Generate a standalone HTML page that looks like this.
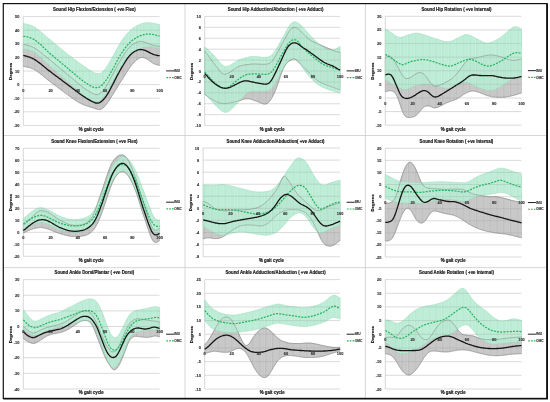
<!DOCTYPE html>
<html><head><meta charset="utf-8"><title>Sound limb kinematics: IMU vs OMC</title>
<style>
html,body{margin:0;padding:0;background:#fff;}
svg{display:block}
text{font-family:"Liberation Sans", sans-serif;font-weight:bold;fill:#222;stroke:#222;stroke-width:.12px;paint-order:stroke}
.tk{font-size:3.9px;fill:#333;stroke:#333;stroke-width:.12px}
.tt{font-size:4.36px;fill:#151515;stroke:#151515;stroke-width:.17px}
.ax{font-size:4.36px;fill:#151515;stroke:#151515;stroke-width:.17px}
.lg{font-size:3.3px;fill:#333;stroke:#333;stroke-width:.1px}
.gl{stroke:#d2d2d2;stroke-width:.8}
.go{stroke:#777;stroke-width:.8;stroke-opacity:.2}
.bi{fill:url(#hg);stroke:#a2a2a2;stroke-width:.45}
.bo{fill:url(#ho);fill-opacity:.9;stroke:#93d9b5;stroke-width:.5}
.si{fill:none;stroke:#808080;stroke-width:.6}
.mo{fill:none;stroke:#25b45e;stroke-width:1.25;stroke-dasharray:2.0 1.2}
.mi{fill:none;stroke:#151515;stroke-width:1.3;stroke-linejoin:round}
</style></head><body>
<svg width="550" height="402" viewBox="0 0 550 402">
<defs>
<pattern id="hg" width="6.8" height="8" patternUnits="userSpaceOnUse"><rect width="6.8" height="8" fill="#cdcdcd"/><path d="M1.36 0V8M2.72 0V8M4.08 0V8M5.44 0V8" stroke="#bdbdbd" stroke-width=".5"/><path d="M0.3 0V8" stroke="#b0b0b0" stroke-width=".6"/></pattern>
<pattern id="ho" width="6.8" height="8" patternUnits="userSpaceOnUse"><rect width="6.8" height="8" fill="#bff0da"/><path d="M1.36 0V8M2.72 0V8M4.08 0V8M5.44 0V8" stroke="#a9e0c6" stroke-width=".5"/><path d="M0.3 0V8" stroke="#9fdabd" stroke-width=".6"/></pattern>
</defs>
<rect width="550" height="402" fill="#fff"/>

<line x1="185.0" y1="4" x2="185.0" y2="398" stroke="#c6c6c6" stroke-width=".7"/>
<line x1="365.4" y1="4" x2="365.4" y2="398" stroke="#c6c6c6" stroke-width=".7"/>
<line x1="3.5" y1="135.5" x2="546.5" y2="135.5" stroke="#c6c6c6" stroke-width=".7"/>
<line x1="3.5" y1="267.6" x2="546.5" y2="267.6" stroke="#c6c6c6" stroke-width=".7"/>
<g id="panel1">
<line class="gl" x1="23.3" y1="16.60" x2="159.6" y2="16.60"/>
<line class="gl" x1="23.3" y1="30.20" x2="159.6" y2="30.20"/>
<line class="gl" x1="23.3" y1="43.80" x2="159.6" y2="43.80"/>
<line class="gl" x1="23.3" y1="57.40" x2="159.6" y2="57.40"/>
<line class="gl" x1="23.3" y1="71.00" x2="159.6" y2="71.00"/>
<line class="gl" x1="23.3" y1="84.60" x2="159.6" y2="84.60"/>
<line class="gl" x1="23.3" y1="98.20" x2="159.6" y2="98.20"/>
<line class="gl" x1="23.3" y1="111.80" x2="159.6" y2="111.80"/>
<line class="gl" x1="23.3" y1="125.40" x2="159.6" y2="125.40"/>
<line x1="23.3" y1="16.60" x2="23.3" y2="125.40" stroke="#bcbcbc" stroke-width=".6"/>
<clipPath id="cp1"><path d="M23.3 44.4L24.2 44.6L25.1 44.7L26 44.9L26.9 45.2L27.8 45.4L28.8 45.7L29.7 46L30.6 46.3L31.5 46.6L32.4 47L33.3 47.4L34.2 47.9L35.1 48.4L36 49L36.9 49.6L37.8 50.2L38.7 50.9L39.7 51.6L40.6 52.3L41.5 53L42.4 53.7L43.3 54.5L44.2 55.2L45.1 55.9L46 56.7L46.9 57.4L47.8 58.1L48.7 58.9L49.7 59.6L50.6 60.4L51.5 61.1L52.4 61.9L53.3 62.6L54.2 63.4L55.1 64.2L56 64.9L56.9 65.7L57.8 66.4L58.7 67.2L59.6 67.9L60.6 68.7L61.5 69.5L62.4 70.2L63.3 71L64.2 71.7L65.1 72.5L66 73.2L66.9 74L67.8 74.8L68.7 75.5L69.6 76.3L70.6 77L71.5 77.8L72.4 78.5L73.3 79.3L74.2 80.1L75.1 80.8L76 81.6L76.9 82.3L77.8 83.1L78.7 83.8L79.6 84.6L80.5 85.4L81.5 86.1L82.4 86.8L83.3 87.5L84.2 88.2L85.1 88.8L86 89.4L86.9 90L87.8 90.6L88.7 91.1L89.6 91.7L90.5 92.2L91.4 92.8L92.4 93.3L93.3 93.7L94.2 94.1L95.1 94.4L96 94.5L96.9 94.6L97.8 94.4L98.7 94.2L99.6 93.7L100.5 93.1L101.4 92.3L102.4 91.4L103.3 90.4L104.2 89.3L105.1 88L106 86.6L106.9 85.1L107.8 83.5L108.7 81.8L109.6 80.1L110.5 78.4L111.4 76.7L112.3 74.9L113.3 73.2L114.2 71.5L115.1 69.8L116 68.1L116.9 66.5L117.8 64.9L118.7 63.3L119.6 61.7L120.5 60.2L121.4 58.6L122.3 57.1L123.3 55.7L124.2 54.3L125.1 52.9L126 51.6L126.9 50.3L127.8 49.1L128.7 48.1L129.6 47.1L130.5 46.2L131.4 45.4L132.3 44.7L133.2 44.1L134.2 43.5L135.1 43L136 42.6L136.9 42.2L137.8 41.9L138.7 41.6L139.6 41.4L140.5 41.4L141.4 41.4L142.3 41.6L143.2 41.8L144.2 42L145.1 42.3L146 42.6L146.9 42.9L147.8 43.3L148.7 43.6L149.6 44L150.5 44.4L151.4 44.7L152.3 45L153.2 45.3L154.1 45.5L155.1 45.7L156 45.9L156.9 46.1L157.8 46.2L158.7 46.3L159.6 46.3L159.6 65.4L158.7 65.2L157.8 65.1L156.9 64.8L156 64.5L155.1 64.2L154.1 63.8L153.2 63.3L152.3 62.8L151.4 62.2L150.5 61.5L149.6 60.9L148.7 60.2L147.8 59.5L146.9 59L146 58.5L145.1 58.1L144.2 57.8L143.2 57.6L142.3 57.5L141.4 57.5L140.5 57.7L139.6 58L138.7 58.5L137.8 59.1L136.9 59.8L136 60.5L135.1 61.4L134.2 62.2L133.2 63.2L132.3 64.2L131.4 65.3L130.5 66.6L129.6 67.8L128.7 69.2L127.8 70.6L126.9 72L126 73.4L125.1 74.9L124.2 76.3L123.3 77.7L122.3 79.2L121.4 80.6L120.5 82.1L119.6 83.5L118.7 85L117.8 86.5L116.9 88L116 89.4L115.1 90.9L114.2 92.4L113.3 93.9L112.3 95.4L111.4 96.8L110.5 98.3L109.6 99.7L108.7 101.1L107.8 102.4L106.9 103.6L106 104.8L105.1 105.9L104.2 106.9L103.3 107.8L102.4 108.5L101.4 109.1L100.5 109.4L99.6 109.6L98.7 109.5L97.8 109.4L96.9 109.2L96 108.9L95.1 108.6L94.2 108.3L93.3 108L92.4 107.7L91.4 107.4L90.5 107.2L89.6 106.9L88.7 106.6L87.8 106.3L86.9 106L86 105.6L85.1 105.3L84.2 105L83.3 104.6L82.4 104.2L81.5 103.8L80.5 103.3L79.6 102.9L78.7 102.4L77.8 101.8L76.9 101.3L76 100.7L75.1 100.1L74.2 99.5L73.3 98.9L72.4 98.2L71.5 97.6L70.6 96.9L69.6 96.3L68.7 95.6L67.8 94.9L66.9 94.3L66 93.6L65.1 92.9L64.2 92.2L63.3 91.6L62.4 90.9L61.5 90.2L60.6 89.5L59.6 88.9L58.7 88.2L57.8 87.5L56.9 86.8L56 86.1L55.1 85.4L54.2 84.8L53.3 84.1L52.4 83.4L51.5 82.7L50.6 82L49.7 81.3L48.7 80.6L47.8 79.9L46.9 79.1L46 78.4L45.1 77.7L44.2 76.9L43.3 76.2L42.4 75.4L41.5 74.7L40.6 74L39.7 73.3L38.7 72.6L37.8 71.9L36.9 71.2L36 70.6L35.1 70.1L34.2 69.6L33.3 69.1L32.4 68.7L31.5 68.4L30.6 68L29.7 67.7L28.8 67.4L27.8 67.2L26.9 67L26 66.8L25.1 66.6L24.2 66.4L23.3 66.3Z"/><path d="M23.3 23.6L24.2 23.7L25.1 23.8L26 24L26.9 24.2L27.8 24.4L28.8 24.7L29.7 24.9L30.6 25.3L31.5 25.6L32.4 26L33.3 26.4L34.2 26.9L35.1 27.4L36 28L36.9 28.7L37.8 29.4L38.7 30.1L39.7 30.9L40.6 31.6L41.5 32.4L42.4 33.1L43.3 33.9L44.2 34.7L45.1 35.4L46 36.2L46.9 37L47.8 37.7L48.7 38.5L49.7 39.3L50.6 40L51.5 40.8L52.4 41.5L53.3 42.3L54.2 43L55.1 43.8L56 44.6L56.9 45.3L57.8 46.1L58.7 46.8L59.6 47.6L60.6 48.4L61.5 49.1L62.4 49.9L63.3 50.6L64.2 51.4L65.1 52.1L66 52.9L66.9 53.6L67.8 54.3L68.7 55.1L69.6 55.8L70.6 56.5L71.5 57.1L72.4 57.8L73.3 58.5L74.2 59.2L75.1 59.8L76 60.5L76.9 61.1L77.8 61.8L78.7 62.5L79.6 63.1L80.5 63.8L81.5 64.4L82.4 65.1L83.3 65.7L84.2 66.4L85.1 67L86 67.6L86.9 68.2L87.8 68.8L88.7 69.4L89.6 70L90.5 70.5L91.4 71.1L92.4 71.7L93.3 72.2L94.2 72.7L95.1 73.1L96 73.4L96.9 73.6L97.8 73.7L98.7 73.7L99.6 73.5L100.5 73.2L101.4 72.7L102.4 72L103.3 71L104.2 70L105.1 68.8L106 67.5L106.9 66.2L107.8 64.9L108.7 63.4L109.6 62L110.5 60.5L111.4 58.9L112.3 57.3L113.3 55.6L114.2 54L115.1 52.3L116 50.6L116.9 48.9L117.8 47.3L118.7 45.7L119.6 44.1L120.5 42.6L121.4 41.2L122.3 39.8L123.3 38.5L124.2 37.2L125.1 36L126 34.9L126.9 33.8L127.8 32.8L128.7 31.9L129.6 31L130.5 30.1L131.4 29.3L132.3 28.6L133.2 27.9L134.2 27.3L135.1 26.7L136 26.2L136.9 25.7L137.8 25.3L138.7 24.8L139.6 24.4L140.5 24.1L141.4 23.8L142.3 23.5L143.2 23.3L144.2 23.1L145.1 22.9L146 22.8L146.9 22.7L147.8 22.7L148.7 22.7L149.6 22.7L150.5 22.8L151.4 22.9L152.3 23L153.2 23.2L154.1 23.4L155.1 23.6L156 23.8L156.9 24L157.8 24.2L158.7 24.4L159.6 24.6L159.6 48.7L158.7 48.6L157.8 48.3L156.9 48.1L156 47.8L155.1 47.5L154.1 47.3L153.2 47.1L152.3 46.9L151.4 46.8L150.5 46.7L149.6 46.7L148.7 46.7L147.8 46.7L146.9 46.8L146 46.9L145.1 47.1L144.2 47.3L143.2 47.5L142.3 47.8L141.4 48.1L140.5 48.4L139.6 48.8L138.7 49.2L137.8 49.6L136.9 50.1L136 50.6L135.1 51.2L134.2 51.8L133.2 52.4L132.3 53.1L131.4 53.9L130.5 54.7L129.6 55.5L128.7 56.5L127.8 57.5L126.9 58.5L126 59.6L125.1 60.8L124.2 62L123.3 63.3L122.3 64.7L121.4 66.1L120.5 67.6L119.6 69.2L118.7 70.8L117.8 72.4L116.9 74.1L116 75.8L115.1 77.5L114.2 79.2L113.3 80.9L112.3 82.5L111.4 84.2L110.5 85.8L109.6 87.4L108.7 89L107.8 90.5L106.9 92L106 93.4L105.1 94.8L104.2 96.2L103.3 97.4L102.4 98.6L101.4 99.6L100.5 100.4L99.6 101L98.7 101.4L97.8 101.7L96.9 101.8L96 101.8L95.1 101.7L94.2 101.5L93.3 101.3L92.4 101L91.4 100.6L90.5 100.1L89.6 99.6L88.7 99L87.8 98.4L86.9 97.8L86 97.2L85.1 96.5L84.2 95.9L83.3 95.2L82.4 94.5L81.5 93.7L80.5 93L79.6 92.2L78.7 91.4L77.8 90.6L76.9 89.9L76 89.1L75.1 88.3L74.2 87.5L73.3 86.7L72.4 85.9L71.5 85.1L70.6 84.4L69.6 83.6L68.7 82.8L67.8 82L66.9 81.2L66 80.4L65.1 79.6L64.2 78.8L63.3 78L62.4 77.2L61.5 76.4L60.6 75.6L59.6 74.8L58.7 74L57.8 73.2L56.9 72.4L56 71.6L55.1 70.8L54.2 70L53.3 69.2L52.4 68.3L51.5 67.5L50.6 66.7L49.7 65.9L48.7 65.1L47.8 64.2L46.9 63.4L46 62.5L45.1 61.6L44.2 60.8L43.3 59.9L42.4 59L41.5 58.2L40.6 57.3L39.7 56.5L38.7 55.6L37.8 54.8L36.9 54.1L36 53.4L35.1 52.8L34.2 52.2L33.3 51.7L32.4 51.3L31.5 50.9L30.6 50.5L29.7 50.2L28.8 50L27.8 49.7L26.9 49.5L26 49.4L25.1 49.2L24.2 49.1L23.3 49Z"/></clipPath>
<path class="bi" d="M23.3 44.4L24.2 44.6L25.1 44.7L26 44.9L26.9 45.2L27.8 45.4L28.8 45.7L29.7 46L30.6 46.3L31.5 46.6L32.4 47L33.3 47.4L34.2 47.9L35.1 48.4L36 49L36.9 49.6L37.8 50.2L38.7 50.9L39.7 51.6L40.6 52.3L41.5 53L42.4 53.7L43.3 54.5L44.2 55.2L45.1 55.9L46 56.7L46.9 57.4L47.8 58.1L48.7 58.9L49.7 59.6L50.6 60.4L51.5 61.1L52.4 61.9L53.3 62.6L54.2 63.4L55.1 64.2L56 64.9L56.9 65.7L57.8 66.4L58.7 67.2L59.6 67.9L60.6 68.7L61.5 69.5L62.4 70.2L63.3 71L64.2 71.7L65.1 72.5L66 73.2L66.9 74L67.8 74.8L68.7 75.5L69.6 76.3L70.6 77L71.5 77.8L72.4 78.5L73.3 79.3L74.2 80.1L75.1 80.8L76 81.6L76.9 82.3L77.8 83.1L78.7 83.8L79.6 84.6L80.5 85.4L81.5 86.1L82.4 86.8L83.3 87.5L84.2 88.2L85.1 88.8L86 89.4L86.9 90L87.8 90.6L88.7 91.1L89.6 91.7L90.5 92.2L91.4 92.8L92.4 93.3L93.3 93.7L94.2 94.1L95.1 94.4L96 94.5L96.9 94.6L97.8 94.4L98.7 94.2L99.6 93.7L100.5 93.1L101.4 92.3L102.4 91.4L103.3 90.4L104.2 89.3L105.1 88L106 86.6L106.9 85.1L107.8 83.5L108.7 81.8L109.6 80.1L110.5 78.4L111.4 76.7L112.3 74.9L113.3 73.2L114.2 71.5L115.1 69.8L116 68.1L116.9 66.5L117.8 64.9L118.7 63.3L119.6 61.7L120.5 60.2L121.4 58.6L122.3 57.1L123.3 55.7L124.2 54.3L125.1 52.9L126 51.6L126.9 50.3L127.8 49.1L128.7 48.1L129.6 47.1L130.5 46.2L131.4 45.4L132.3 44.7L133.2 44.1L134.2 43.5L135.1 43L136 42.6L136.9 42.2L137.8 41.9L138.7 41.6L139.6 41.4L140.5 41.4L141.4 41.4L142.3 41.6L143.2 41.8L144.2 42L145.1 42.3L146 42.6L146.9 42.9L147.8 43.3L148.7 43.6L149.6 44L150.5 44.4L151.4 44.7L152.3 45L153.2 45.3L154.1 45.5L155.1 45.7L156 45.9L156.9 46.1L157.8 46.2L158.7 46.3L159.6 46.3L159.6 65.4L158.7 65.2L157.8 65.1L156.9 64.8L156 64.5L155.1 64.2L154.1 63.8L153.2 63.3L152.3 62.8L151.4 62.2L150.5 61.5L149.6 60.9L148.7 60.2L147.8 59.5L146.9 59L146 58.5L145.1 58.1L144.2 57.8L143.2 57.6L142.3 57.5L141.4 57.5L140.5 57.7L139.6 58L138.7 58.5L137.8 59.1L136.9 59.8L136 60.5L135.1 61.4L134.2 62.2L133.2 63.2L132.3 64.2L131.4 65.3L130.5 66.6L129.6 67.8L128.7 69.2L127.8 70.6L126.9 72L126 73.4L125.1 74.9L124.2 76.3L123.3 77.7L122.3 79.2L121.4 80.6L120.5 82.1L119.6 83.5L118.7 85L117.8 86.5L116.9 88L116 89.4L115.1 90.9L114.2 92.4L113.3 93.9L112.3 95.4L111.4 96.8L110.5 98.3L109.6 99.7L108.7 101.1L107.8 102.4L106.9 103.6L106 104.8L105.1 105.9L104.2 106.9L103.3 107.8L102.4 108.5L101.4 109.1L100.5 109.4L99.6 109.6L98.7 109.5L97.8 109.4L96.9 109.2L96 108.9L95.1 108.6L94.2 108.3L93.3 108L92.4 107.7L91.4 107.4L90.5 107.2L89.6 106.9L88.7 106.6L87.8 106.3L86.9 106L86 105.6L85.1 105.3L84.2 105L83.3 104.6L82.4 104.2L81.5 103.8L80.5 103.3L79.6 102.9L78.7 102.4L77.8 101.8L76.9 101.3L76 100.7L75.1 100.1L74.2 99.5L73.3 98.9L72.4 98.2L71.5 97.6L70.6 96.9L69.6 96.3L68.7 95.6L67.8 94.9L66.9 94.3L66 93.6L65.1 92.9L64.2 92.2L63.3 91.6L62.4 90.9L61.5 90.2L60.6 89.5L59.6 88.9L58.7 88.2L57.8 87.5L56.9 86.8L56 86.1L55.1 85.4L54.2 84.8L53.3 84.1L52.4 83.4L51.5 82.7L50.6 82L49.7 81.3L48.7 80.6L47.8 79.9L46.9 79.1L46 78.4L45.1 77.7L44.2 76.9L43.3 76.2L42.4 75.4L41.5 74.7L40.6 74L39.7 73.3L38.7 72.6L37.8 71.9L36.9 71.2L36 70.6L35.1 70.1L34.2 69.6L33.3 69.1L32.4 68.7L31.5 68.4L30.6 68L29.7 67.7L28.8 67.4L27.8 67.2L26.9 67L26 66.8L25.1 66.6L24.2 66.4L23.3 66.3Z"/>
<path class="bo" d="M23.3 23.6L24.2 23.7L25.1 23.8L26 24L26.9 24.2L27.8 24.4L28.8 24.7L29.7 24.9L30.6 25.3L31.5 25.6L32.4 26L33.3 26.4L34.2 26.9L35.1 27.4L36 28L36.9 28.7L37.8 29.4L38.7 30.1L39.7 30.9L40.6 31.6L41.5 32.4L42.4 33.1L43.3 33.9L44.2 34.7L45.1 35.4L46 36.2L46.9 37L47.8 37.7L48.7 38.5L49.7 39.3L50.6 40L51.5 40.8L52.4 41.5L53.3 42.3L54.2 43L55.1 43.8L56 44.6L56.9 45.3L57.8 46.1L58.7 46.8L59.6 47.6L60.6 48.4L61.5 49.1L62.4 49.9L63.3 50.6L64.2 51.4L65.1 52.1L66 52.9L66.9 53.6L67.8 54.3L68.7 55.1L69.6 55.8L70.6 56.5L71.5 57.1L72.4 57.8L73.3 58.5L74.2 59.2L75.1 59.8L76 60.5L76.9 61.1L77.8 61.8L78.7 62.5L79.6 63.1L80.5 63.8L81.5 64.4L82.4 65.1L83.3 65.7L84.2 66.4L85.1 67L86 67.6L86.9 68.2L87.8 68.8L88.7 69.4L89.6 70L90.5 70.5L91.4 71.1L92.4 71.7L93.3 72.2L94.2 72.7L95.1 73.1L96 73.4L96.9 73.6L97.8 73.7L98.7 73.7L99.6 73.5L100.5 73.2L101.4 72.7L102.4 72L103.3 71L104.2 70L105.1 68.8L106 67.5L106.9 66.2L107.8 64.9L108.7 63.4L109.6 62L110.5 60.5L111.4 58.9L112.3 57.3L113.3 55.6L114.2 54L115.1 52.3L116 50.6L116.9 48.9L117.8 47.3L118.7 45.7L119.6 44.1L120.5 42.6L121.4 41.2L122.3 39.8L123.3 38.5L124.2 37.2L125.1 36L126 34.9L126.9 33.8L127.8 32.8L128.7 31.9L129.6 31L130.5 30.1L131.4 29.3L132.3 28.6L133.2 27.9L134.2 27.3L135.1 26.7L136 26.2L136.9 25.7L137.8 25.3L138.7 24.8L139.6 24.4L140.5 24.1L141.4 23.8L142.3 23.5L143.2 23.3L144.2 23.1L145.1 22.9L146 22.8L146.9 22.7L147.8 22.7L148.7 22.7L149.6 22.7L150.5 22.8L151.4 22.9L152.3 23L153.2 23.2L154.1 23.4L155.1 23.6L156 23.8L156.9 24L157.8 24.2L158.7 24.4L159.6 24.6L159.6 48.7L158.7 48.6L157.8 48.3L156.9 48.1L156 47.8L155.1 47.5L154.1 47.3L153.2 47.1L152.3 46.9L151.4 46.8L150.5 46.7L149.6 46.7L148.7 46.7L147.8 46.7L146.9 46.8L146 46.9L145.1 47.1L144.2 47.3L143.2 47.5L142.3 47.8L141.4 48.1L140.5 48.4L139.6 48.8L138.7 49.2L137.8 49.6L136.9 50.1L136 50.6L135.1 51.2L134.2 51.8L133.2 52.4L132.3 53.1L131.4 53.9L130.5 54.7L129.6 55.5L128.7 56.5L127.8 57.5L126.9 58.5L126 59.6L125.1 60.8L124.2 62L123.3 63.3L122.3 64.7L121.4 66.1L120.5 67.6L119.6 69.2L118.7 70.8L117.8 72.4L116.9 74.1L116 75.8L115.1 77.5L114.2 79.2L113.3 80.9L112.3 82.5L111.4 84.2L110.5 85.8L109.6 87.4L108.7 89L107.8 90.5L106.9 92L106 93.4L105.1 94.8L104.2 96.2L103.3 97.4L102.4 98.6L101.4 99.6L100.5 100.4L99.6 101L98.7 101.4L97.8 101.7L96.9 101.8L96 101.8L95.1 101.7L94.2 101.5L93.3 101.3L92.4 101L91.4 100.6L90.5 100.1L89.6 99.6L88.7 99L87.8 98.4L86.9 97.8L86 97.2L85.1 96.5L84.2 95.9L83.3 95.2L82.4 94.5L81.5 93.7L80.5 93L79.6 92.2L78.7 91.4L77.8 90.6L76.9 89.9L76 89.1L75.1 88.3L74.2 87.5L73.3 86.7L72.4 85.9L71.5 85.1L70.6 84.4L69.6 83.6L68.7 82.8L67.8 82L66.9 81.2L66 80.4L65.1 79.6L64.2 78.8L63.3 78L62.4 77.2L61.5 76.4L60.6 75.6L59.6 74.8L58.7 74L57.8 73.2L56.9 72.4L56 71.6L55.1 70.8L54.2 70L53.3 69.2L52.4 68.3L51.5 67.5L50.6 66.7L49.7 65.9L48.7 65.1L47.8 64.2L46.9 63.4L46 62.5L45.1 61.6L44.2 60.8L43.3 59.9L42.4 59L41.5 58.2L40.6 57.3L39.7 56.5L38.7 55.6L37.8 54.8L36.9 54.1L36 53.4L35.1 52.8L34.2 52.2L33.3 51.7L32.4 51.3L31.5 50.9L30.6 50.5L29.7 50.2L28.8 50L27.8 49.7L26.9 49.5L26 49.4L25.1 49.2L24.2 49.1L23.3 49Z"/>
<path class="go" clip-path="url(#cp1)" d="M23.3 16.60H159.6M23.3 30.20H159.6M23.3 43.80H159.6M23.3 57.40H159.6M23.3 71.00H159.6M23.3 84.60H159.6M23.3 98.20H159.6M23.3 111.80H159.6M23.3 125.40H159.6"/>
<path class="si" d="M23.3 44.4L24.2 44.6L25.1 44.7L26 44.9L26.9 45.2L27.8 45.4L28.8 45.7L29.7 46L30.6 46.3L31.5 46.6L32.4 47L33.3 47.4L34.2 47.9L35.1 48.4L36 49L36.9 49.6L37.8 50.2L38.7 50.9L39.7 51.6L40.6 52.3L41.5 53L42.4 53.7L43.3 54.5L44.2 55.2L45.1 55.9L46 56.7L46.9 57.4L47.8 58.1L48.7 58.9L49.7 59.6L50.6 60.4L51.5 61.1L52.4 61.9L53.3 62.6L54.2 63.4L55.1 64.2L56 64.9L56.9 65.7L57.8 66.4L58.7 67.2L59.6 67.9L60.6 68.7L61.5 69.5L62.4 70.2L63.3 71L64.2 71.7L65.1 72.5L66 73.2L66.9 74L67.8 74.8L68.7 75.5L69.6 76.3L70.6 77L71.5 77.8L72.4 78.5L73.3 79.3L74.2 80.1L75.1 80.8L76 81.6L76.9 82.3L77.8 83.1L78.7 83.8L79.6 84.6L80.5 85.4L81.5 86.1L82.4 86.8L83.3 87.5L84.2 88.2L85.1 88.8L86 89.4L86.9 90L87.8 90.6L88.7 91.1L89.6 91.7L90.5 92.2L91.4 92.8L92.4 93.3L93.3 93.7L94.2 94.1L95.1 94.4L96 94.5L96.9 94.6L97.8 94.4L98.7 94.2L99.6 93.7L100.5 93.1L101.4 92.3L102.4 91.4L103.3 90.4L104.2 89.3L105.1 88L106 86.6L106.9 85.1L107.8 83.5L108.7 81.8L109.6 80.1L110.5 78.4L111.4 76.7L112.3 74.9L113.3 73.2L114.2 71.5L115.1 69.8L116 68.1L116.9 66.5L117.8 64.9L118.7 63.3L119.6 61.7L120.5 60.2L121.4 58.6L122.3 57.1L123.3 55.7L124.2 54.3L125.1 52.9L126 51.6L126.9 50.3L127.8 49.1L128.7 48.1L129.6 47.1L130.5 46.2L131.4 45.4L132.3 44.7L133.2 44.1L134.2 43.5L135.1 43L136 42.6L136.9 42.2L137.8 41.9L138.7 41.6L139.6 41.4L140.5 41.4L141.4 41.4L142.3 41.6L143.2 41.8L144.2 42L145.1 42.3L146 42.6L146.9 42.9L147.8 43.3L148.7 43.6L149.6 44L150.5 44.4L151.4 44.7L152.3 45L153.2 45.3L154.1 45.5L155.1 45.7L156 45.9L156.9 46.1L157.8 46.2L158.7 46.3L159.6 46.3" stroke-opacity=".85"/>
<path class="si" d="M23.3 66.3L24.2 66.4L25.1 66.6L26 66.8L26.9 67L27.8 67.2L28.8 67.4L29.7 67.7L30.6 68L31.5 68.4L32.4 68.7L33.3 69.1L34.2 69.6L35.1 70.1L36 70.6L36.9 71.2L37.8 71.9L38.7 72.6L39.7 73.3L40.6 74L41.5 74.7L42.4 75.4L43.3 76.2L44.2 76.9L45.1 77.7L46 78.4L46.9 79.1L47.8 79.9L48.7 80.6L49.7 81.3L50.6 82L51.5 82.7L52.4 83.4L53.3 84.1L54.2 84.8L55.1 85.4L56 86.1L56.9 86.8L57.8 87.5L58.7 88.2L59.6 88.9L60.6 89.5L61.5 90.2L62.4 90.9L63.3 91.6L64.2 92.2L65.1 92.9L66 93.6L66.9 94.3L67.8 94.9L68.7 95.6L69.6 96.3L70.6 96.9L71.5 97.6L72.4 98.2L73.3 98.9L74.2 99.5L75.1 100.1L76 100.7L76.9 101.3L77.8 101.8L78.7 102.4L79.6 102.9L80.5 103.3L81.5 103.8L82.4 104.2L83.3 104.6L84.2 105L85.1 105.3L86 105.6L86.9 106L87.8 106.3L88.7 106.6L89.6 106.9L90.5 107.2L91.4 107.4L92.4 107.7L93.3 108L94.2 108.3L95.1 108.6L96 108.9L96.9 109.2L97.8 109.4L98.7 109.5L99.6 109.6L100.5 109.4L101.4 109.1L102.4 108.5L103.3 107.8L104.2 106.9L105.1 105.9L106 104.8L106.9 103.6L107.8 102.4L108.7 101.1L109.6 99.7L110.5 98.3L111.4 96.8L112.3 95.4L113.3 93.9L114.2 92.4L115.1 90.9L116 89.4L116.9 88L117.8 86.5L118.7 85L119.6 83.5L120.5 82.1L121.4 80.6L122.3 79.2L123.3 77.7L124.2 76.3L125.1 74.9L126 73.4L126.9 72L127.8 70.6L128.7 69.2L129.6 67.8L130.5 66.6L131.4 65.3L132.3 64.2L133.2 63.2L134.2 62.2L135.1 61.4L136 60.5L136.9 59.8L137.8 59.1L138.7 58.5L139.6 58L140.5 57.7L141.4 57.5L142.3 57.5L143.2 57.6L144.2 57.8L145.1 58.1L146 58.5L146.9 59L147.8 59.5L148.7 60.2L149.6 60.9L150.5 61.5L151.4 62.2L152.3 62.8L153.2 63.3L154.1 63.8L155.1 64.2L156 64.5L156.9 64.8L157.8 65.1L158.7 65.2L159.6 65.4" stroke-opacity=".7"/>
<path class="mo" d="M23.3 36.3L24.2 36.4L25.1 36.5L26 36.6L26.9 36.8L27.8 37L28.8 37.3L29.7 37.6L30.6 37.9L31.5 38.2L32.4 38.6L33.3 39.1L34.2 39.6L35.1 40.1L36 40.7L36.9 41.4L37.8 42.1L38.7 42.9L39.7 43.7L40.6 44.5L41.5 45.4L42.4 46.3L43.3 47.2L44.2 48.1L45.1 49L46 49.8L46.9 50.7L47.8 51.6L48.7 52.4L49.7 53.2L50.6 54L51.5 54.8L52.4 55.5L53.3 56.3L54.2 57L55.1 57.8L56 58.6L56.9 59.3L57.8 60.1L58.7 60.8L59.6 61.6L60.6 62.3L61.5 63.1L62.4 63.9L63.3 64.6L64.2 65.4L65.1 66.1L66 66.9L66.9 67.6L67.8 68.4L68.7 69.2L69.6 69.9L70.6 70.7L71.5 71.4L72.4 72.2L73.3 72.9L74.2 73.7L75.1 74.5L76 75.2L76.9 76L77.8 76.7L78.7 77.5L79.6 78.2L80.5 79L81.5 79.7L82.4 80.4L83.3 81.1L84.2 81.8L85.1 82.4L86 83L86.9 83.6L87.8 84.2L88.7 84.8L89.6 85.3L90.5 85.9L91.4 86.3L92.4 86.8L93.3 87.1L94.2 87.4L95.1 87.6L96 87.7L96.9 87.7L97.8 87.6L98.7 87.4L99.6 87L100.5 86.4L101.4 85.6L102.4 84.8L103.3 83.8L104.2 82.7L105.1 81.5L106 80.3L106.9 79L107.8 77.6L108.7 76.2L109.6 74.7L110.5 73.1L111.4 71.6L112.3 69.9L113.3 68.2L114.2 66.5L115.1 64.8L116 63L116.9 61.3L117.8 59.6L118.7 58L119.6 56.4L120.5 54.9L121.4 53.4L122.3 52L123.3 50.7L124.2 49.4L125.1 48.2L126 47L126.9 45.9L127.8 44.8L128.7 43.8L129.6 42.9L130.5 42L131.4 41.2L132.3 40.4L133.2 39.7L134.2 39.1L135.1 38.5L136 37.9L136.9 37.4L137.8 36.9L138.7 36.5L139.6 36.1L140.5 35.7L141.4 35.4L142.3 35.1L143.2 34.8L144.2 34.6L145.1 34.4L146 34.2L146.9 34L147.8 34L148.7 33.9L149.6 34L150.5 34L151.4 34.2L152.3 34.3L153.2 34.5L154.1 34.7L155.1 35L156 35.2L156.9 35.5L157.8 35.7L158.7 35.9L159.6 36"/>
<path class="mi" d="M23.3 55.4L24.2 55.6L25.1 55.8L26 56L26.9 56.3L27.8 56.6L28.8 56.9L29.7 57.2L30.6 57.6L31.5 58L32.4 58.4L33.3 58.8L34.2 59.3L35.1 59.9L36 60.4L36.9 61L37.8 61.7L38.7 62.4L39.7 63.1L40.6 63.8L41.5 64.5L42.4 65.3L43.3 66L44.2 66.8L45.1 67.5L46 68.2L46.9 69L47.8 69.7L48.7 70.4L49.7 71.1L50.6 71.8L51.5 72.5L52.4 73.2L53.3 73.9L54.2 74.6L55.1 75.2L56 75.9L56.9 76.6L57.8 77.3L58.7 78L59.6 78.6L60.6 79.3L61.5 80L62.4 80.7L63.3 81.4L64.2 82.1L65.1 82.7L66 83.4L66.9 84.1L67.8 84.8L68.7 85.5L69.6 86.1L70.6 86.8L71.5 87.5L72.4 88.2L73.3 88.9L74.2 89.5L75.1 90.2L76 90.9L76.9 91.6L77.8 92.3L78.7 93L79.6 93.6L80.5 94.3L81.5 95L82.4 95.6L83.3 96.2L84.2 96.8L85.1 97.4L86 98L86.9 98.5L87.8 99.1L88.7 99.6L89.6 100.1L90.5 100.6L91.4 101.1L92.4 101.6L93.3 102L94.2 102.4L95.1 102.8L96 103L96.9 103.2L97.8 103.1L98.7 103L99.6 102.6L100.5 102.1L101.4 101.4L102.4 100.6L103.3 99.7L104.2 98.8L105.1 97.7L106 96.5L106.9 95.2L107.8 93.7L108.7 92.2L109.6 90.5L110.5 88.8L111.4 87L112.3 85.2L113.3 83.4L114.2 81.6L115.1 79.8L116 78.1L116.9 76.3L117.8 74.6L118.7 73L119.6 71.3L120.5 69.7L121.4 68.1L122.3 66.5L123.3 65L124.2 63.5L125.1 62L126 60.6L126.9 59.2L127.8 58L128.7 56.8L129.6 55.7L130.5 54.8L131.4 53.9L132.3 53.1L133.2 52.4L134.2 51.8L135.1 51.3L136 50.8L136.9 50.4L137.8 50L138.7 49.7L139.6 49.6L140.5 49.5L141.4 49.6L142.3 49.7L143.2 49.9L144.2 50.1L145.1 50.4L146 50.8L146.9 51.2L147.8 51.6L148.7 52.1L149.6 52.6L150.5 53.1L151.4 53.5L152.3 53.9L153.2 54.3L154.1 54.6L155.1 54.9L156 55.1L156.9 55.3L157.8 55.5L158.7 55.6L159.6 55.7"/>
<text class="tk" transform="translate(19.40,18.10) scale(1,1.1)" text-anchor="end">50</text>
<text class="tk" transform="translate(19.40,31.70) scale(1,1.1)" text-anchor="end">40</text>
<text class="tk" transform="translate(19.40,45.30) scale(1,1.1)" text-anchor="end">30</text>
<text class="tk" transform="translate(19.40,58.90) scale(1,1.1)" text-anchor="end">20</text>
<text class="tk" transform="translate(19.40,72.50) scale(1,1.1)" text-anchor="end">10</text>
<text class="tk" transform="translate(19.40,86.10) scale(1,1.1)" text-anchor="end">0</text>
<text class="tk" transform="translate(19.40,99.70) scale(1,1.1)" text-anchor="end">-10</text>
<text class="tk" transform="translate(19.40,113.30) scale(1,1.1)" text-anchor="end">-20</text>
<text class="tk" transform="translate(19.40,126.90) scale(1,1.1)" text-anchor="end">-30</text>
<text class="tk" transform="translate(23.30,91.60) scale(1,1.1)" text-anchor="middle">0</text>
<text class="tk" transform="translate(50.56,91.60) scale(1,1.1)" text-anchor="middle">20</text>
<text class="tk" transform="translate(77.82,91.60) scale(1,1.1)" text-anchor="middle">40</text>
<text class="tk" transform="translate(105.08,91.60) scale(1,1.1)" text-anchor="middle">60</text>
<text class="tk" transform="translate(132.34,91.60) scale(1,1.1)" text-anchor="middle">80</text>
<text class="tk" transform="translate(159.60,91.60) scale(1,1.1)" text-anchor="middle">100</text>
<text class="tt" transform="translate(94.40,11.20) scale(1,1.18)" text-anchor="middle">Sound Hip Flexion/Extension ( +ve Flex)</text>
<text class="ax" transform="translate(91.25,130.80) scale(1,1.12)" text-anchor="middle">% gait cycle</text>
<text class="ax" transform="translate(11.90,71.30) rotate(-90)" text-anchor="middle">Degrees</text>
<line x1="166.10" y1="70.90" x2="174.10" y2="70.90" stroke="#222" stroke-width="1"/>
<text class="lg" x="174.20" y="72.10">IMU</text>
<line x1="166.40" y1="77.60" x2="174.10" y2="77.60" stroke="#25b45e" stroke-width="1.1" stroke-dasharray="1.7 1.1"/>
<text class="lg" x="174.20" y="78.80">OMC</text>
</g>
<g id="panel2">
<line class="gl" x1="204.7" y1="16.40" x2="340.1" y2="16.40"/>
<line class="gl" x1="204.7" y1="27.32" x2="340.1" y2="27.32"/>
<line class="gl" x1="204.7" y1="38.24" x2="340.1" y2="38.24"/>
<line class="gl" x1="204.7" y1="49.16" x2="340.1" y2="49.16"/>
<line class="gl" x1="204.7" y1="60.08" x2="340.1" y2="60.08"/>
<line class="gl" x1="204.7" y1="71.00" x2="340.1" y2="71.00"/>
<line class="gl" x1="204.7" y1="81.92" x2="340.1" y2="81.92"/>
<line class="gl" x1="204.7" y1="92.84" x2="340.1" y2="92.84"/>
<line class="gl" x1="204.7" y1="103.76" x2="340.1" y2="103.76"/>
<line class="gl" x1="204.7" y1="114.68" x2="340.1" y2="114.68"/>
<line class="gl" x1="204.7" y1="125.60" x2="340.1" y2="125.60"/>
<line x1="204.7" y1="16.40" x2="204.7" y2="125.60" stroke="#bcbcbc" stroke-width=".6"/>
<clipPath id="cp2"><path d="M204.7 51.5L205.6 52.2L206.5 53.3L207.4 54.4L208.3 55.6L209.2 56.9L210.1 58.1L211 59.3L211.9 60.5L212.8 61.8L213.7 63L214.6 64.2L215.5 65.4L216.4 66.6L217.3 67.8L218.2 69L219.1 70.2L220 71.3L220.9 72.3L221.9 73.1L222.8 73.7L223.7 74.1L224.6 74.2L225.5 74.1L226.4 73.9L227.3 73.6L228.2 73.1L229.1 72.6L230 72.1L230.9 71.6L231.8 71L232.7 70.3L233.6 69.7L234.5 69.1L235.4 68.4L236.3 67.9L237.2 67.3L238.1 66.9L239 66.4L239.9 66.1L240.8 65.8L241.7 65.5L242.6 65.3L243.5 65.1L244.4 65L245.3 64.8L246.2 64.7L247.1 64.6L248 64.5L248.9 64.4L249.8 64.3L250.7 64.2L251.6 64.1L252.5 64.1L253.4 64L254.3 64L255.2 64L256.2 64L257.1 64.1L258 64.1L258.9 64.2L259.8 64.2L260.7 64.2L261.6 64.3L262.5 64.3L263.4 64.3L264.3 64.3L265.2 64.2L266.1 64.2L267 64L267.9 63.9L268.8 63.6L269.7 63.2L270.6 62.7L271.5 61.9L272.4 60.9L273.3 59.7L274.2 58.2L275.1 56.7L276 55.1L276.9 53.4L277.8 51.8L278.7 50.1L279.6 48.5L280.5 46.8L281.4 45.1L282.3 43.5L283.2 41.8L284.1 40.2L285 38.5L285.9 36.9L286.8 35.2L287.7 33.6L288.6 32.1L289.6 30.7L290.5 29.5L291.4 28.6L292.3 28L293.2 27.6L294.1 27.5L295 27.5L295.9 27.6L296.8 28L297.7 28.5L298.6 29.2L299.5 30.1L300.4 30.9L301.3 31.8L302.2 32.7L303.1 33.6L304 34.5L304.9 35.4L305.8 36.3L306.7 37.2L307.6 38L308.5 38.8L309.4 39.5L310.3 40.2L311.2 40.8L312.1 41.3L313 41.7L313.9 42.1L314.8 42.5L315.7 42.9L316.6 43.3L317.5 43.7L318.4 44.1L319.3 44.5L320.2 44.8L321.1 45.2L322 45.6L322.9 46L323.9 46.4L324.8 46.8L325.7 47.2L326.6 47.6L327.5 48L328.4 48.4L329.3 48.8L330.2 49.2L331.1 49.6L332 50L332.9 50.4L333.8 50.7L334.7 51L335.6 51.3L336.5 51.5L337.4 51.8L338.3 51.9L339.2 52.1L340.1 52.2L340.1 89.6L339.2 89.4L338.3 89.2L337.4 88.9L336.5 88.6L335.6 88.3L334.7 88L333.8 87.6L332.9 87.3L332 86.9L331.1 86.6L330.2 86.3L329.3 85.9L328.4 85.6L327.5 85.3L326.6 84.9L325.7 84.6L324.8 84.2L323.9 83.9L322.9 83.5L322 83.2L321.1 82.7L320.2 82.3L319.3 81.7L318.4 81.2L317.5 80.5L316.6 79.8L315.7 79.1L314.8 78.3L313.9 77.5L313 76.6L312.1 75.7L311.2 74.8L310.3 73.9L309.4 73L308.5 72.1L307.6 71.2L306.7 70.3L305.8 69.4L304.9 68.5L304 67.6L303.1 66.7L302.2 65.8L301.3 64.9L300.4 64L299.5 63.1L298.6 62.2L297.7 61.3L296.8 60.5L295.9 59.8L295 59.3L294.1 59.1L293.2 59.2L292.3 59.6L291.4 60L290.5 60.5L289.6 61L288.6 61.6L287.7 62.3L286.8 63.1L285.9 64.1L285 65.4L284.1 66.9L283.2 68.8L282.3 70.9L281.4 73.4L280.5 76L279.6 78.8L278.7 81.5L277.8 84.2L276.9 86.7L276 89L275.1 91.2L274.2 93.2L273.3 95.2L272.4 97L271.5 98.6L270.6 100L269.7 101.2L268.8 102.2L267.9 103L267 103.5L266.1 103.9L265.2 104.1L264.3 104.1L263.4 103.9L262.5 103.7L261.6 103.3L260.7 103L259.8 102.6L258.9 102.2L258 101.8L257.1 101.5L256.2 101.2L255.2 100.8L254.3 100.5L253.4 100.1L252.5 99.8L251.6 99.5L250.7 99.2L249.8 99L248.9 98.8L248 98.7L247.1 98.7L246.2 98.7L245.3 98.9L244.4 99.1L243.5 99.3L242.6 99.6L241.7 99.9L240.8 100.2L239.9 100.5L239 100.8L238.1 101.1L237.2 101.3L236.3 101.5L235.4 101.8L234.5 102L233.6 102.2L232.7 102.4L231.8 102.6L230.9 102.7L230 102.9L229.1 103.1L228.2 103.2L227.3 103.4L226.4 103.5L225.5 103.6L224.6 103.6L223.7 103.6L222.8 103.6L221.9 103.4L220.9 103.3L220 103L219.1 102.7L218.2 102.4L217.3 102.1L216.4 101.7L215.5 101.2L214.6 100.8L213.7 100.3L212.8 99.8L211.9 99.3L211 98.8L210.1 98.2L209.2 97.6L208.3 96.9L207.4 96.2L206.5 95.5L205.6 94.8L204.7 94.3Z"/><path d="M204.7 47.1L205.6 47.6L206.5 48.2L207.4 49L208.3 49.8L209.2 50.6L210.1 51.5L211 52.3L211.9 53.2L212.8 54.2L213.7 55.1L214.6 56.1L215.5 57.2L216.4 58.3L217.3 59.3L218.2 60.4L219.1 61.5L220 62.5L220.9 63.5L221.9 64.4L222.8 65.1L223.7 65.8L224.6 66.2L225.5 66.4L226.4 66.5L227.3 66.3L228.2 66L229.1 65.7L230 65.2L230.9 64.7L231.8 64.2L232.7 63.6L233.6 63.1L234.5 62.5L235.4 62L236.3 61.4L237.2 60.9L238.1 60.5L239 60L239.9 59.6L240.8 59.3L241.7 58.9L242.6 58.6L243.5 58.3L244.4 58.1L245.3 57.8L246.2 57.6L247.1 57.4L248 57.1L248.9 57L249.8 56.8L250.7 56.6L251.6 56.5L252.5 56.4L253.4 56.4L254.3 56.4L255.2 56.4L256.2 56.5L257.1 56.6L258 56.7L258.9 56.8L259.8 57L260.7 57.1L261.6 57.2L262.5 57.3L263.4 57.3L264.3 57.3L265.2 57.3L266.1 57.3L267 57.1L267.9 56.9L268.8 56.7L269.7 56.3L270.6 55.8L271.5 55.1L272.4 54.2L273.3 53.2L274.2 52L275.1 50.7L276 49.3L276.9 47.8L277.8 46.3L278.7 44.8L279.6 43.2L280.5 41.6L281.4 40L282.3 38.4L283.2 36.8L284.1 35.1L285 33.4L285.9 31.7L286.8 30.1L287.7 28.5L288.6 26.9L289.6 25.5L290.5 24.3L291.4 23.3L292.3 22.6L293.2 22.1L294.1 21.8L295 21.8L295.9 22L296.8 22.3L297.7 22.8L298.6 23.3L299.5 24L300.4 24.7L301.3 25.6L302.2 26.5L303.1 27.4L304 28.4L304.9 29.5L305.8 30.5L306.7 31.5L307.6 32.6L308.5 33.6L309.4 34.6L310.3 35.6L311.2 36.6L312.1 37.5L313 38.4L313.9 39.3L314.8 40.2L315.7 41L316.6 41.8L317.5 42.6L318.4 43.4L319.3 44.1L320.2 44.8L321.1 45.5L322 46.2L322.9 46.8L323.9 47.4L324.8 48L325.7 48.4L326.6 48.8L327.5 49.2L328.4 49.5L329.3 49.7L330.2 49.9L331.1 50L332 50.1L332.9 50L333.8 49.8L334.7 49.5L335.6 49.1L336.5 48.6L337.4 48L338.3 47.4L339.2 46.9L340.1 46.6L340.1 92.9L339.2 92.8L338.3 92.6L337.4 92.4L336.5 92.2L335.6 91.9L334.7 91.6L333.8 91.3L332.9 91.1L332 90.8L331.1 90.5L330.2 90.2L329.3 89.9L328.4 89.5L327.5 89.2L326.6 88.9L325.7 88.5L324.8 88.2L323.9 87.8L322.9 87.4L322 87L321.1 86.5L320.2 86L319.3 85.5L318.4 84.9L317.5 84.3L316.6 83.6L315.7 82.8L314.8 82.1L313.9 81.2L313 80.4L312.1 79.5L311.2 78.6L310.3 77.6L309.4 76.6L308.5 75.5L307.6 74.4L306.7 73.3L305.8 72.1L304.9 70.9L304 69.7L303.1 68.4L302.2 67.1L301.3 65.7L300.4 64.3L299.5 62.9L298.6 61.5L297.7 60.4L296.8 59.6L295.9 59.1L295 58.8L294.1 58.7L293.2 58.7L292.3 58.8L291.4 59L290.5 59.5L289.6 60.2L288.6 61.1L287.7 62.2L286.8 63.4L285.9 64.7L285 66L284.1 67.5L283.2 68.9L282.3 70.4L281.4 71.9L280.5 73.5L279.6 75.2L278.7 76.9L277.8 78.6L276.9 80.3L276 82L275.1 83.6L274.2 85L273.3 86.3L272.4 87.5L271.5 88.5L270.6 89.3L269.7 90L268.8 90.5L267.9 90.9L267 91.2L266.1 91.3L265.2 91.4L264.3 91.5L263.4 91.5L262.5 91.5L261.6 91.5L260.7 91.4L259.8 91.4L258.9 91.4L258 91.4L257.1 91.4L256.2 91.4L255.2 91.4L254.3 91.4L253.4 91.4L252.5 91.4L251.6 91.4L250.7 91.5L249.8 91.7L248.9 92L248 92.5L247.1 93.1L246.2 93.8L245.3 94.7L244.4 95.6L243.5 96.5L242.6 97.5L241.7 98.5L240.8 99.5L239.9 100.5L239 101.5L238.1 102.4L237.2 103.4L236.3 104.3L235.4 105.2L234.5 106.1L233.6 107L232.7 107.9L231.8 108.8L230.9 109.6L230 110.4L229.1 111.1L228.2 111.6L227.3 112L226.4 112.3L225.5 112.3L224.6 112.3L223.7 112L222.8 111.6L221.9 111.1L220.9 110.4L220 109.6L219.1 108.8L218.2 107.9L217.3 107L216.4 106.1L215.5 105.2L214.6 104.3L213.7 103.4L212.8 102.5L211.9 101.5L211 100.6L210.1 99.6L209.2 98.7L208.3 97.7L207.4 96.8L206.5 95.9L205.6 95.1L204.7 94.5Z"/></clipPath>
<path class="bi" d="M204.7 51.5L205.6 52.2L206.5 53.3L207.4 54.4L208.3 55.6L209.2 56.9L210.1 58.1L211 59.3L211.9 60.5L212.8 61.8L213.7 63L214.6 64.2L215.5 65.4L216.4 66.6L217.3 67.8L218.2 69L219.1 70.2L220 71.3L220.9 72.3L221.9 73.1L222.8 73.7L223.7 74.1L224.6 74.2L225.5 74.1L226.4 73.9L227.3 73.6L228.2 73.1L229.1 72.6L230 72.1L230.9 71.6L231.8 71L232.7 70.3L233.6 69.7L234.5 69.1L235.4 68.4L236.3 67.9L237.2 67.3L238.1 66.9L239 66.4L239.9 66.1L240.8 65.8L241.7 65.5L242.6 65.3L243.5 65.1L244.4 65L245.3 64.8L246.2 64.7L247.1 64.6L248 64.5L248.9 64.4L249.8 64.3L250.7 64.2L251.6 64.1L252.5 64.1L253.4 64L254.3 64L255.2 64L256.2 64L257.1 64.1L258 64.1L258.9 64.2L259.8 64.2L260.7 64.2L261.6 64.3L262.5 64.3L263.4 64.3L264.3 64.3L265.2 64.2L266.1 64.2L267 64L267.9 63.9L268.8 63.6L269.7 63.2L270.6 62.7L271.5 61.9L272.4 60.9L273.3 59.7L274.2 58.2L275.1 56.7L276 55.1L276.9 53.4L277.8 51.8L278.7 50.1L279.6 48.5L280.5 46.8L281.4 45.1L282.3 43.5L283.2 41.8L284.1 40.2L285 38.5L285.9 36.9L286.8 35.2L287.7 33.6L288.6 32.1L289.6 30.7L290.5 29.5L291.4 28.6L292.3 28L293.2 27.6L294.1 27.5L295 27.5L295.9 27.6L296.8 28L297.7 28.5L298.6 29.2L299.5 30.1L300.4 30.9L301.3 31.8L302.2 32.7L303.1 33.6L304 34.5L304.9 35.4L305.8 36.3L306.7 37.2L307.6 38L308.5 38.8L309.4 39.5L310.3 40.2L311.2 40.8L312.1 41.3L313 41.7L313.9 42.1L314.8 42.5L315.7 42.9L316.6 43.3L317.5 43.7L318.4 44.1L319.3 44.5L320.2 44.8L321.1 45.2L322 45.6L322.9 46L323.9 46.4L324.8 46.8L325.7 47.2L326.6 47.6L327.5 48L328.4 48.4L329.3 48.8L330.2 49.2L331.1 49.6L332 50L332.9 50.4L333.8 50.7L334.7 51L335.6 51.3L336.5 51.5L337.4 51.8L338.3 51.9L339.2 52.1L340.1 52.2L340.1 89.6L339.2 89.4L338.3 89.2L337.4 88.9L336.5 88.6L335.6 88.3L334.7 88L333.8 87.6L332.9 87.3L332 86.9L331.1 86.6L330.2 86.3L329.3 85.9L328.4 85.6L327.5 85.3L326.6 84.9L325.7 84.6L324.8 84.2L323.9 83.9L322.9 83.5L322 83.2L321.1 82.7L320.2 82.3L319.3 81.7L318.4 81.2L317.5 80.5L316.6 79.8L315.7 79.1L314.8 78.3L313.9 77.5L313 76.6L312.1 75.7L311.2 74.8L310.3 73.9L309.4 73L308.5 72.1L307.6 71.2L306.7 70.3L305.8 69.4L304.9 68.5L304 67.6L303.1 66.7L302.2 65.8L301.3 64.9L300.4 64L299.5 63.1L298.6 62.2L297.7 61.3L296.8 60.5L295.9 59.8L295 59.3L294.1 59.1L293.2 59.2L292.3 59.6L291.4 60L290.5 60.5L289.6 61L288.6 61.6L287.7 62.3L286.8 63.1L285.9 64.1L285 65.4L284.1 66.9L283.2 68.8L282.3 70.9L281.4 73.4L280.5 76L279.6 78.8L278.7 81.5L277.8 84.2L276.9 86.7L276 89L275.1 91.2L274.2 93.2L273.3 95.2L272.4 97L271.5 98.6L270.6 100L269.7 101.2L268.8 102.2L267.9 103L267 103.5L266.1 103.9L265.2 104.1L264.3 104.1L263.4 103.9L262.5 103.7L261.6 103.3L260.7 103L259.8 102.6L258.9 102.2L258 101.8L257.1 101.5L256.2 101.2L255.2 100.8L254.3 100.5L253.4 100.1L252.5 99.8L251.6 99.5L250.7 99.2L249.8 99L248.9 98.8L248 98.7L247.1 98.7L246.2 98.7L245.3 98.9L244.4 99.1L243.5 99.3L242.6 99.6L241.7 99.9L240.8 100.2L239.9 100.5L239 100.8L238.1 101.1L237.2 101.3L236.3 101.5L235.4 101.8L234.5 102L233.6 102.2L232.7 102.4L231.8 102.6L230.9 102.7L230 102.9L229.1 103.1L228.2 103.2L227.3 103.4L226.4 103.5L225.5 103.6L224.6 103.6L223.7 103.6L222.8 103.6L221.9 103.4L220.9 103.3L220 103L219.1 102.7L218.2 102.4L217.3 102.1L216.4 101.7L215.5 101.2L214.6 100.8L213.7 100.3L212.8 99.8L211.9 99.3L211 98.8L210.1 98.2L209.2 97.6L208.3 96.9L207.4 96.2L206.5 95.5L205.6 94.8L204.7 94.3Z"/>
<path class="bo" d="M204.7 47.1L205.6 47.6L206.5 48.2L207.4 49L208.3 49.8L209.2 50.6L210.1 51.5L211 52.3L211.9 53.2L212.8 54.2L213.7 55.1L214.6 56.1L215.5 57.2L216.4 58.3L217.3 59.3L218.2 60.4L219.1 61.5L220 62.5L220.9 63.5L221.9 64.4L222.8 65.1L223.7 65.8L224.6 66.2L225.5 66.4L226.4 66.5L227.3 66.3L228.2 66L229.1 65.7L230 65.2L230.9 64.7L231.8 64.2L232.7 63.6L233.6 63.1L234.5 62.5L235.4 62L236.3 61.4L237.2 60.9L238.1 60.5L239 60L239.9 59.6L240.8 59.3L241.7 58.9L242.6 58.6L243.5 58.3L244.4 58.1L245.3 57.8L246.2 57.6L247.1 57.4L248 57.1L248.9 57L249.8 56.8L250.7 56.6L251.6 56.5L252.5 56.4L253.4 56.4L254.3 56.4L255.2 56.4L256.2 56.5L257.1 56.6L258 56.7L258.9 56.8L259.8 57L260.7 57.1L261.6 57.2L262.5 57.3L263.4 57.3L264.3 57.3L265.2 57.3L266.1 57.3L267 57.1L267.9 56.9L268.8 56.7L269.7 56.3L270.6 55.8L271.5 55.1L272.4 54.2L273.3 53.2L274.2 52L275.1 50.7L276 49.3L276.9 47.8L277.8 46.3L278.7 44.8L279.6 43.2L280.5 41.6L281.4 40L282.3 38.4L283.2 36.8L284.1 35.1L285 33.4L285.9 31.7L286.8 30.1L287.7 28.5L288.6 26.9L289.6 25.5L290.5 24.3L291.4 23.3L292.3 22.6L293.2 22.1L294.1 21.8L295 21.8L295.9 22L296.8 22.3L297.7 22.8L298.6 23.3L299.5 24L300.4 24.7L301.3 25.6L302.2 26.5L303.1 27.4L304 28.4L304.9 29.5L305.8 30.5L306.7 31.5L307.6 32.6L308.5 33.6L309.4 34.6L310.3 35.6L311.2 36.6L312.1 37.5L313 38.4L313.9 39.3L314.8 40.2L315.7 41L316.6 41.8L317.5 42.6L318.4 43.4L319.3 44.1L320.2 44.8L321.1 45.5L322 46.2L322.9 46.8L323.9 47.4L324.8 48L325.7 48.4L326.6 48.8L327.5 49.2L328.4 49.5L329.3 49.7L330.2 49.9L331.1 50L332 50.1L332.9 50L333.8 49.8L334.7 49.5L335.6 49.1L336.5 48.6L337.4 48L338.3 47.4L339.2 46.9L340.1 46.6L340.1 92.9L339.2 92.8L338.3 92.6L337.4 92.4L336.5 92.2L335.6 91.9L334.7 91.6L333.8 91.3L332.9 91.1L332 90.8L331.1 90.5L330.2 90.2L329.3 89.9L328.4 89.5L327.5 89.2L326.6 88.9L325.7 88.5L324.8 88.2L323.9 87.8L322.9 87.4L322 87L321.1 86.5L320.2 86L319.3 85.5L318.4 84.9L317.5 84.3L316.6 83.6L315.7 82.8L314.8 82.1L313.9 81.2L313 80.4L312.1 79.5L311.2 78.6L310.3 77.6L309.4 76.6L308.5 75.5L307.6 74.4L306.7 73.3L305.8 72.1L304.9 70.9L304 69.7L303.1 68.4L302.2 67.1L301.3 65.7L300.4 64.3L299.5 62.9L298.6 61.5L297.7 60.4L296.8 59.6L295.9 59.1L295 58.8L294.1 58.7L293.2 58.7L292.3 58.8L291.4 59L290.5 59.5L289.6 60.2L288.6 61.1L287.7 62.2L286.8 63.4L285.9 64.7L285 66L284.1 67.5L283.2 68.9L282.3 70.4L281.4 71.9L280.5 73.5L279.6 75.2L278.7 76.9L277.8 78.6L276.9 80.3L276 82L275.1 83.6L274.2 85L273.3 86.3L272.4 87.5L271.5 88.5L270.6 89.3L269.7 90L268.8 90.5L267.9 90.9L267 91.2L266.1 91.3L265.2 91.4L264.3 91.5L263.4 91.5L262.5 91.5L261.6 91.5L260.7 91.4L259.8 91.4L258.9 91.4L258 91.4L257.1 91.4L256.2 91.4L255.2 91.4L254.3 91.4L253.4 91.4L252.5 91.4L251.6 91.4L250.7 91.5L249.8 91.7L248.9 92L248 92.5L247.1 93.1L246.2 93.8L245.3 94.7L244.4 95.6L243.5 96.5L242.6 97.5L241.7 98.5L240.8 99.5L239.9 100.5L239 101.5L238.1 102.4L237.2 103.4L236.3 104.3L235.4 105.2L234.5 106.1L233.6 107L232.7 107.9L231.8 108.8L230.9 109.6L230 110.4L229.1 111.1L228.2 111.6L227.3 112L226.4 112.3L225.5 112.3L224.6 112.3L223.7 112L222.8 111.6L221.9 111.1L220.9 110.4L220 109.6L219.1 108.8L218.2 107.9L217.3 107L216.4 106.1L215.5 105.2L214.6 104.3L213.7 103.4L212.8 102.5L211.9 101.5L211 100.6L210.1 99.6L209.2 98.7L208.3 97.7L207.4 96.8L206.5 95.9L205.6 95.1L204.7 94.5Z"/>
<path class="go" clip-path="url(#cp2)" d="M204.7 16.40H340.1M204.7 27.32H340.1M204.7 38.24H340.1M204.7 49.16H340.1M204.7 60.08H340.1M204.7 71.00H340.1M204.7 81.92H340.1M204.7 92.84H340.1M204.7 103.76H340.1M204.7 114.68H340.1M204.7 125.60H340.1"/>
<path class="si" d="M204.7 51.5L205.6 52.2L206.5 53.3L207.4 54.4L208.3 55.6L209.2 56.9L210.1 58.1L211 59.3L211.9 60.5L212.8 61.8L213.7 63L214.6 64.2L215.5 65.4L216.4 66.6L217.3 67.8L218.2 69L219.1 70.2L220 71.3L220.9 72.3L221.9 73.1L222.8 73.7L223.7 74.1L224.6 74.2L225.5 74.1L226.4 73.9L227.3 73.6L228.2 73.1L229.1 72.6L230 72.1L230.9 71.6L231.8 71L232.7 70.3L233.6 69.7L234.5 69.1L235.4 68.4L236.3 67.9L237.2 67.3L238.1 66.9L239 66.4L239.9 66.1L240.8 65.8L241.7 65.5L242.6 65.3L243.5 65.1L244.4 65L245.3 64.8L246.2 64.7L247.1 64.6L248 64.5L248.9 64.4L249.8 64.3L250.7 64.2L251.6 64.1L252.5 64.1L253.4 64L254.3 64L255.2 64L256.2 64L257.1 64.1L258 64.1L258.9 64.2L259.8 64.2L260.7 64.2L261.6 64.3L262.5 64.3L263.4 64.3L264.3 64.3L265.2 64.2L266.1 64.2L267 64L267.9 63.9L268.8 63.6L269.7 63.2L270.6 62.7L271.5 61.9L272.4 60.9L273.3 59.7L274.2 58.2L275.1 56.7L276 55.1L276.9 53.4L277.8 51.8L278.7 50.1L279.6 48.5L280.5 46.8L281.4 45.1L282.3 43.5L283.2 41.8L284.1 40.2L285 38.5L285.9 36.9L286.8 35.2L287.7 33.6L288.6 32.1L289.6 30.7L290.5 29.5L291.4 28.6L292.3 28L293.2 27.6L294.1 27.5L295 27.5L295.9 27.6L296.8 28L297.7 28.5L298.6 29.2L299.5 30.1L300.4 30.9L301.3 31.8L302.2 32.7L303.1 33.6L304 34.5L304.9 35.4L305.8 36.3L306.7 37.2L307.6 38L308.5 38.8L309.4 39.5L310.3 40.2L311.2 40.8L312.1 41.3L313 41.7L313.9 42.1L314.8 42.5L315.7 42.9L316.6 43.3L317.5 43.7L318.4 44.1L319.3 44.5L320.2 44.8L321.1 45.2L322 45.6L322.9 46L323.9 46.4L324.8 46.8L325.7 47.2L326.6 47.6L327.5 48L328.4 48.4L329.3 48.8L330.2 49.2L331.1 49.6L332 50L332.9 50.4L333.8 50.7L334.7 51L335.6 51.3L336.5 51.5L337.4 51.8L338.3 51.9L339.2 52.1L340.1 52.2" stroke-opacity=".85"/>
<path class="si" d="M204.7 94.3L205.6 94.8L206.5 95.5L207.4 96.2L208.3 96.9L209.2 97.6L210.1 98.2L211 98.8L211.9 99.3L212.8 99.8L213.7 100.3L214.6 100.8L215.5 101.2L216.4 101.7L217.3 102.1L218.2 102.4L219.1 102.7L220 103L220.9 103.3L221.9 103.4L222.8 103.6L223.7 103.6L224.6 103.6L225.5 103.6L226.4 103.5L227.3 103.4L228.2 103.2L229.1 103.1L230 102.9L230.9 102.7L231.8 102.6L232.7 102.4L233.6 102.2L234.5 102L235.4 101.8L236.3 101.5L237.2 101.3L238.1 101.1L239 100.8L239.9 100.5L240.8 100.2L241.7 99.9L242.6 99.6L243.5 99.3L244.4 99.1L245.3 98.9L246.2 98.7L247.1 98.7L248 98.7L248.9 98.8L249.8 99L250.7 99.2L251.6 99.5L252.5 99.8L253.4 100.1L254.3 100.5L255.2 100.8L256.2 101.2L257.1 101.5L258 101.8L258.9 102.2L259.8 102.6L260.7 103L261.6 103.3L262.5 103.7L263.4 103.9L264.3 104.1L265.2 104.1L266.1 103.9L267 103.5L267.9 103L268.8 102.2L269.7 101.2L270.6 100L271.5 98.6L272.4 97L273.3 95.2L274.2 93.2L275.1 91.2L276 89L276.9 86.7L277.8 84.2L278.7 81.5L279.6 78.8L280.5 76L281.4 73.4L282.3 70.9L283.2 68.8L284.1 66.9L285 65.4L285.9 64.1L286.8 63.1L287.7 62.3L288.6 61.6L289.6 61L290.5 60.5L291.4 60L292.3 59.6L293.2 59.2L294.1 59.1L295 59.3L295.9 59.8L296.8 60.5L297.7 61.3L298.6 62.2L299.5 63.1L300.4 64L301.3 64.9L302.2 65.8L303.1 66.7L304 67.6L304.9 68.5L305.8 69.4L306.7 70.3L307.6 71.2L308.5 72.1L309.4 73L310.3 73.9L311.2 74.8L312.1 75.7L313 76.6L313.9 77.5L314.8 78.3L315.7 79.1L316.6 79.8L317.5 80.5L318.4 81.2L319.3 81.7L320.2 82.3L321.1 82.7L322 83.2L322.9 83.5L323.9 83.9L324.8 84.2L325.7 84.6L326.6 84.9L327.5 85.3L328.4 85.6L329.3 85.9L330.2 86.3L331.1 86.6L332 86.9L332.9 87.3L333.8 87.6L334.7 88L335.6 88.3L336.5 88.6L337.4 88.9L338.3 89.2L339.2 89.4L340.1 89.6" stroke-opacity=".7"/>
<path class="mo" d="M204.7 72.2L205.6 72.9L206.5 73.8L207.4 74.9L208.3 75.9L209.2 76.9L210.1 77.9L211 78.9L211.9 79.9L212.8 80.8L213.7 81.7L214.6 82.5L215.5 83.4L216.4 84.1L217.3 84.9L218.2 85.6L219.1 86.2L220 86.8L220.9 87.3L221.9 87.8L222.8 88.1L223.7 88.3L224.6 88.3L225.5 88.2L226.4 88L227.3 87.7L228.2 87.2L229.1 86.7L230 86.1L230.9 85.5L231.8 84.8L232.7 84.1L233.6 83.3L234.5 82.5L235.4 81.7L236.3 81L237.2 80.3L238.1 79.6L239 78.9L239.9 78.2L240.8 77.6L241.7 77L242.6 76.4L243.5 75.9L244.4 75.4L245.3 75L246.2 74.7L247.1 74.4L248 74.3L248.9 74.1L249.8 74L250.7 74L251.6 73.9L252.5 73.9L253.4 73.9L254.3 73.9L255.2 73.9L256.2 73.9L257.1 73.9L258 73.9L258.9 74L259.8 74L260.7 74.1L261.6 74.1L262.5 74.2L263.4 74.3L264.3 74.3L265.2 74.3L266.1 74.3L267 74.2L267.9 74L268.8 73.7L269.7 73.3L270.6 72.7L271.5 71.9L272.4 71L273.3 69.8L274.2 68.5L275.1 67L276 65.4L276.9 63.7L277.8 62L278.7 60.3L279.6 58.7L280.5 57L281.4 55.4L282.3 53.8L283.2 52.2L284.1 50.7L285 49.1L285.9 47.6L286.8 46.1L287.7 44.7L288.6 43.4L289.6 42.2L290.5 41.3L291.4 40.5L292.3 40.1L293.2 39.8L294.1 39.7L295 39.8L295.9 40L296.8 40.5L297.7 41.3L298.6 42.3L299.5 43.4L300.4 44.6L301.3 45.8L302.2 46.9L303.1 47.9L304 48.8L304.9 49.7L305.8 50.6L306.7 51.4L307.6 52.2L308.5 53L309.4 53.7L310.3 54.5L311.2 55.2L312.1 55.9L313 56.7L313.9 57.4L314.8 58.1L315.7 58.8L316.6 59.6L317.5 60.3L318.4 61L319.3 61.8L320.2 62.4L321.1 63.1L322 63.7L322.9 64.2L323.9 64.7L324.8 65.1L325.7 65.5L326.6 65.8L327.5 66.2L328.4 66.5L329.3 66.7L330.2 67L331.1 67.3L332 67.6L332.9 67.8L333.8 68.1L334.7 68.4L335.6 68.7L336.5 68.9L337.4 69.2L338.3 69.4L339.2 69.6L340.1 69.7"/>
<path class="mi" d="M204.7 73.8L205.6 74.5L206.5 75.4L207.4 76.4L208.3 77.5L209.2 78.5L210.1 79.4L211 80.3L211.9 81.2L212.8 82L213.7 82.8L214.6 83.5L215.5 84.2L216.4 84.8L217.3 85.4L218.2 85.9L219.1 86.4L220 86.9L220.9 87.3L221.9 87.6L222.8 87.9L223.7 88.1L224.6 88.2L225.5 88.3L226.4 88.2L227.3 88.1L228.2 87.9L229.1 87.6L230 87.3L230.9 86.9L231.8 86.5L232.7 86L233.6 85.6L234.5 85.1L235.4 84.7L236.3 84.2L237.2 83.8L238.1 83.3L239 82.8L239.9 82.4L240.8 82L241.7 81.6L242.6 81.3L243.5 81L244.4 80.9L245.3 80.8L246.2 80.8L247.1 80.9L248 81L248.9 81.2L249.8 81.4L250.7 81.6L251.6 81.8L252.5 82L253.4 82.2L254.3 82.4L255.2 82.6L256.2 82.8L257.1 82.9L258 83.1L258.9 83.3L259.8 83.4L260.7 83.6L261.6 83.7L262.5 83.8L263.4 84L264.3 84.1L265.2 84.2L266.1 84.1L267 84L267.9 83.7L268.8 83.2L269.7 82.4L270.6 81.4L271.5 80.1L272.4 78.6L273.3 77L274.2 75.2L275.1 73.4L276 71.6L276.9 69.7L277.8 67.8L278.7 65.8L279.6 63.9L280.5 61.9L281.4 60L282.3 58L283.2 56L284.1 54L285 52.1L285.9 50.3L286.8 48.7L287.7 47.2L288.6 46L289.6 45L290.5 44.3L291.4 43.6L292.3 43.2L293.2 42.9L294.1 42.8L295 42.8L295.9 43L296.8 43.3L297.7 43.8L298.6 44.4L299.5 45L300.4 45.7L301.3 46.4L302.2 47.1L303.1 47.7L304 48.2L304.9 48.8L305.8 49.4L306.7 50L307.6 50.6L308.5 51.2L309.4 51.8L310.3 52.5L311.2 53.2L312.1 53.8L313 54.5L313.9 55.1L314.8 55.8L315.7 56.5L316.6 57.1L317.5 57.8L318.4 58.4L319.3 59.1L320.2 59.7L321.1 60.4L322 61L322.9 61.6L323.9 62.2L324.8 62.7L325.7 63.2L326.6 63.6L327.5 64L328.4 64.3L329.3 64.7L330.2 65L331.1 65.3L332 65.7L332.9 66.1L333.8 66.6L334.7 67L335.6 67.5L336.5 68.1L337.4 68.7L338.3 69.3L339.2 69.7L340.1 70.1"/>
<text class="tk" transform="translate(200.80,17.90) scale(1,1.1)" text-anchor="end">10</text>
<text class="tk" transform="translate(200.80,28.82) scale(1,1.1)" text-anchor="end">8</text>
<text class="tk" transform="translate(200.80,39.74) scale(1,1.1)" text-anchor="end">6</text>
<text class="tk" transform="translate(200.80,50.66) scale(1,1.1)" text-anchor="end">4</text>
<text class="tk" transform="translate(200.80,61.58) scale(1,1.1)" text-anchor="end">2</text>
<text class="tk" transform="translate(200.80,72.50) scale(1,1.1)" text-anchor="end">0</text>
<text class="tk" transform="translate(200.80,83.42) scale(1,1.1)" text-anchor="end">-2</text>
<text class="tk" transform="translate(200.80,94.34) scale(1,1.1)" text-anchor="end">-4</text>
<text class="tk" transform="translate(200.80,105.26) scale(1,1.1)" text-anchor="end">-6</text>
<text class="tk" transform="translate(200.80,116.18) scale(1,1.1)" text-anchor="end">-8</text>
<text class="tk" transform="translate(200.80,127.10) scale(1,1.1)" text-anchor="end">-10</text>
<text class="tk" transform="translate(204.70,78.00) scale(1,1.1)" text-anchor="middle">0</text>
<text class="tk" transform="translate(231.78,78.00) scale(1,1.1)" text-anchor="middle">20</text>
<text class="tk" transform="translate(258.86,78.00) scale(1,1.1)" text-anchor="middle">40</text>
<text class="tk" transform="translate(285.94,78.00) scale(1,1.1)" text-anchor="middle">60</text>
<text class="tk" transform="translate(313.02,78.00) scale(1,1.1)" text-anchor="middle">80</text>
<text class="tk" transform="translate(340.10,78.00) scale(1,1.1)" text-anchor="middle">100</text>
<text class="tt" transform="translate(275.55,11.00) scale(1,1.18)" text-anchor="middle">Sound Hip Adduction/Abduction ( +ve Adduct)</text>
<text class="ax" transform="translate(272.20,131.00) scale(1,1.12)" text-anchor="middle">% gait cycle</text>
<text class="ax" transform="translate(193.30,71.30) rotate(-90)" text-anchor="middle">Degrees</text>
<line x1="346.60" y1="70.90" x2="354.60" y2="70.90" stroke="#222" stroke-width="1"/>
<text class="lg" x="354.70" y="72.10">IMU</text>
<line x1="346.90" y1="77.60" x2="354.60" y2="77.60" stroke="#25b45e" stroke-width="1.1" stroke-dasharray="1.7 1.1"/>
<text class="lg" x="354.70" y="78.80">OMC</text>
</g>
<g id="panel3">
<line class="gl" x1="385.3" y1="16.30" x2="521.5" y2="16.30"/>
<line class="gl" x1="385.3" y1="29.91" x2="521.5" y2="29.91"/>
<line class="gl" x1="385.3" y1="43.53" x2="521.5" y2="43.53"/>
<line class="gl" x1="385.3" y1="57.14" x2="521.5" y2="57.14"/>
<line class="gl" x1="385.3" y1="70.75" x2="521.5" y2="70.75"/>
<line class="gl" x1="385.3" y1="84.36" x2="521.5" y2="84.36"/>
<line class="gl" x1="385.3" y1="97.98" x2="521.5" y2="97.98"/>
<line class="gl" x1="385.3" y1="111.59" x2="521.5" y2="111.59"/>
<line class="gl" x1="385.3" y1="125.20" x2="521.5" y2="125.20"/>
<line x1="385.3" y1="16.30" x2="385.3" y2="125.20" stroke="#bcbcbc" stroke-width=".6"/>
<clipPath id="cp3"><path d="M385.3 58L386.2 57.4L387.1 56.7L388 56.1L388.9 55.9L389.8 56.1L390.7 56.6L391.7 57.5L392.6 58.5L393.5 59.7L394.4 61.1L395.3 62.5L396.2 64L397.1 65.6L398 67.2L398.9 69L399.8 70.7L400.7 72.5L401.6 74.1L402.6 75.6L403.5 76.8L404.4 77.6L405.3 78.2L406.2 78.6L407.1 78.6L408 78.5L408.9 78.3L409.8 77.9L410.7 77.4L411.6 76.9L412.5 76.2L413.4 75.5L414.4 74.8L415.3 74.2L416.2 73.6L417.1 73.2L418 72.9L418.9 72.7L419.8 72.7L420.7 72.7L421.6 72.9L422.5 73.2L423.4 73.8L424.3 74.5L425.3 75.5L426.2 76.7L427.1 78.1L428 79.4L428.9 80.8L429.8 82L430.7 83.1L431.6 84.1L432.5 85L433.4 85.6L434.3 85.9L435.2 86.1L436.1 86.1L437.1 85.9L438 85.7L438.9 85.4L439.8 85.1L440.7 84.7L441.6 84.3L442.5 83.9L443.4 83.5L444.3 83L445.2 82.6L446.1 82.1L447 81.7L448 81.1L448.9 80.6L449.8 80L450.7 79.4L451.6 78.7L452.5 78L453.4 77.2L454.3 76.4L455.2 75.5L456.1 74.5L457 73.5L457.9 72.4L458.8 71.2L459.8 70L460.7 68.7L461.6 67.4L462.5 66.2L463.4 65L464.3 63.9L465.2 62.7L466.1 61.7L467 60.8L467.9 60L468.8 59.5L469.7 59L470.7 58.8L471.6 58.6L472.5 58.4L473.4 58.3L474.3 58.2L475.2 58.1L476.1 57.9L477 57.7L477.9 57.5L478.8 57.3L479.7 57.1L480.6 56.8L481.5 56.6L482.5 56.3L483.4 56.1L484.3 55.9L485.2 55.7L486.1 55.5L487 55.3L487.9 55.2L488.8 55.1L489.7 55L490.6 55L491.5 55L492.4 55L493.4 55.1L494.3 55.3L495.2 55.4L496.1 55.6L497 55.8L497.9 56.1L498.8 56.3L499.7 56.6L500.6 56.8L501.5 57.1L502.4 57.4L503.3 57.7L504.2 58L505.2 58.4L506.1 58.7L507 59L507.9 59.3L508.8 59.6L509.7 59.9L510.6 60L511.5 60.2L512.4 60.3L513.3 60.3L514.2 60.3L515.1 60.3L516.1 60.2L517 60L517.9 59.9L518.8 59.6L519.7 59.4L520.6 59.2L521.5 59L521.5 93.1L520.6 93.3L519.7 93.6L518.8 93.8L517.9 94.1L517 94.4L516.1 94.6L515.1 94.9L514.2 95.2L513.3 95.4L512.4 95.6L511.5 95.9L510.6 96.1L509.7 96.3L508.8 96.5L507.9 96.6L507 96.8L506.1 96.9L505.2 97.1L504.2 97.2L503.3 97.2L502.4 97.3L501.5 97.3L500.6 97.3L499.7 97.3L498.8 97.3L497.9 97.3L497 97.2L496.1 97.2L495.2 97.1L494.3 97L493.4 96.9L492.4 96.8L491.5 96.6L490.6 96.4L489.7 96.2L488.8 96L487.9 95.8L487 95.5L486.1 95.2L485.2 94.8L484.3 94.5L483.4 94.1L482.5 93.7L481.5 93.3L480.6 93L479.7 92.6L478.8 92.3L477.9 92L477 91.8L476.1 91.5L475.2 91.3L474.3 91.2L473.4 91L472.5 91L471.6 91.1L470.7 91.3L469.7 91.5L468.8 91.8L467.9 92.2L467 92.6L466.1 93.1L465.2 93.6L464.3 94.1L463.4 94.6L462.5 95.2L461.6 95.9L460.7 96.5L459.8 97.1L458.8 97.7L457.9 98.3L457 98.9L456.1 99.3L455.2 99.7L454.3 100.1L453.4 100.4L452.5 100.6L451.6 100.9L450.7 101.2L449.8 101.5L448.9 101.9L448 102.3L447 102.7L446.1 103.1L445.2 103.6L444.3 104L443.4 104.5L442.5 105L441.6 105.4L440.7 105.9L439.8 106.3L438.9 106.7L438 107.1L437.1 107.5L436.1 107.7L435.2 107.9L434.3 107.9L433.4 107.7L432.5 107.3L431.6 106.9L430.7 106.5L429.8 106.2L428.9 106L428 105.9L427.1 105.9L426.2 106L425.3 106.3L424.3 106.7L423.4 107.4L422.5 108.2L421.6 109.2L420.7 110.4L419.8 111.6L418.9 112.7L418 113.7L417.1 114.6L416.2 115.3L415.3 115.9L414.4 116.4L413.4 116.8L412.5 117L411.6 117.3L410.7 117.5L409.8 117.6L408.9 117.6L408 117.5L407.1 117.3L406.2 116.9L405.3 116.3L404.4 115.3L403.5 113.7L402.6 111.7L401.6 109.3L400.7 106.5L399.8 103.7L398.9 101L398 98.5L397.1 96.4L396.2 94.7L395.3 93.4L394.4 92.4L393.5 91.7L392.6 91.2L391.7 90.9L390.7 90.7L389.8 90.7L388.9 90.8L388 91L387.1 91.2L386.2 91.5L385.3 91.8Z"/><path d="M385.3 29.1L386.2 29.5L387.1 30L388 30.5L388.9 31.1L389.8 31.7L390.7 32.3L391.7 32.9L392.6 33.6L393.5 34.2L394.4 34.8L395.3 35.5L396.2 36.1L397.1 36.6L398 37L398.9 37.2L399.8 37.3L400.7 37.3L401.6 37.1L402.6 36.9L403.5 36.6L404.4 36.2L405.3 35.9L406.2 35.5L407.1 35.2L408 34.9L408.9 34.7L409.8 34.4L410.7 34.2L411.6 33.9L412.5 33.7L413.4 33.5L414.4 33.3L415.3 33.2L416.2 33.2L417.1 33.2L418 33.3L418.9 33.4L419.8 33.6L420.7 33.8L421.6 34.1L422.5 34.4L423.4 34.6L424.3 34.9L425.3 35.2L426.2 35.5L427.1 35.8L428 36.1L428.9 36.4L429.8 36.7L430.7 37L431.6 37.3L432.5 37.6L433.4 37.9L434.3 38.2L435.2 38.5L436.1 38.8L437.1 39.1L438 39.4L438.9 39.7L439.8 40L440.7 40.3L441.6 40.6L442.5 40.9L443.4 41.2L444.3 41.4L445.2 41.6L446.1 41.7L447 41.7L448 41.7L448.9 41.7L449.8 41.5L450.7 41.3L451.6 41L452.5 40.6L453.4 40.2L454.3 39.7L455.2 39.2L456.1 38.8L457 38.3L457.9 37.9L458.8 37.5L459.8 37L460.7 36.6L461.6 36.1L462.5 35.6L463.4 35.2L464.3 34.8L465.2 34.5L466.1 34.4L467 34.4L467.9 34.6L468.8 34.9L469.7 35.2L470.7 35.6L471.6 36.1L472.5 36.5L473.4 37L474.3 37.5L475.2 37.9L476.1 38.4L477 38.9L477.9 39.3L478.8 39.8L479.7 40.2L480.6 40.7L481.5 41.1L482.5 41.6L483.4 42L484.3 42.4L485.2 42.7L486.1 42.9L487 43L487.9 43L488.8 42.9L489.7 42.7L490.6 42.5L491.5 42.2L492.4 41.8L493.4 41.4L494.3 41L495.2 40.6L496.1 40.1L497 39.6L497.9 39.1L498.8 38.5L499.7 37.9L500.6 37.3L501.5 36.6L502.4 35.9L503.3 35.2L504.2 34.4L505.2 33.6L506.1 32.7L507 31.9L507.9 31L508.8 30.2L509.7 29.5L510.6 28.8L511.5 28.1L512.4 27.6L513.3 27.1L514.2 26.8L515.1 26.7L516.1 26.7L517 26.9L517.9 27.2L518.8 27.6L519.7 28.1L520.6 28.5L521.5 28.9L521.5 77.7L520.6 77.7L519.7 77.7L518.8 77.7L517.9 77.8L517 77.9L516.1 78.1L515.1 78.2L514.2 78.5L513.3 78.8L512.4 79.1L511.5 79.5L510.6 79.9L509.7 80.4L508.8 80.9L507.9 81.6L507 82.2L506.1 82.9L505.2 83.6L504.2 84.3L503.3 85L502.4 85.6L501.5 86.2L500.6 86.7L499.7 87.2L498.8 87.7L497.9 88.2L497 88.7L496.1 89.1L495.2 89.4L494.3 89.8L493.4 90L492.4 90.2L491.5 90.4L490.6 90.5L489.7 90.5L488.8 90.5L487.9 90.4L487 90.3L486.1 90.1L485.2 89.8L484.3 89.6L483.4 89.3L482.5 89L481.5 88.7L480.6 88.3L479.7 88L478.8 87.7L477.9 87.3L477 86.9L476.1 86.6L475.2 86.2L474.3 85.8L473.4 85.4L472.5 84.9L471.6 84.3L470.7 83.8L469.7 83.3L468.8 82.8L467.9 82.5L467 82.3L466.1 82.2L465.2 82.2L464.3 82.4L463.4 82.7L462.5 83L461.6 83.4L460.7 83.9L459.8 84.3L458.8 84.8L457.9 85.2L457 85.5L456.1 85.9L455.2 86.2L454.3 86.5L453.4 86.8L452.5 87.1L451.6 87.4L450.7 87.7L449.8 87.9L448.9 88.1L448 88.2L447 88.3L446.1 88.3L445.2 88.2L444.3 88.1L443.4 87.9L442.5 87.7L441.6 87.4L440.7 87.1L439.8 86.9L438.9 86.6L438 86.3L437.1 86.1L436.1 85.9L435.2 85.7L434.3 85.5L433.4 85.3L432.5 85.1L431.6 84.9L430.7 84.7L429.8 84.6L428.9 84.4L428 84.3L427.1 84.2L426.2 84.1L425.3 84.1L424.3 84.1L423.4 84.1L422.5 84.2L421.6 84.4L420.7 84.5L419.8 84.8L418.9 85L418 85.2L417.1 85.4L416.2 85.7L415.3 86L414.4 86.3L413.4 86.6L412.5 87L411.6 87.4L410.7 87.8L409.8 88.2L408.9 88.6L408 88.9L407.1 89.2L406.2 89.4L405.3 89.5L404.4 89.5L403.5 89.3L402.6 89.1L401.6 88.8L400.7 88.5L399.8 88.1L398.9 87.7L398 87.3L397.1 86.9L396.2 86.4L395.3 86L394.4 85.5L393.5 85L392.6 84.4L391.7 83.8L390.7 83.2L389.8 82.5L388.9 81.9L388 81.2L387.1 80.5L386.2 79.8L385.3 79.4Z"/></clipPath>
<path class="bi" d="M385.3 58L386.2 57.4L387.1 56.7L388 56.1L388.9 55.9L389.8 56.1L390.7 56.6L391.7 57.5L392.6 58.5L393.5 59.7L394.4 61.1L395.3 62.5L396.2 64L397.1 65.6L398 67.2L398.9 69L399.8 70.7L400.7 72.5L401.6 74.1L402.6 75.6L403.5 76.8L404.4 77.6L405.3 78.2L406.2 78.6L407.1 78.6L408 78.5L408.9 78.3L409.8 77.9L410.7 77.4L411.6 76.9L412.5 76.2L413.4 75.5L414.4 74.8L415.3 74.2L416.2 73.6L417.1 73.2L418 72.9L418.9 72.7L419.8 72.7L420.7 72.7L421.6 72.9L422.5 73.2L423.4 73.8L424.3 74.5L425.3 75.5L426.2 76.7L427.1 78.1L428 79.4L428.9 80.8L429.8 82L430.7 83.1L431.6 84.1L432.5 85L433.4 85.6L434.3 85.9L435.2 86.1L436.1 86.1L437.1 85.9L438 85.7L438.9 85.4L439.8 85.1L440.7 84.7L441.6 84.3L442.5 83.9L443.4 83.5L444.3 83L445.2 82.6L446.1 82.1L447 81.7L448 81.1L448.9 80.6L449.8 80L450.7 79.4L451.6 78.7L452.5 78L453.4 77.2L454.3 76.4L455.2 75.5L456.1 74.5L457 73.5L457.9 72.4L458.8 71.2L459.8 70L460.7 68.7L461.6 67.4L462.5 66.2L463.4 65L464.3 63.9L465.2 62.7L466.1 61.7L467 60.8L467.9 60L468.8 59.5L469.7 59L470.7 58.8L471.6 58.6L472.5 58.4L473.4 58.3L474.3 58.2L475.2 58.1L476.1 57.9L477 57.7L477.9 57.5L478.8 57.3L479.7 57.1L480.6 56.8L481.5 56.6L482.5 56.3L483.4 56.1L484.3 55.9L485.2 55.7L486.1 55.5L487 55.3L487.9 55.2L488.8 55.1L489.7 55L490.6 55L491.5 55L492.4 55L493.4 55.1L494.3 55.3L495.2 55.4L496.1 55.6L497 55.8L497.9 56.1L498.8 56.3L499.7 56.6L500.6 56.8L501.5 57.1L502.4 57.4L503.3 57.7L504.2 58L505.2 58.4L506.1 58.7L507 59L507.9 59.3L508.8 59.6L509.7 59.9L510.6 60L511.5 60.2L512.4 60.3L513.3 60.3L514.2 60.3L515.1 60.3L516.1 60.2L517 60L517.9 59.9L518.8 59.6L519.7 59.4L520.6 59.2L521.5 59L521.5 93.1L520.6 93.3L519.7 93.6L518.8 93.8L517.9 94.1L517 94.4L516.1 94.6L515.1 94.9L514.2 95.2L513.3 95.4L512.4 95.6L511.5 95.9L510.6 96.1L509.7 96.3L508.8 96.5L507.9 96.6L507 96.8L506.1 96.9L505.2 97.1L504.2 97.2L503.3 97.2L502.4 97.3L501.5 97.3L500.6 97.3L499.7 97.3L498.8 97.3L497.9 97.3L497 97.2L496.1 97.2L495.2 97.1L494.3 97L493.4 96.9L492.4 96.8L491.5 96.6L490.6 96.4L489.7 96.2L488.8 96L487.9 95.8L487 95.5L486.1 95.2L485.2 94.8L484.3 94.5L483.4 94.1L482.5 93.7L481.5 93.3L480.6 93L479.7 92.6L478.8 92.3L477.9 92L477 91.8L476.1 91.5L475.2 91.3L474.3 91.2L473.4 91L472.5 91L471.6 91.1L470.7 91.3L469.7 91.5L468.8 91.8L467.9 92.2L467 92.6L466.1 93.1L465.2 93.6L464.3 94.1L463.4 94.6L462.5 95.2L461.6 95.9L460.7 96.5L459.8 97.1L458.8 97.7L457.9 98.3L457 98.9L456.1 99.3L455.2 99.7L454.3 100.1L453.4 100.4L452.5 100.6L451.6 100.9L450.7 101.2L449.8 101.5L448.9 101.9L448 102.3L447 102.7L446.1 103.1L445.2 103.6L444.3 104L443.4 104.5L442.5 105L441.6 105.4L440.7 105.9L439.8 106.3L438.9 106.7L438 107.1L437.1 107.5L436.1 107.7L435.2 107.9L434.3 107.9L433.4 107.7L432.5 107.3L431.6 106.9L430.7 106.5L429.8 106.2L428.9 106L428 105.9L427.1 105.9L426.2 106L425.3 106.3L424.3 106.7L423.4 107.4L422.5 108.2L421.6 109.2L420.7 110.4L419.8 111.6L418.9 112.7L418 113.7L417.1 114.6L416.2 115.3L415.3 115.9L414.4 116.4L413.4 116.8L412.5 117L411.6 117.3L410.7 117.5L409.8 117.6L408.9 117.6L408 117.5L407.1 117.3L406.2 116.9L405.3 116.3L404.4 115.3L403.5 113.7L402.6 111.7L401.6 109.3L400.7 106.5L399.8 103.7L398.9 101L398 98.5L397.1 96.4L396.2 94.7L395.3 93.4L394.4 92.4L393.5 91.7L392.6 91.2L391.7 90.9L390.7 90.7L389.8 90.7L388.9 90.8L388 91L387.1 91.2L386.2 91.5L385.3 91.8Z"/>
<path class="bo" d="M385.3 29.1L386.2 29.5L387.1 30L388 30.5L388.9 31.1L389.8 31.7L390.7 32.3L391.7 32.9L392.6 33.6L393.5 34.2L394.4 34.8L395.3 35.5L396.2 36.1L397.1 36.6L398 37L398.9 37.2L399.8 37.3L400.7 37.3L401.6 37.1L402.6 36.9L403.5 36.6L404.4 36.2L405.3 35.9L406.2 35.5L407.1 35.2L408 34.9L408.9 34.7L409.8 34.4L410.7 34.2L411.6 33.9L412.5 33.7L413.4 33.5L414.4 33.3L415.3 33.2L416.2 33.2L417.1 33.2L418 33.3L418.9 33.4L419.8 33.6L420.7 33.8L421.6 34.1L422.5 34.4L423.4 34.6L424.3 34.9L425.3 35.2L426.2 35.5L427.1 35.8L428 36.1L428.9 36.4L429.8 36.7L430.7 37L431.6 37.3L432.5 37.6L433.4 37.9L434.3 38.2L435.2 38.5L436.1 38.8L437.1 39.1L438 39.4L438.9 39.7L439.8 40L440.7 40.3L441.6 40.6L442.5 40.9L443.4 41.2L444.3 41.4L445.2 41.6L446.1 41.7L447 41.7L448 41.7L448.9 41.7L449.8 41.5L450.7 41.3L451.6 41L452.5 40.6L453.4 40.2L454.3 39.7L455.2 39.2L456.1 38.8L457 38.3L457.9 37.9L458.8 37.5L459.8 37L460.7 36.6L461.6 36.1L462.5 35.6L463.4 35.2L464.3 34.8L465.2 34.5L466.1 34.4L467 34.4L467.9 34.6L468.8 34.9L469.7 35.2L470.7 35.6L471.6 36.1L472.5 36.5L473.4 37L474.3 37.5L475.2 37.9L476.1 38.4L477 38.9L477.9 39.3L478.8 39.8L479.7 40.2L480.6 40.7L481.5 41.1L482.5 41.6L483.4 42L484.3 42.4L485.2 42.7L486.1 42.9L487 43L487.9 43L488.8 42.9L489.7 42.7L490.6 42.5L491.5 42.2L492.4 41.8L493.4 41.4L494.3 41L495.2 40.6L496.1 40.1L497 39.6L497.9 39.1L498.8 38.5L499.7 37.9L500.6 37.3L501.5 36.6L502.4 35.9L503.3 35.2L504.2 34.4L505.2 33.6L506.1 32.7L507 31.9L507.9 31L508.8 30.2L509.7 29.5L510.6 28.8L511.5 28.1L512.4 27.6L513.3 27.1L514.2 26.8L515.1 26.7L516.1 26.7L517 26.9L517.9 27.2L518.8 27.6L519.7 28.1L520.6 28.5L521.5 28.9L521.5 77.7L520.6 77.7L519.7 77.7L518.8 77.7L517.9 77.8L517 77.9L516.1 78.1L515.1 78.2L514.2 78.5L513.3 78.8L512.4 79.1L511.5 79.5L510.6 79.9L509.7 80.4L508.8 80.9L507.9 81.6L507 82.2L506.1 82.9L505.2 83.6L504.2 84.3L503.3 85L502.4 85.6L501.5 86.2L500.6 86.7L499.7 87.2L498.8 87.7L497.9 88.2L497 88.7L496.1 89.1L495.2 89.4L494.3 89.8L493.4 90L492.4 90.2L491.5 90.4L490.6 90.5L489.7 90.5L488.8 90.5L487.9 90.4L487 90.3L486.1 90.1L485.2 89.8L484.3 89.6L483.4 89.3L482.5 89L481.5 88.7L480.6 88.3L479.7 88L478.8 87.7L477.9 87.3L477 86.9L476.1 86.6L475.2 86.2L474.3 85.8L473.4 85.4L472.5 84.9L471.6 84.3L470.7 83.8L469.7 83.3L468.8 82.8L467.9 82.5L467 82.3L466.1 82.2L465.2 82.2L464.3 82.4L463.4 82.7L462.5 83L461.6 83.4L460.7 83.9L459.8 84.3L458.8 84.8L457.9 85.2L457 85.5L456.1 85.9L455.2 86.2L454.3 86.5L453.4 86.8L452.5 87.1L451.6 87.4L450.7 87.7L449.8 87.9L448.9 88.1L448 88.2L447 88.3L446.1 88.3L445.2 88.2L444.3 88.1L443.4 87.9L442.5 87.7L441.6 87.4L440.7 87.1L439.8 86.9L438.9 86.6L438 86.3L437.1 86.1L436.1 85.9L435.2 85.7L434.3 85.5L433.4 85.3L432.5 85.1L431.6 84.9L430.7 84.7L429.8 84.6L428.9 84.4L428 84.3L427.1 84.2L426.2 84.1L425.3 84.1L424.3 84.1L423.4 84.1L422.5 84.2L421.6 84.4L420.7 84.5L419.8 84.8L418.9 85L418 85.2L417.1 85.4L416.2 85.7L415.3 86L414.4 86.3L413.4 86.6L412.5 87L411.6 87.4L410.7 87.8L409.8 88.2L408.9 88.6L408 88.9L407.1 89.2L406.2 89.4L405.3 89.5L404.4 89.5L403.5 89.3L402.6 89.1L401.6 88.8L400.7 88.5L399.8 88.1L398.9 87.7L398 87.3L397.1 86.9L396.2 86.4L395.3 86L394.4 85.5L393.5 85L392.6 84.4L391.7 83.8L390.7 83.2L389.8 82.5L388.9 81.9L388 81.2L387.1 80.5L386.2 79.8L385.3 79.4Z"/>
<path class="go" clip-path="url(#cp3)" d="M385.3 16.30H521.5M385.3 29.91H521.5M385.3 43.53H521.5M385.3 57.14H521.5M385.3 70.75H521.5M385.3 84.36H521.5M385.3 97.98H521.5M385.3 111.59H521.5M385.3 125.20H521.5"/>
<path class="si" d="M385.3 58L386.2 57.4L387.1 56.7L388 56.1L388.9 55.9L389.8 56.1L390.7 56.6L391.7 57.5L392.6 58.5L393.5 59.7L394.4 61.1L395.3 62.5L396.2 64L397.1 65.6L398 67.2L398.9 69L399.8 70.7L400.7 72.5L401.6 74.1L402.6 75.6L403.5 76.8L404.4 77.6L405.3 78.2L406.2 78.6L407.1 78.6L408 78.5L408.9 78.3L409.8 77.9L410.7 77.4L411.6 76.9L412.5 76.2L413.4 75.5L414.4 74.8L415.3 74.2L416.2 73.6L417.1 73.2L418 72.9L418.9 72.7L419.8 72.7L420.7 72.7L421.6 72.9L422.5 73.2L423.4 73.8L424.3 74.5L425.3 75.5L426.2 76.7L427.1 78.1L428 79.4L428.9 80.8L429.8 82L430.7 83.1L431.6 84.1L432.5 85L433.4 85.6L434.3 85.9L435.2 86.1L436.1 86.1L437.1 85.9L438 85.7L438.9 85.4L439.8 85.1L440.7 84.7L441.6 84.3L442.5 83.9L443.4 83.5L444.3 83L445.2 82.6L446.1 82.1L447 81.7L448 81.1L448.9 80.6L449.8 80L450.7 79.4L451.6 78.7L452.5 78L453.4 77.2L454.3 76.4L455.2 75.5L456.1 74.5L457 73.5L457.9 72.4L458.8 71.2L459.8 70L460.7 68.7L461.6 67.4L462.5 66.2L463.4 65L464.3 63.9L465.2 62.7L466.1 61.7L467 60.8L467.9 60L468.8 59.5L469.7 59L470.7 58.8L471.6 58.6L472.5 58.4L473.4 58.3L474.3 58.2L475.2 58.1L476.1 57.9L477 57.7L477.9 57.5L478.8 57.3L479.7 57.1L480.6 56.8L481.5 56.6L482.5 56.3L483.4 56.1L484.3 55.9L485.2 55.7L486.1 55.5L487 55.3L487.9 55.2L488.8 55.1L489.7 55L490.6 55L491.5 55L492.4 55L493.4 55.1L494.3 55.3L495.2 55.4L496.1 55.6L497 55.8L497.9 56.1L498.8 56.3L499.7 56.6L500.6 56.8L501.5 57.1L502.4 57.4L503.3 57.7L504.2 58L505.2 58.4L506.1 58.7L507 59L507.9 59.3L508.8 59.6L509.7 59.9L510.6 60L511.5 60.2L512.4 60.3L513.3 60.3L514.2 60.3L515.1 60.3L516.1 60.2L517 60L517.9 59.9L518.8 59.6L519.7 59.4L520.6 59.2L521.5 59" stroke-opacity=".85"/>
<path class="si" d="M385.3 91.8L386.2 91.5L387.1 91.2L388 91L388.9 90.8L389.8 90.7L390.7 90.7L391.7 90.9L392.6 91.2L393.5 91.7L394.4 92.4L395.3 93.4L396.2 94.7L397.1 96.4L398 98.5L398.9 101L399.8 103.7L400.7 106.5L401.6 109.3L402.6 111.7L403.5 113.7L404.4 115.3L405.3 116.3L406.2 116.9L407.1 117.3L408 117.5L408.9 117.6L409.8 117.6L410.7 117.5L411.6 117.3L412.5 117L413.4 116.8L414.4 116.4L415.3 115.9L416.2 115.3L417.1 114.6L418 113.7L418.9 112.7L419.8 111.6L420.7 110.4L421.6 109.2L422.5 108.2L423.4 107.4L424.3 106.7L425.3 106.3L426.2 106L427.1 105.9L428 105.9L428.9 106L429.8 106.2L430.7 106.5L431.6 106.9L432.5 107.3L433.4 107.7L434.3 107.9L435.2 107.9L436.1 107.7L437.1 107.5L438 107.1L438.9 106.7L439.8 106.3L440.7 105.9L441.6 105.4L442.5 105L443.4 104.5L444.3 104L445.2 103.6L446.1 103.1L447 102.7L448 102.3L448.9 101.9L449.8 101.5L450.7 101.2L451.6 100.9L452.5 100.6L453.4 100.4L454.3 100.1L455.2 99.7L456.1 99.3L457 98.9L457.9 98.3L458.8 97.7L459.8 97.1L460.7 96.5L461.6 95.9L462.5 95.2L463.4 94.6L464.3 94.1L465.2 93.6L466.1 93.1L467 92.6L467.9 92.2L468.8 91.8L469.7 91.5L470.7 91.3L471.6 91.1L472.5 91L473.4 91L474.3 91.2L475.2 91.3L476.1 91.5L477 91.8L477.9 92L478.8 92.3L479.7 92.6L480.6 93L481.5 93.3L482.5 93.7L483.4 94.1L484.3 94.5L485.2 94.8L486.1 95.2L487 95.5L487.9 95.8L488.8 96L489.7 96.2L490.6 96.4L491.5 96.6L492.4 96.8L493.4 96.9L494.3 97L495.2 97.1L496.1 97.2L497 97.2L497.9 97.3L498.8 97.3L499.7 97.3L500.6 97.3L501.5 97.3L502.4 97.3L503.3 97.2L504.2 97.2L505.2 97.1L506.1 96.9L507 96.8L507.9 96.6L508.8 96.5L509.7 96.3L510.6 96.1L511.5 95.9L512.4 95.6L513.3 95.4L514.2 95.2L515.1 94.9L516.1 94.6L517 94.4L517.9 94.1L518.8 93.8L519.7 93.6L520.6 93.3L521.5 93.1" stroke-opacity=".7"/>
<path class="mo" d="M385.3 54.5L386.2 54.9L387.1 55.4L388 56L388.9 56.6L389.8 57.2L390.7 57.8L391.7 58.4L392.6 59L393.5 59.6L394.4 60.2L395.3 60.8L396.2 61.4L397.1 62L398 62.6L398.9 63.2L399.8 63.7L400.7 64.2L401.6 64.5L402.6 64.6L403.5 64.6L404.4 64.3L405.3 64L406.2 63.6L407.1 63.2L408 62.7L408.9 62.3L409.8 62L410.7 61.7L411.6 61.4L412.5 61.2L413.4 61L414.4 60.8L415.3 60.6L416.2 60.4L417.1 60.2L418 60.1L418.9 59.9L419.8 59.8L420.7 59.6L421.6 59.6L422.5 59.5L423.4 59.5L424.3 59.6L425.3 59.7L426.2 59.8L427.1 60L428 60.2L428.9 60.4L429.8 60.6L430.7 60.8L431.6 61.1L432.5 61.4L433.4 61.6L434.3 61.9L435.2 62.2L436.1 62.5L437.1 62.9L438 63.2L438.9 63.5L439.8 63.8L440.7 64.1L441.6 64.3L442.5 64.6L443.4 64.9L444.3 65.2L445.2 65.4L446.1 65.6L447 65.8L448 65.9L448.9 66L449.8 66L450.7 66L451.6 65.8L452.5 65.6L453.4 65.3L454.3 64.9L455.2 64.5L456.1 64.1L457 63.7L457.9 63.3L458.8 62.8L459.8 62.4L460.7 62L461.6 61.6L462.5 61.2L463.4 60.9L464.3 60.5L465.2 60.2L466.1 59.8L467 59.6L467.9 59.4L468.8 59.3L469.7 59.2L470.7 59.3L471.6 59.5L472.5 59.8L473.4 60.1L474.3 60.5L475.2 60.9L476.1 61.3L477 61.8L477.9 62.2L478.8 62.7L479.7 63.2L480.6 63.6L481.5 64.1L482.5 64.6L483.4 65L484.3 65.3L485.2 65.6L486.1 65.9L487 66L487.9 66.1L488.8 66.1L489.7 66L490.6 65.8L491.5 65.5L492.4 65.2L493.4 64.9L494.3 64.5L495.2 64.1L496.1 63.7L497 63.2L497.9 62.7L498.8 62.3L499.7 61.8L500.6 61.3L501.5 60.7L502.4 60.2L503.3 59.6L504.2 59L505.2 58.4L506.1 57.8L507 57.2L507.9 56.6L508.8 56L509.7 55.4L510.6 54.8L511.5 54.3L512.4 53.8L513.3 53.4L514.2 53.1L515.1 52.8L516.1 52.7L517 52.6L517.9 52.6L518.8 52.8L519.7 53L520.6 53.2L521.5 53.5"/>
<path class="mi" d="M385.3 75L386.2 74.7L387.1 74.4L388 74.1L388.9 74.1L389.8 74.3L390.7 74.8L391.7 75.8L392.6 77.1L393.5 78.9L394.4 80.8L395.3 82.9L396.2 85L397.1 87.1L398 89.2L398.9 91.3L399.8 93.2L400.7 94.9L401.6 96.2L402.6 97.1L403.5 97.6L404.4 98L405.3 98.3L406.2 98.4L407.1 98.5L408 98.4L408.9 98.2L409.8 97.9L410.7 97.6L411.6 97.2L412.5 96.7L413.4 96.2L414.4 95.7L415.3 95.1L416.2 94.4L417.1 93.8L418 93.2L418.9 92.6L419.8 92.1L420.7 91.6L421.6 91.2L422.5 90.9L423.4 90.7L424.3 90.6L425.3 90.7L426.2 91L427.1 91.4L428 92.1L428.9 92.8L429.8 93.6L430.7 94.5L431.6 95.3L432.5 96L433.4 96.6L434.3 96.9L435.2 97L436.1 96.9L437.1 96.6L438 96.3L438.9 95.9L439.8 95.4L440.7 94.9L441.6 94.4L442.5 93.8L443.4 93.3L444.3 92.7L445.2 92.1L446.1 91.6L447 91L448 90.4L448.9 89.9L449.8 89.3L450.7 88.7L451.6 88.2L452.5 87.6L453.4 87L454.3 86.5L455.2 85.9L456.1 85.3L457 84.8L457.9 84.2L458.8 83.6L459.8 83.1L460.7 82.5L461.6 81.9L462.5 81.2L463.4 80.6L464.3 79.9L465.2 79.2L466.1 78.4L467 77.7L467.9 77L468.8 76.4L469.7 75.9L470.7 75.5L471.6 75.2L472.5 75L473.4 75L474.3 75L475.2 75L476.1 75.1L477 75.2L477.9 75.3L478.8 75.4L479.7 75.5L480.6 75.5L481.5 75.6L482.5 75.6L483.4 75.6L484.3 75.6L485.2 75.6L486.1 75.6L487 75.6L487.9 75.6L488.8 75.6L489.7 75.6L490.6 75.6L491.5 75.6L492.4 75.7L493.4 75.8L494.3 76L495.2 76.2L496.1 76.3L497 76.6L497.9 76.8L498.8 77L499.7 77.2L500.6 77.4L501.5 77.5L502.4 77.7L503.3 77.8L504.2 77.9L505.2 78L506.1 78.1L507 78.1L507.9 78.2L508.8 78.2L509.7 78.2L510.6 78.2L511.5 78.2L512.4 78.1L513.3 78.1L514.2 78L515.1 77.9L516.1 77.7L517 77.6L517.9 77.4L518.8 77.2L519.7 76.9L520.6 76.7L521.5 76.6"/>
<text class="tk" transform="translate(381.40,17.80) scale(1,1.1)" text-anchor="end">30</text>
<text class="tk" transform="translate(381.40,31.41) scale(1,1.1)" text-anchor="end">25</text>
<text class="tk" transform="translate(381.40,45.03) scale(1,1.1)" text-anchor="end">20</text>
<text class="tk" transform="translate(381.40,58.64) scale(1,1.1)" text-anchor="end">15</text>
<text class="tk" transform="translate(381.40,72.25) scale(1,1.1)" text-anchor="end">10</text>
<text class="tk" transform="translate(381.40,85.86) scale(1,1.1)" text-anchor="end">5</text>
<text class="tk" transform="translate(381.40,99.48) scale(1,1.1)" text-anchor="end">0</text>
<text class="tk" transform="translate(381.40,113.09) scale(1,1.1)" text-anchor="end">-5</text>
<text class="tk" transform="translate(381.40,126.70) scale(1,1.1)" text-anchor="end">-10</text>
<text class="tk" transform="translate(385.30,104.98) scale(1,1.1)" text-anchor="middle">0</text>
<text class="tk" transform="translate(412.54,104.98) scale(1,1.1)" text-anchor="middle">20</text>
<text class="tk" transform="translate(439.78,104.98) scale(1,1.1)" text-anchor="middle">40</text>
<text class="tk" transform="translate(467.02,104.98) scale(1,1.1)" text-anchor="middle">60</text>
<text class="tk" transform="translate(494.26,104.98) scale(1,1.1)" text-anchor="middle">80</text>
<text class="tk" transform="translate(521.50,104.98) scale(1,1.1)" text-anchor="middle">100</text>
<text class="tt" transform="translate(456.45,10.90) scale(1,1.18)" text-anchor="middle">Sound Hip Rotation ( +ve Internal)</text>
<text class="ax" transform="translate(453.20,130.60) scale(1,1.12)" text-anchor="middle">% gait cycle</text>
<text class="ax" transform="translate(373.90,71.05) rotate(-90)" text-anchor="middle">Degrees</text>
<line x1="527.90" y1="70.65" x2="535.90" y2="70.65" stroke="#222" stroke-width="1"/>
<text class="lg" x="536.00" y="71.85">IMU</text>
<line x1="528.20" y1="77.35" x2="535.90" y2="77.35" stroke="#25b45e" stroke-width="1.1" stroke-dasharray="1.7 1.1"/>
<text class="lg" x="536.00" y="78.55">OMC</text>
</g>
<g id="panel4">
<line class="gl" x1="23.3" y1="148.30" x2="159.6" y2="148.30"/>
<line class="gl" x1="23.3" y1="160.30" x2="159.6" y2="160.30"/>
<line class="gl" x1="23.3" y1="172.30" x2="159.6" y2="172.30"/>
<line class="gl" x1="23.3" y1="184.30" x2="159.6" y2="184.30"/>
<line class="gl" x1="23.3" y1="196.30" x2="159.6" y2="196.30"/>
<line class="gl" x1="23.3" y1="208.30" x2="159.6" y2="208.30"/>
<line class="gl" x1="23.3" y1="220.30" x2="159.6" y2="220.30"/>
<line class="gl" x1="23.3" y1="232.30" x2="159.6" y2="232.30"/>
<line class="gl" x1="23.3" y1="244.30" x2="159.6" y2="244.30"/>
<line class="gl" x1="23.3" y1="256.30" x2="159.6" y2="256.30"/>
<line x1="23.3" y1="148.30" x2="23.3" y2="256.30" stroke="#bcbcbc" stroke-width=".6"/>
<clipPath id="cp4"><path d="M23.3 225L24.2 224.5L25.1 223.9L26 223.1L26.9 222.2L27.8 221.3L28.8 220.5L29.7 219.6L30.6 218.7L31.5 217.8L32.4 216.9L33.3 216L34.2 215L35.1 214.1L36 213.2L36.9 212.4L37.8 211.7L38.7 211.2L39.7 210.9L40.6 210.7L41.5 210.7L42.4 210.8L43.3 210.9L44.2 211L45.1 211.2L46 211.5L46.9 211.8L47.8 212.2L48.7 212.7L49.7 213.3L50.6 213.9L51.5 214.5L52.4 215.1L53.3 215.8L54.2 216.4L55.1 217.1L56 217.7L56.9 218.3L57.8 218.8L58.7 219.4L59.6 219.9L60.6 220.4L61.5 220.9L62.4 221.4L63.3 221.9L64.2 222.3L65.1 222.8L66 223.2L66.9 223.6L67.8 223.9L68.7 224.3L69.6 224.5L70.6 224.8L71.5 225L72.4 225.1L73.3 225.3L74.2 225.3L75.1 225.4L76 225.4L76.9 225.4L77.8 225.3L78.7 225.2L79.6 225.1L80.5 224.9L81.5 224.7L82.4 224.5L83.3 224.2L84.2 223.9L85.1 223.5L86 223.1L86.9 222.5L87.8 221.9L88.7 221.2L89.6 220.3L90.5 219.3L91.4 218.1L92.4 216.6L93.3 214.9L94.2 212.8L95.1 210.5L96 208.1L96.9 205.5L97.8 202.9L98.7 200.2L99.6 197.6L100.5 194.9L101.4 192.1L102.4 189.4L103.3 186.7L104.2 184L105.1 181.3L106 178.6L106.9 175.9L107.8 173.3L108.7 170.7L109.6 168.3L110.5 166.1L111.4 164.1L112.3 162.4L113.3 160.9L114.2 159.7L115.1 158.6L116 157.6L116.9 156.8L117.8 156.1L118.7 155.6L119.6 155.2L120.5 155L121.4 154.9L122.3 154.9L123.3 155.2L124.2 155.6L125.1 156.3L126 157.1L126.9 158.3L127.8 159.6L128.7 161.2L129.6 162.9L130.5 164.9L131.4 166.9L132.3 169.1L133.2 171.4L134.2 173.8L135.1 176.3L136 178.9L136.9 181.7L137.8 184.5L138.7 187.4L139.6 190.4L140.5 193.3L141.4 196.3L142.3 199.2L143.2 202.2L144.2 205.1L145.1 208.1L146 211L146.9 213.9L147.8 216.6L148.7 219.2L149.6 221.6L150.5 223.8L151.4 225.8L152.3 227.4L153.2 228.7L154.1 229.6L155.1 230.1L156 230.3L156.9 230.1L157.8 229.6L158.7 229L159.6 228.5L159.6 240.7L158.7 241.2L157.8 241.8L156.9 242.3L156 242.5L155.1 242.4L154.1 241.9L153.2 241L152.3 239.7L151.4 237.9L150.5 235.8L149.6 233.4L148.7 230.8L147.8 228.2L146.9 225.5L146 222.8L145.1 220.1L144.2 217.4L143.2 214.6L142.3 211.8L141.4 209L140.5 206.1L139.6 203.1L138.7 200.2L137.8 197.3L136.9 194.5L136 191.9L135.1 189.5L134.2 187.2L133.2 185.1L132.3 183.1L131.4 181.2L130.5 179.5L129.6 177.9L128.7 176.5L127.8 175.3L126.9 174.2L126 173.4L125.1 172.7L124.2 172.1L123.3 171.8L122.3 171.7L121.4 171.8L120.5 172.1L119.6 172.5L118.7 173.2L117.8 174L116.9 175L116 176.2L115.1 177.6L114.2 179.2L113.3 181L112.3 183L111.4 185.2L110.5 187.6L109.6 190.1L108.7 192.7L107.8 195.3L106.9 198L106 200.7L105.1 203.4L104.2 206.1L103.3 208.8L102.4 211.5L101.4 214.1L100.5 216.5L99.6 218.7L98.7 220.7L97.8 222.6L96.9 224.4L96 226L95.1 227.5L94.2 228.9L93.3 230.1L92.4 231.1L91.4 232L90.5 232.7L89.6 233.4L88.7 233.9L87.8 234.4L86.9 234.8L86 235.2L85.1 235.5L84.2 235.7L83.3 235.9L82.4 236.1L81.5 236.2L80.5 236.4L79.6 236.5L78.7 236.5L77.8 236.6L76.9 236.6L76 236.6L75.1 236.6L74.2 236.6L73.3 236.5L72.4 236.4L71.5 236.3L70.6 236.2L69.6 236.1L68.7 235.9L67.8 235.8L66.9 235.6L66 235.3L65.1 235.1L64.2 234.9L63.3 234.6L62.4 234.4L61.5 234.1L60.6 233.8L59.6 233.6L58.7 233.3L57.8 232.9L56.9 232.6L56 232.3L55.1 231.9L54.2 231.5L53.3 231.2L52.4 230.8L51.5 230.4L50.6 230L49.7 229.7L48.7 229.3L47.8 229L46.9 228.7L46 228.4L45.1 228.2L44.2 228L43.3 227.8L42.4 227.6L41.5 227.6L40.6 227.5L39.7 227.6L38.7 227.6L37.8 227.8L36.9 227.9L36 228.1L35.1 228.3L34.2 228.5L33.3 228.8L32.4 229.1L31.5 229.4L30.6 229.7L29.7 230L28.8 230.4L27.8 230.9L26.9 231.3L26 231.8L25.1 232.3L24.2 232.7L23.3 233Z"/><path d="M23.3 218.6L24.2 218.1L25.1 217.3L26 216.5L26.9 215.6L27.8 214.8L28.8 214L29.7 213.2L30.6 212.5L31.5 211.8L32.4 211.1L33.3 210.5L34.2 210L35.1 209.5L36 209L36.9 208.6L37.8 208.2L38.7 208L39.7 207.8L40.6 207.7L41.5 207.7L42.4 207.8L43.3 208L44.2 208.3L45.1 208.6L46 208.9L46.9 209.2L47.8 209.6L48.7 210.1L49.7 210.6L50.6 211L51.5 211.6L52.4 212.1L53.3 212.6L54.2 213.1L55.1 213.6L56 214.1L56.9 214.6L57.8 215.1L58.7 215.5L59.6 215.9L60.6 216.3L61.5 216.7L62.4 217.1L63.3 217.5L64.2 217.8L65.1 218.1L66 218.4L66.9 218.7L67.8 218.9L68.7 219.1L69.6 219.3L70.6 219.4L71.5 219.5L72.4 219.6L73.3 219.6L74.2 219.6L75.1 219.6L76 219.6L76.9 219.5L77.8 219.4L78.7 219.3L79.6 219.2L80.5 219L81.5 218.8L82.4 218.6L83.3 218.4L84.2 218.1L85.1 217.8L86 217.4L86.9 217L87.8 216.5L88.7 215.9L89.6 215.2L90.5 214.5L91.4 213.6L92.4 212.6L93.3 211.5L94.2 210.1L95.1 208.6L96 206.9L96.9 205.2L97.8 203.3L98.7 201.3L99.6 199.3L100.5 197.1L101.4 194.8L102.4 192.4L103.3 189.9L104.2 187.5L105.1 185L106 182.5L106.9 180L107.8 177.6L108.7 175.3L109.6 173.1L110.5 170.9L111.4 168.9L112.3 167L113.3 165.3L114.2 163.9L115.1 162.6L116 161.5L116.9 160.5L117.8 159.6L118.7 158.7L119.6 158L120.5 157.5L121.4 157.1L122.3 156.8L123.3 156.7L124.2 156.8L125.1 157.1L126 157.6L126.9 158.2L127.8 158.9L128.7 159.8L129.6 160.8L130.5 161.9L131.4 163.2L132.3 164.6L133.2 166.2L134.2 167.9L135.1 169.7L136 171.6L136.9 173.7L137.8 175.8L138.7 178L139.6 180.3L140.5 182.7L141.4 185.1L142.3 187.5L143.2 189.9L144.2 192.3L145.1 194.8L146 197.3L146.9 199.8L147.8 202.3L148.7 204.7L149.6 207.1L150.5 209.4L151.4 211.5L152.3 213.6L153.2 215.4L154.1 217L155.1 218.3L156 219.2L156.9 219.8L157.8 220L158.7 220.1L159.6 220L159.6 232.2L158.7 232.4L157.8 232.6L156.9 232.6L156 232.3L155.1 231.8L154.1 231.1L153.2 230.2L152.3 229L151.4 227.8L150.5 226.4L149.6 224.8L148.7 223.2L147.8 221.3L146.9 219.3L146 217.2L145.1 215L144.2 212.7L143.2 210.3L142.3 208L141.4 205.5L140.5 203L139.6 200.5L138.7 198L137.8 195.6L136.9 193.3L136 191L135.1 188.9L134.2 186.8L133.2 184.9L132.3 183L131.4 181.1L130.5 179.3L129.6 177.7L128.7 176.1L127.8 174.7L126.9 173.6L126 172.6L125.1 171.9L124.2 171.5L123.3 171.3L122.3 171.3L121.4 171.5L120.5 171.8L119.6 172.3L118.7 172.9L117.8 173.7L116.9 174.5L116 175.5L115.1 176.6L114.2 177.9L113.3 179.3L112.3 181L111.4 182.9L110.5 184.9L109.6 187.1L108.7 189.3L107.8 191.7L106.9 194L106 196.5L105.1 198.9L104.2 201.4L103.3 203.9L102.4 206.4L101.4 208.8L100.5 211.1L99.6 213.3L98.7 215.4L97.8 217.4L96.9 219.2L96 220.8L95.1 222.3L94.2 223.5L93.3 224.7L92.4 225.6L91.4 226.5L90.5 227.2L89.6 227.9L88.7 228.5L87.8 229.1L86.9 229.6L86 230.1L85.1 230.5L84.2 230.8L83.3 231.1L82.4 231.4L81.5 231.6L80.5 231.8L79.6 231.9L78.7 232.1L77.8 232.2L76.9 232.3L76 232.3L75.1 232.3L74.2 232.3L73.3 232.3L72.4 232.2L71.5 232.2L70.6 232.1L69.6 232L68.7 231.8L67.8 231.7L66.9 231.6L66 231.4L65.1 231.2L64.2 231L63.3 230.8L62.4 230.6L61.5 230.3L60.6 230L59.6 229.7L58.7 229.4L57.8 229.1L56.9 228.7L56 228.3L55.1 227.9L54.2 227.4L53.3 226.9L52.4 226.4L51.5 225.9L50.6 225.4L49.7 225L48.7 224.6L47.8 224.2L46.9 223.8L46 223.5L45.1 223.2L44.2 222.9L43.3 222.7L42.4 222.6L41.5 222.5L40.6 222.5L39.7 222.6L38.7 222.7L37.8 222.9L36.9 223.2L36 223.4L35.1 223.7L34.2 224L33.3 224.3L32.4 224.6L31.5 224.9L30.6 225.3L29.7 225.7L28.8 226.2L27.8 226.6L26.9 227.2L26 227.7L25.1 228.2L24.2 228.6L23.3 229Z"/></clipPath>
<path class="bi" d="M23.3 225L24.2 224.5L25.1 223.9L26 223.1L26.9 222.2L27.8 221.3L28.8 220.5L29.7 219.6L30.6 218.7L31.5 217.8L32.4 216.9L33.3 216L34.2 215L35.1 214.1L36 213.2L36.9 212.4L37.8 211.7L38.7 211.2L39.7 210.9L40.6 210.7L41.5 210.7L42.4 210.8L43.3 210.9L44.2 211L45.1 211.2L46 211.5L46.9 211.8L47.8 212.2L48.7 212.7L49.7 213.3L50.6 213.9L51.5 214.5L52.4 215.1L53.3 215.8L54.2 216.4L55.1 217.1L56 217.7L56.9 218.3L57.8 218.8L58.7 219.4L59.6 219.9L60.6 220.4L61.5 220.9L62.4 221.4L63.3 221.9L64.2 222.3L65.1 222.8L66 223.2L66.9 223.6L67.8 223.9L68.7 224.3L69.6 224.5L70.6 224.8L71.5 225L72.4 225.1L73.3 225.3L74.2 225.3L75.1 225.4L76 225.4L76.9 225.4L77.8 225.3L78.7 225.2L79.6 225.1L80.5 224.9L81.5 224.7L82.4 224.5L83.3 224.2L84.2 223.9L85.1 223.5L86 223.1L86.9 222.5L87.8 221.9L88.7 221.2L89.6 220.3L90.5 219.3L91.4 218.1L92.4 216.6L93.3 214.9L94.2 212.8L95.1 210.5L96 208.1L96.9 205.5L97.8 202.9L98.7 200.2L99.6 197.6L100.5 194.9L101.4 192.1L102.4 189.4L103.3 186.7L104.2 184L105.1 181.3L106 178.6L106.9 175.9L107.8 173.3L108.7 170.7L109.6 168.3L110.5 166.1L111.4 164.1L112.3 162.4L113.3 160.9L114.2 159.7L115.1 158.6L116 157.6L116.9 156.8L117.8 156.1L118.7 155.6L119.6 155.2L120.5 155L121.4 154.9L122.3 154.9L123.3 155.2L124.2 155.6L125.1 156.3L126 157.1L126.9 158.3L127.8 159.6L128.7 161.2L129.6 162.9L130.5 164.9L131.4 166.9L132.3 169.1L133.2 171.4L134.2 173.8L135.1 176.3L136 178.9L136.9 181.7L137.8 184.5L138.7 187.4L139.6 190.4L140.5 193.3L141.4 196.3L142.3 199.2L143.2 202.2L144.2 205.1L145.1 208.1L146 211L146.9 213.9L147.8 216.6L148.7 219.2L149.6 221.6L150.5 223.8L151.4 225.8L152.3 227.4L153.2 228.7L154.1 229.6L155.1 230.1L156 230.3L156.9 230.1L157.8 229.6L158.7 229L159.6 228.5L159.6 240.7L158.7 241.2L157.8 241.8L156.9 242.3L156 242.5L155.1 242.4L154.1 241.9L153.2 241L152.3 239.7L151.4 237.9L150.5 235.8L149.6 233.4L148.7 230.8L147.8 228.2L146.9 225.5L146 222.8L145.1 220.1L144.2 217.4L143.2 214.6L142.3 211.8L141.4 209L140.5 206.1L139.6 203.1L138.7 200.2L137.8 197.3L136.9 194.5L136 191.9L135.1 189.5L134.2 187.2L133.2 185.1L132.3 183.1L131.4 181.2L130.5 179.5L129.6 177.9L128.7 176.5L127.8 175.3L126.9 174.2L126 173.4L125.1 172.7L124.2 172.1L123.3 171.8L122.3 171.7L121.4 171.8L120.5 172.1L119.6 172.5L118.7 173.2L117.8 174L116.9 175L116 176.2L115.1 177.6L114.2 179.2L113.3 181L112.3 183L111.4 185.2L110.5 187.6L109.6 190.1L108.7 192.7L107.8 195.3L106.9 198L106 200.7L105.1 203.4L104.2 206.1L103.3 208.8L102.4 211.5L101.4 214.1L100.5 216.5L99.6 218.7L98.7 220.7L97.8 222.6L96.9 224.4L96 226L95.1 227.5L94.2 228.9L93.3 230.1L92.4 231.1L91.4 232L90.5 232.7L89.6 233.4L88.7 233.9L87.8 234.4L86.9 234.8L86 235.2L85.1 235.5L84.2 235.7L83.3 235.9L82.4 236.1L81.5 236.2L80.5 236.4L79.6 236.5L78.7 236.5L77.8 236.6L76.9 236.6L76 236.6L75.1 236.6L74.2 236.6L73.3 236.5L72.4 236.4L71.5 236.3L70.6 236.2L69.6 236.1L68.7 235.9L67.8 235.8L66.9 235.6L66 235.3L65.1 235.1L64.2 234.9L63.3 234.6L62.4 234.4L61.5 234.1L60.6 233.8L59.6 233.6L58.7 233.3L57.8 232.9L56.9 232.6L56 232.3L55.1 231.9L54.2 231.5L53.3 231.2L52.4 230.8L51.5 230.4L50.6 230L49.7 229.7L48.7 229.3L47.8 229L46.9 228.7L46 228.4L45.1 228.2L44.2 228L43.3 227.8L42.4 227.6L41.5 227.6L40.6 227.5L39.7 227.6L38.7 227.6L37.8 227.8L36.9 227.9L36 228.1L35.1 228.3L34.2 228.5L33.3 228.8L32.4 229.1L31.5 229.4L30.6 229.7L29.7 230L28.8 230.4L27.8 230.9L26.9 231.3L26 231.8L25.1 232.3L24.2 232.7L23.3 233Z"/>
<path class="bo" d="M23.3 218.6L24.2 218.1L25.1 217.3L26 216.5L26.9 215.6L27.8 214.8L28.8 214L29.7 213.2L30.6 212.5L31.5 211.8L32.4 211.1L33.3 210.5L34.2 210L35.1 209.5L36 209L36.9 208.6L37.8 208.2L38.7 208L39.7 207.8L40.6 207.7L41.5 207.7L42.4 207.8L43.3 208L44.2 208.3L45.1 208.6L46 208.9L46.9 209.2L47.8 209.6L48.7 210.1L49.7 210.6L50.6 211L51.5 211.6L52.4 212.1L53.3 212.6L54.2 213.1L55.1 213.6L56 214.1L56.9 214.6L57.8 215.1L58.7 215.5L59.6 215.9L60.6 216.3L61.5 216.7L62.4 217.1L63.3 217.5L64.2 217.8L65.1 218.1L66 218.4L66.9 218.7L67.8 218.9L68.7 219.1L69.6 219.3L70.6 219.4L71.5 219.5L72.4 219.6L73.3 219.6L74.2 219.6L75.1 219.6L76 219.6L76.9 219.5L77.8 219.4L78.7 219.3L79.6 219.2L80.5 219L81.5 218.8L82.4 218.6L83.3 218.4L84.2 218.1L85.1 217.8L86 217.4L86.9 217L87.8 216.5L88.7 215.9L89.6 215.2L90.5 214.5L91.4 213.6L92.4 212.6L93.3 211.5L94.2 210.1L95.1 208.6L96 206.9L96.9 205.2L97.8 203.3L98.7 201.3L99.6 199.3L100.5 197.1L101.4 194.8L102.4 192.4L103.3 189.9L104.2 187.5L105.1 185L106 182.5L106.9 180L107.8 177.6L108.7 175.3L109.6 173.1L110.5 170.9L111.4 168.9L112.3 167L113.3 165.3L114.2 163.9L115.1 162.6L116 161.5L116.9 160.5L117.8 159.6L118.7 158.7L119.6 158L120.5 157.5L121.4 157.1L122.3 156.8L123.3 156.7L124.2 156.8L125.1 157.1L126 157.6L126.9 158.2L127.8 158.9L128.7 159.8L129.6 160.8L130.5 161.9L131.4 163.2L132.3 164.6L133.2 166.2L134.2 167.9L135.1 169.7L136 171.6L136.9 173.7L137.8 175.8L138.7 178L139.6 180.3L140.5 182.7L141.4 185.1L142.3 187.5L143.2 189.9L144.2 192.3L145.1 194.8L146 197.3L146.9 199.8L147.8 202.3L148.7 204.7L149.6 207.1L150.5 209.4L151.4 211.5L152.3 213.6L153.2 215.4L154.1 217L155.1 218.3L156 219.2L156.9 219.8L157.8 220L158.7 220.1L159.6 220L159.6 232.2L158.7 232.4L157.8 232.6L156.9 232.6L156 232.3L155.1 231.8L154.1 231.1L153.2 230.2L152.3 229L151.4 227.8L150.5 226.4L149.6 224.8L148.7 223.2L147.8 221.3L146.9 219.3L146 217.2L145.1 215L144.2 212.7L143.2 210.3L142.3 208L141.4 205.5L140.5 203L139.6 200.5L138.7 198L137.8 195.6L136.9 193.3L136 191L135.1 188.9L134.2 186.8L133.2 184.9L132.3 183L131.4 181.1L130.5 179.3L129.6 177.7L128.7 176.1L127.8 174.7L126.9 173.6L126 172.6L125.1 171.9L124.2 171.5L123.3 171.3L122.3 171.3L121.4 171.5L120.5 171.8L119.6 172.3L118.7 172.9L117.8 173.7L116.9 174.5L116 175.5L115.1 176.6L114.2 177.9L113.3 179.3L112.3 181L111.4 182.9L110.5 184.9L109.6 187.1L108.7 189.3L107.8 191.7L106.9 194L106 196.5L105.1 198.9L104.2 201.4L103.3 203.9L102.4 206.4L101.4 208.8L100.5 211.1L99.6 213.3L98.7 215.4L97.8 217.4L96.9 219.2L96 220.8L95.1 222.3L94.2 223.5L93.3 224.7L92.4 225.6L91.4 226.5L90.5 227.2L89.6 227.9L88.7 228.5L87.8 229.1L86.9 229.6L86 230.1L85.1 230.5L84.2 230.8L83.3 231.1L82.4 231.4L81.5 231.6L80.5 231.8L79.6 231.9L78.7 232.1L77.8 232.2L76.9 232.3L76 232.3L75.1 232.3L74.2 232.3L73.3 232.3L72.4 232.2L71.5 232.2L70.6 232.1L69.6 232L68.7 231.8L67.8 231.7L66.9 231.6L66 231.4L65.1 231.2L64.2 231L63.3 230.8L62.4 230.6L61.5 230.3L60.6 230L59.6 229.7L58.7 229.4L57.8 229.1L56.9 228.7L56 228.3L55.1 227.9L54.2 227.4L53.3 226.9L52.4 226.4L51.5 225.9L50.6 225.4L49.7 225L48.7 224.6L47.8 224.2L46.9 223.8L46 223.5L45.1 223.2L44.2 222.9L43.3 222.7L42.4 222.6L41.5 222.5L40.6 222.5L39.7 222.6L38.7 222.7L37.8 222.9L36.9 223.2L36 223.4L35.1 223.7L34.2 224L33.3 224.3L32.4 224.6L31.5 224.9L30.6 225.3L29.7 225.7L28.8 226.2L27.8 226.6L26.9 227.2L26 227.7L25.1 228.2L24.2 228.6L23.3 229Z"/>
<path class="go" clip-path="url(#cp4)" d="M23.3 148.30H159.6M23.3 160.30H159.6M23.3 172.30H159.6M23.3 184.30H159.6M23.3 196.30H159.6M23.3 208.30H159.6M23.3 220.30H159.6M23.3 232.30H159.6M23.3 244.30H159.6M23.3 256.30H159.6"/>
<path class="si" d="M23.3 225L24.2 224.5L25.1 223.9L26 223.1L26.9 222.2L27.8 221.3L28.8 220.5L29.7 219.6L30.6 218.7L31.5 217.8L32.4 216.9L33.3 216L34.2 215L35.1 214.1L36 213.2L36.9 212.4L37.8 211.7L38.7 211.2L39.7 210.9L40.6 210.7L41.5 210.7L42.4 210.8L43.3 210.9L44.2 211L45.1 211.2L46 211.5L46.9 211.8L47.8 212.2L48.7 212.7L49.7 213.3L50.6 213.9L51.5 214.5L52.4 215.1L53.3 215.8L54.2 216.4L55.1 217.1L56 217.7L56.9 218.3L57.8 218.8L58.7 219.4L59.6 219.9L60.6 220.4L61.5 220.9L62.4 221.4L63.3 221.9L64.2 222.3L65.1 222.8L66 223.2L66.9 223.6L67.8 223.9L68.7 224.3L69.6 224.5L70.6 224.8L71.5 225L72.4 225.1L73.3 225.3L74.2 225.3L75.1 225.4L76 225.4L76.9 225.4L77.8 225.3L78.7 225.2L79.6 225.1L80.5 224.9L81.5 224.7L82.4 224.5L83.3 224.2L84.2 223.9L85.1 223.5L86 223.1L86.9 222.5L87.8 221.9L88.7 221.2L89.6 220.3L90.5 219.3L91.4 218.1L92.4 216.6L93.3 214.9L94.2 212.8L95.1 210.5L96 208.1L96.9 205.5L97.8 202.9L98.7 200.2L99.6 197.6L100.5 194.9L101.4 192.1L102.4 189.4L103.3 186.7L104.2 184L105.1 181.3L106 178.6L106.9 175.9L107.8 173.3L108.7 170.7L109.6 168.3L110.5 166.1L111.4 164.1L112.3 162.4L113.3 160.9L114.2 159.7L115.1 158.6L116 157.6L116.9 156.8L117.8 156.1L118.7 155.6L119.6 155.2L120.5 155L121.4 154.9L122.3 154.9L123.3 155.2L124.2 155.6L125.1 156.3L126 157.1L126.9 158.3L127.8 159.6L128.7 161.2L129.6 162.9L130.5 164.9L131.4 166.9L132.3 169.1L133.2 171.4L134.2 173.8L135.1 176.3L136 178.9L136.9 181.7L137.8 184.5L138.7 187.4L139.6 190.4L140.5 193.3L141.4 196.3L142.3 199.2L143.2 202.2L144.2 205.1L145.1 208.1L146 211L146.9 213.9L147.8 216.6L148.7 219.2L149.6 221.6L150.5 223.8L151.4 225.8L152.3 227.4L153.2 228.7L154.1 229.6L155.1 230.1L156 230.3L156.9 230.1L157.8 229.6L158.7 229L159.6 228.5" stroke-opacity=".85"/>
<path class="si" d="M23.3 233L24.2 232.7L25.1 232.3L26 231.8L26.9 231.3L27.8 230.9L28.8 230.4L29.7 230L30.6 229.7L31.5 229.4L32.4 229.1L33.3 228.8L34.2 228.5L35.1 228.3L36 228.1L36.9 227.9L37.8 227.8L38.7 227.6L39.7 227.6L40.6 227.5L41.5 227.6L42.4 227.6L43.3 227.8L44.2 228L45.1 228.2L46 228.4L46.9 228.7L47.8 229L48.7 229.3L49.7 229.7L50.6 230L51.5 230.4L52.4 230.8L53.3 231.2L54.2 231.5L55.1 231.9L56 232.3L56.9 232.6L57.8 232.9L58.7 233.3L59.6 233.6L60.6 233.8L61.5 234.1L62.4 234.4L63.3 234.6L64.2 234.9L65.1 235.1L66 235.3L66.9 235.6L67.8 235.8L68.7 235.9L69.6 236.1L70.6 236.2L71.5 236.3L72.4 236.4L73.3 236.5L74.2 236.6L75.1 236.6L76 236.6L76.9 236.6L77.8 236.6L78.7 236.5L79.6 236.5L80.5 236.4L81.5 236.2L82.4 236.1L83.3 235.9L84.2 235.7L85.1 235.5L86 235.2L86.9 234.8L87.8 234.4L88.7 233.9L89.6 233.4L90.5 232.7L91.4 232L92.4 231.1L93.3 230.1L94.2 228.9L95.1 227.5L96 226L96.9 224.4L97.8 222.6L98.7 220.7L99.6 218.7L100.5 216.5L101.4 214.1L102.4 211.5L103.3 208.8L104.2 206.1L105.1 203.4L106 200.7L106.9 198L107.8 195.3L108.7 192.7L109.6 190.1L110.5 187.6L111.4 185.2L112.3 183L113.3 181L114.2 179.2L115.1 177.6L116 176.2L116.9 175L117.8 174L118.7 173.2L119.6 172.5L120.5 172.1L121.4 171.8L122.3 171.7L123.3 171.8L124.2 172.1L125.1 172.7L126 173.4L126.9 174.2L127.8 175.3L128.7 176.5L129.6 177.9L130.5 179.5L131.4 181.2L132.3 183.1L133.2 185.1L134.2 187.2L135.1 189.5L136 191.9L136.9 194.5L137.8 197.3L138.7 200.2L139.6 203.1L140.5 206.1L141.4 209L142.3 211.8L143.2 214.6L144.2 217.4L145.1 220.1L146 222.8L146.9 225.5L147.8 228.2L148.7 230.8L149.6 233.4L150.5 235.8L151.4 237.9L152.3 239.7L153.2 241L154.1 241.9L155.1 242.4L156 242.5L156.9 242.3L157.8 241.8L158.7 241.2L159.6 240.7" stroke-opacity=".7"/>
<path class="mo" d="M23.3 223.8L24.2 223.3L25.1 222.7L26 222L26.9 221.4L27.8 220.7L28.8 220.1L29.7 219.5L30.6 218.9L31.5 218.4L32.4 217.9L33.3 217.5L34.2 217.1L35.1 216.7L36 216.4L36.9 216.1L37.8 215.8L38.7 215.6L39.7 215.4L40.6 215.4L41.5 215.4L42.4 215.5L43.3 215.7L44.2 215.9L45.1 216.2L46 216.5L46.9 216.9L47.8 217.3L48.7 217.7L49.7 218.1L50.6 218.6L51.5 219L52.4 219.5L53.3 220L54.2 220.5L55.1 220.9L56 221.4L56.9 221.8L57.8 222.2L58.7 222.6L59.6 223L60.6 223.3L61.5 223.6L62.4 223.9L63.3 224.2L64.2 224.5L65.1 224.7L66 224.9L66.9 225.1L67.8 225.3L68.7 225.5L69.6 225.6L70.6 225.7L71.5 225.8L72.4 225.9L73.3 225.9L74.2 225.9L75.1 225.9L76 225.9L76.9 225.9L77.8 225.9L78.7 225.8L79.6 225.7L80.5 225.5L81.5 225.4L82.4 225.2L83.3 225L84.2 224.7L85.1 224.4L86 224L86.9 223.5L87.8 222.9L88.7 222.3L89.6 221.6L90.5 220.9L91.4 220.1L92.4 219.1L93.3 218L94.2 216.8L95.1 215.4L96 213.7L96.9 212L97.8 210L98.7 208L99.6 205.8L100.5 203.5L101.4 201.2L102.4 198.8L103.3 196.3L104.2 193.8L105.1 191.3L106 188.8L106.9 186.4L107.8 184L108.7 181.7L109.6 179.4L110.5 177.3L111.4 175.2L112.3 173.4L113.3 171.8L114.2 170.5L115.1 169.3L116 168.3L116.9 167.4L117.8 166.6L118.7 165.9L119.6 165.3L120.5 164.9L121.4 164.6L122.3 164.5L123.3 164.6L124.2 164.9L125.1 165.3L126 165.8L126.9 166.6L127.8 167.4L128.7 168.4L129.6 169.6L130.5 170.9L131.4 172.4L132.3 174.1L133.2 175.9L134.2 177.8L135.1 179.8L136 182L136.9 184.3L137.8 186.7L138.7 189.2L139.6 191.7L140.5 194.2L141.4 196.7L142.3 199.1L143.2 201.6L144.2 204.1L145.1 206.6L146 209.1L146.9 211.5L147.8 213.8L148.7 216L149.6 217.9L150.5 219.7L151.4 221.2L152.3 222.6L153.2 223.8L154.1 224.8L155.1 225.5L156 226L156.9 226.3L157.8 226.4L158.7 226.3L159.6 226.2"/>
<path class="mi" d="M23.3 230.3L24.2 229.9L25.1 229.2L26 228.4L26.9 227.6L27.8 226.9L28.8 226.1L29.7 225.4L30.6 224.7L31.5 224L32.4 223.4L33.3 222.8L34.2 222.3L35.1 221.7L36 221.3L36.9 220.8L37.8 220.4L38.7 220.1L39.7 219.9L40.6 219.8L41.5 219.7L42.4 219.7L43.3 219.7L44.2 219.9L45.1 220L46 220.2L46.9 220.5L47.8 220.9L48.7 221.3L49.7 221.8L50.6 222.3L51.5 222.8L52.4 223.3L53.3 223.9L54.2 224.5L55.1 225L56 225.5L56.9 226L57.8 226.5L58.7 227L59.6 227.4L60.6 227.8L61.5 228.2L62.4 228.5L63.3 228.9L64.2 229.2L65.1 229.5L66 229.8L66.9 230.1L67.8 230.4L68.7 230.6L69.6 230.8L70.6 230.9L71.5 231.1L72.4 231.2L73.3 231.2L74.2 231.3L75.1 231.3L76 231.3L76.9 231.2L77.8 231.2L78.7 231.1L79.6 230.9L80.5 230.7L81.5 230.6L82.4 230.3L83.3 230.1L84.2 229.8L85.1 229.5L86 229L86.9 228.6L87.8 228L88.7 227.4L89.6 226.7L90.5 226L91.4 225.1L92.4 224.1L93.3 223L94.2 221.6L95.1 220.1L96 218.4L96.9 216.5L97.8 214.4L98.7 212.2L99.6 209.9L100.5 207.5L101.4 205L102.4 202.4L103.3 199.7L104.2 196.9L105.1 194.2L106 191.5L106.9 188.9L107.8 186.3L108.7 183.7L109.6 181.2L110.5 178.8L111.4 176.5L112.3 174.4L113.3 172.5L114.2 170.9L115.1 169.4L116 168L116.9 166.9L117.8 165.8L118.7 165L119.6 164.3L120.5 163.8L121.4 163.4L122.3 163.3L123.3 163.4L124.2 163.7L125.1 164.2L126 164.9L126.9 165.9L127.8 167L128.7 168.3L129.6 169.8L130.5 171.5L131.4 173.5L132.3 175.6L133.2 177.8L134.2 180.2L135.1 182.7L136 185.3L136.9 188.1L137.8 190.9L138.7 193.8L139.6 196.8L140.5 199.7L141.4 202.6L142.3 205.5L143.2 208.3L144.2 211.1L145.1 213.8L146 216.5L146.9 219.1L147.8 221.7L148.7 224.2L149.6 226.6L150.5 228.8L151.4 230.8L152.3 232.3L153.2 233.5L154.1 234.3L155.1 234.8L156 234.9L156.9 234.8L157.8 234.4L158.7 233.9L159.6 233.5"/>
<text class="tk" transform="translate(19.40,149.80) scale(1,1.1)" text-anchor="end">70</text>
<text class="tk" transform="translate(19.40,161.80) scale(1,1.1)" text-anchor="end">60</text>
<text class="tk" transform="translate(19.40,173.80) scale(1,1.1)" text-anchor="end">50</text>
<text class="tk" transform="translate(19.40,185.80) scale(1,1.1)" text-anchor="end">40</text>
<text class="tk" transform="translate(19.40,197.80) scale(1,1.1)" text-anchor="end">30</text>
<text class="tk" transform="translate(19.40,209.80) scale(1,1.1)" text-anchor="end">20</text>
<text class="tk" transform="translate(19.40,221.80) scale(1,1.1)" text-anchor="end">10</text>
<text class="tk" transform="translate(19.40,233.80) scale(1,1.1)" text-anchor="end">0</text>
<text class="tk" transform="translate(19.40,245.80) scale(1,1.1)" text-anchor="end">-10</text>
<text class="tk" transform="translate(19.40,257.80) scale(1,1.1)" text-anchor="end">-20</text>
<text class="tk" transform="translate(23.30,239.30) scale(1,1.1)" text-anchor="middle">0</text>
<text class="tk" transform="translate(50.56,239.30) scale(1,1.1)" text-anchor="middle">20</text>
<text class="tk" transform="translate(77.82,239.30) scale(1,1.1)" text-anchor="middle">40</text>
<text class="tk" transform="translate(105.08,239.30) scale(1,1.1)" text-anchor="middle">60</text>
<text class="tk" transform="translate(132.34,239.30) scale(1,1.1)" text-anchor="middle">80</text>
<text class="tk" transform="translate(159.60,239.30) scale(1,1.1)" text-anchor="middle">100</text>
<text class="tt" transform="translate(94.40,142.90) scale(1,1.18)" text-anchor="middle">Sound Knee Flexion/Extension ( +ve Flex)</text>
<text class="ax" transform="translate(91.25,261.70) scale(1,1.12)" text-anchor="middle">% gait cycle</text>
<text class="ax" transform="translate(11.90,202.60) rotate(-90)" text-anchor="middle">Degrees</text>
<line x1="166.10" y1="202.20" x2="174.10" y2="202.20" stroke="#222" stroke-width="1"/>
<text class="lg" x="174.20" y="203.40">IMU</text>
<line x1="166.40" y1="208.90" x2="174.10" y2="208.90" stroke="#25b45e" stroke-width="1.1" stroke-dasharray="1.7 1.1"/>
<text class="lg" x="174.20" y="210.10">OMC</text>
</g>
<g id="panel5">
<line class="gl" x1="203.1" y1="148.00" x2="340.1" y2="148.00"/>
<line class="gl" x1="203.1" y1="160.08" x2="340.1" y2="160.08"/>
<line class="gl" x1="203.1" y1="172.16" x2="340.1" y2="172.16"/>
<line class="gl" x1="203.1" y1="184.23" x2="340.1" y2="184.23"/>
<line class="gl" x1="203.1" y1="196.31" x2="340.1" y2="196.31"/>
<line class="gl" x1="203.1" y1="208.39" x2="340.1" y2="208.39"/>
<line class="gl" x1="203.1" y1="220.47" x2="340.1" y2="220.47"/>
<line class="gl" x1="203.1" y1="232.54" x2="340.1" y2="232.54"/>
<line class="gl" x1="203.1" y1="244.62" x2="340.1" y2="244.62"/>
<line class="gl" x1="203.1" y1="256.70" x2="340.1" y2="256.70"/>
<line x1="203.1" y1="148.00" x2="203.1" y2="256.70" stroke="#bcbcbc" stroke-width=".6"/>
<clipPath id="cp5"><path d="M203.1 201.5L204 201.7L204.9 202L205.8 202.3L206.8 202.7L207.7 203.2L208.6 203.8L209.5 204.4L210.4 205.2L211.3 206L212.2 206.7L213.1 207.4L214.1 208.1L215 208.6L215.9 209.1L216.8 209.4L217.7 209.7L218.6 210L219.5 210.2L220.5 210.4L221.4 210.5L222.3 210.6L223.2 210.7L224.1 210.7L225 210.7L225.9 210.6L226.8 210.6L227.8 210.5L228.7 210.4L229.6 210.3L230.5 210.2L231.4 210.1L232.3 209.9L233.2 209.9L234.2 209.8L235.1 209.7L236 209.7L236.9 209.7L237.8 209.6L238.7 209.6L239.6 209.7L240.5 209.7L241.5 209.7L242.4 209.7L243.3 209.7L244.2 209.7L245.1 209.7L246 209.6L246.9 209.6L247.9 209.5L248.8 209.4L249.7 209.3L250.6 209.2L251.5 209.1L252.4 208.9L253.3 208.7L254.2 208.5L255.2 208.3L256.1 208.1L257 207.8L257.9 207.5L258.8 207.1L259.7 206.6L260.6 206.1L261.6 205.6L262.5 205L263.4 204.3L264.3 203.6L265.2 202.9L266.1 202.1L267 201.3L267.9 200.4L268.9 199.4L269.8 198.4L270.7 197.4L271.6 196.3L272.5 195.2L273.4 194.1L274.3 192.9L275.3 191.6L276.2 190.2L277.1 188.7L278 187.2L278.9 185.4L279.8 183.6L280.7 181.5L281.6 179.5L282.6 177.7L283.5 176.5L284.4 176.1L285.3 176.5L286.2 177.4L287.1 178.7L288 180L289 181.3L289.9 182.7L290.8 184.1L291.7 185.5L292.6 186.8L293.5 188.2L294.4 189.6L295.3 191L296.3 192.3L297.2 193.6L298.1 194.7L299 195.8L299.9 196.7L300.8 197.6L301.7 198.4L302.7 199.2L303.6 200L304.5 200.9L305.4 201.7L306.3 202.5L307.2 203.3L308.1 204.2L309 205L310 205.8L310.9 206.6L311.8 207.4L312.7 208.2L313.6 208.9L314.5 209.5L315.4 209.9L316.4 210.3L317.3 210.5L318.2 210.6L319.1 210.5L320 210.4L320.9 210.1L321.8 209.8L322.7 209.4L323.7 208.9L324.6 208.5L325.5 208L326.4 207.6L327.3 207.2L328.2 206.8L329.1 206.4L330.1 206.1L331 205.7L331.9 205.4L332.8 205.1L333.7 204.8L334.6 204.5L335.5 204.2L336.4 203.9L337.4 203.7L338.3 203.4L339.2 203.3L340.1 203.1L340.1 240.6L339.2 241.1L338.3 241.7L337.4 242.5L336.4 243.3L335.5 244L334.6 244.6L333.7 245.1L332.8 245.5L331.9 245.8L331 246.1L330.1 246.2L329.1 246.1L328.2 246L327.3 245.8L326.4 245.4L325.5 244.9L324.6 244.2L323.7 243.3L322.7 242.2L321.8 240.8L320.9 239.1L320 237.2L319.1 235.2L318.2 233.1L317.3 231L316.4 229L315.4 227.1L314.5 225.2L313.6 223.5L312.7 221.8L311.8 220.2L310.9 218.8L310 217.5L309 216.3L308.1 215.3L307.2 214.4L306.3 213.6L305.4 212.8L304.5 212.2L303.6 211.6L302.7 211.1L301.7 210.8L300.8 210.5L299.9 210.2L299 210L298.1 209.9L297.2 209.8L296.3 209.7L295.3 209.6L294.4 209.6L293.5 209.6L292.6 209.6L291.7 209.6L290.8 209.6L289.9 209.7L289 209.7L288 209.8L287.1 210L286.2 210.1L285.3 210.4L284.4 210.6L283.5 211L282.6 211.4L281.6 211.8L280.7 212.3L279.8 212.9L278.9 213.5L278 214.1L277.1 214.8L276.2 215.5L275.3 216.3L274.3 217.2L273.4 218.2L272.5 219.1L271.6 220.1L270.7 221L269.8 221.9L268.9 222.7L267.9 223.3L267 223.9L266.1 224.4L265.2 224.9L264.3 225.2L263.4 225.5L262.5 225.7L261.6 225.8L260.6 225.9L259.7 225.9L258.8 225.8L257.9 225.7L257 225.6L256.1 225.5L255.2 225.4L254.2 225.2L253.3 225.1L252.4 225L251.5 225L250.6 225L249.7 225L248.8 225L247.9 225L246.9 225L246 225.1L245.1 225.1L244.2 225.2L243.3 225.3L242.4 225.5L241.5 225.7L240.5 225.9L239.6 226.2L238.7 226.6L237.8 227L236.9 227.4L236 227.9L235.1 228.4L234.2 229L233.2 229.5L232.3 230.1L231.4 230.8L230.5 231.4L229.6 232L228.7 232.6L227.8 233.3L226.8 234L225.9 234.7L225 235.4L224.1 236L223.2 236.6L222.3 237.1L221.4 237.6L220.5 237.9L219.5 238.2L218.6 238.4L217.7 238.5L216.8 238.6L215.9 238.6L215 238.6L214.1 238.6L213.1 238.5L212.2 238.3L211.3 238.1L210.4 238L209.5 237.8L208.6 237.8L207.7 237.8L206.8 237.9L205.8 238.1L204.9 238.4L204 238.6L203.1 238.9Z"/><path d="M203.1 184.8L204 184.9L204.9 184.9L205.8 185L206.8 185L207.7 185.1L208.6 185.1L209.5 185.1L210.4 185.2L211.3 185.2L212.2 185.2L213.1 185.2L214.1 185.2L215 185.1L215.9 185.1L216.8 185L217.7 184.9L218.6 184.8L219.5 184.7L220.5 184.6L221.4 184.6L222.3 184.5L223.2 184.5L224.1 184.6L225 184.7L225.9 184.9L226.8 185L227.8 185.2L228.7 185.4L229.6 185.6L230.5 185.8L231.4 186.1L232.3 186.3L233.2 186.5L234.2 186.8L235.1 187L236 187.2L236.9 187.5L237.8 187.7L238.7 187.9L239.6 188.2L240.5 188.4L241.5 188.6L242.4 188.9L243.3 189.1L244.2 189.3L245.1 189.6L246 189.8L246.9 190.1L247.9 190.3L248.8 190.5L249.7 190.8L250.6 191L251.5 191.2L252.4 191.4L253.3 191.5L254.2 191.6L255.2 191.7L256.1 191.8L257 191.9L257.9 191.9L258.8 191.9L259.7 191.9L260.6 191.9L261.6 191.9L262.5 191.9L263.4 191.8L264.3 191.8L265.2 191.7L266.1 191.6L267 191.5L267.9 191.3L268.9 191L269.8 190.7L270.7 190.4L271.6 189.9L272.5 189.3L273.4 188.7L274.3 188L275.3 187.2L276.2 186.3L277.1 185.3L278 184.2L278.9 183.1L279.8 181.9L280.7 180.6L281.6 179.3L282.6 178L283.5 176.6L284.4 175.3L285.3 173.9L286.2 172.5L287.1 171.1L288 169.8L289 168.4L289.9 167.1L290.8 165.7L291.7 164.4L292.6 163.2L293.5 161.9L294.4 160.7L295.3 159.7L296.3 158.8L297.2 158.2L298.1 157.9L299 157.8L299.9 158L300.8 158.2L301.7 158.6L302.7 159.1L303.6 159.7L304.5 160.4L305.4 161.4L306.3 162.5L307.2 163.8L308.1 165.3L309 166.9L310 168.5L310.9 170.2L311.8 171.9L312.7 173.5L313.6 175L314.5 176.5L315.4 177.9L316.4 179.2L317.3 180.5L318.2 181.6L319.1 182.7L320 183.6L320.9 184.3L321.8 184.8L322.7 185.1L323.7 185.2L324.6 185.1L325.5 184.9L326.4 184.6L327.3 184.2L328.2 183.8L329.1 183.4L330.1 183.1L331 182.7L331.9 182.4L332.8 182.1L333.7 181.8L334.6 181.5L335.5 181.2L336.4 181L337.4 180.7L338.3 180.5L339.2 180.3L340.1 180.2L340.1 225.1L339.2 225.3L338.3 225.5L337.4 225.9L336.4 226.3L335.5 226.7L334.6 227.1L333.7 227.5L332.8 227.9L331.9 228.3L331 228.8L330.1 229.2L329.1 229.6L328.2 230L327.3 230.5L326.4 231L325.5 231.4L324.6 231.9L323.7 232.3L322.7 232.7L321.8 233L320.9 233.2L320 233.2L319.1 232.9L318.2 232.4L317.3 231.7L316.4 230.9L315.4 229.9L314.5 228.8L313.6 227.6L312.7 226.4L311.8 225.1L310.9 223.7L310 222.4L309 221L308.1 219.7L307.2 218.4L306.3 217.2L305.4 216.2L304.5 215.3L303.6 214.5L302.7 213.9L301.7 213.4L300.8 213L299.9 212.8L299 212.8L298.1 212.9L297.2 213.2L296.3 213.6L295.3 214.1L294.4 214.7L293.5 215.3L292.6 216L291.7 216.7L290.8 217.5L289.9 218.4L289 219.3L288 220.3L287.1 221.4L286.2 222.4L285.3 223.5L284.4 224.6L283.5 225.7L282.6 226.7L281.6 227.7L280.7 228.6L279.8 229.5L278.9 230.3L278 231L277.1 231.7L276.2 232.3L275.3 232.8L274.3 233.3L273.4 233.7L272.5 234L271.6 234.3L270.7 234.6L269.8 234.8L268.9 235L267.9 235.1L267 235.2L266.1 235.2L265.2 235.2L264.3 235.2L263.4 235.1L262.5 235L261.6 234.8L260.6 234.7L259.7 234.6L258.8 234.4L257.9 234.3L257 234.2L256.1 234L255.2 233.9L254.2 233.7L253.3 233.6L252.4 233.4L251.5 233.3L250.6 233.1L249.7 232.9L248.8 232.7L247.9 232.6L246.9 232.4L246 232.3L245.1 232.1L244.2 232L243.3 231.9L242.4 231.8L241.5 231.8L240.5 231.8L239.6 231.9L238.7 232L237.8 232.1L236.9 232.3L236 232.5L235.1 232.7L234.2 232.9L233.2 233.1L232.3 233.3L231.4 233.5L230.5 233.8L229.6 234L228.7 234.3L227.8 234.6L226.8 234.8L225.9 235L225 235.1L224.1 235.2L223.2 235.3L222.3 235.2L221.4 235.2L220.5 235L219.5 234.8L218.6 234.6L217.7 234.3L216.8 233.9L215.9 233.5L215 233.1L214.1 232.7L213.1 232.2L212.2 231.7L211.3 231.2L210.4 230.7L209.5 230.1L208.6 229.5L207.7 229L206.8 228.4L205.8 227.8L204.9 227.2L204 226.7L203.1 226.3Z"/></clipPath>
<path class="bi" d="M203.1 201.5L204 201.7L204.9 202L205.8 202.3L206.8 202.7L207.7 203.2L208.6 203.8L209.5 204.4L210.4 205.2L211.3 206L212.2 206.7L213.1 207.4L214.1 208.1L215 208.6L215.9 209.1L216.8 209.4L217.7 209.7L218.6 210L219.5 210.2L220.5 210.4L221.4 210.5L222.3 210.6L223.2 210.7L224.1 210.7L225 210.7L225.9 210.6L226.8 210.6L227.8 210.5L228.7 210.4L229.6 210.3L230.5 210.2L231.4 210.1L232.3 209.9L233.2 209.9L234.2 209.8L235.1 209.7L236 209.7L236.9 209.7L237.8 209.6L238.7 209.6L239.6 209.7L240.5 209.7L241.5 209.7L242.4 209.7L243.3 209.7L244.2 209.7L245.1 209.7L246 209.6L246.9 209.6L247.9 209.5L248.8 209.4L249.7 209.3L250.6 209.2L251.5 209.1L252.4 208.9L253.3 208.7L254.2 208.5L255.2 208.3L256.1 208.1L257 207.8L257.9 207.5L258.8 207.1L259.7 206.6L260.6 206.1L261.6 205.6L262.5 205L263.4 204.3L264.3 203.6L265.2 202.9L266.1 202.1L267 201.3L267.9 200.4L268.9 199.4L269.8 198.4L270.7 197.4L271.6 196.3L272.5 195.2L273.4 194.1L274.3 192.9L275.3 191.6L276.2 190.2L277.1 188.7L278 187.2L278.9 185.4L279.8 183.6L280.7 181.5L281.6 179.5L282.6 177.7L283.5 176.5L284.4 176.1L285.3 176.5L286.2 177.4L287.1 178.7L288 180L289 181.3L289.9 182.7L290.8 184.1L291.7 185.5L292.6 186.8L293.5 188.2L294.4 189.6L295.3 191L296.3 192.3L297.2 193.6L298.1 194.7L299 195.8L299.9 196.7L300.8 197.6L301.7 198.4L302.7 199.2L303.6 200L304.5 200.9L305.4 201.7L306.3 202.5L307.2 203.3L308.1 204.2L309 205L310 205.8L310.9 206.6L311.8 207.4L312.7 208.2L313.6 208.9L314.5 209.5L315.4 209.9L316.4 210.3L317.3 210.5L318.2 210.6L319.1 210.5L320 210.4L320.9 210.1L321.8 209.8L322.7 209.4L323.7 208.9L324.6 208.5L325.5 208L326.4 207.6L327.3 207.2L328.2 206.8L329.1 206.4L330.1 206.1L331 205.7L331.9 205.4L332.8 205.1L333.7 204.8L334.6 204.5L335.5 204.2L336.4 203.9L337.4 203.7L338.3 203.4L339.2 203.3L340.1 203.1L340.1 240.6L339.2 241.1L338.3 241.7L337.4 242.5L336.4 243.3L335.5 244L334.6 244.6L333.7 245.1L332.8 245.5L331.9 245.8L331 246.1L330.1 246.2L329.1 246.1L328.2 246L327.3 245.8L326.4 245.4L325.5 244.9L324.6 244.2L323.7 243.3L322.7 242.2L321.8 240.8L320.9 239.1L320 237.2L319.1 235.2L318.2 233.1L317.3 231L316.4 229L315.4 227.1L314.5 225.2L313.6 223.5L312.7 221.8L311.8 220.2L310.9 218.8L310 217.5L309 216.3L308.1 215.3L307.2 214.4L306.3 213.6L305.4 212.8L304.5 212.2L303.6 211.6L302.7 211.1L301.7 210.8L300.8 210.5L299.9 210.2L299 210L298.1 209.9L297.2 209.8L296.3 209.7L295.3 209.6L294.4 209.6L293.5 209.6L292.6 209.6L291.7 209.6L290.8 209.6L289.9 209.7L289 209.7L288 209.8L287.1 210L286.2 210.1L285.3 210.4L284.4 210.6L283.5 211L282.6 211.4L281.6 211.8L280.7 212.3L279.8 212.9L278.9 213.5L278 214.1L277.1 214.8L276.2 215.5L275.3 216.3L274.3 217.2L273.4 218.2L272.5 219.1L271.6 220.1L270.7 221L269.8 221.9L268.9 222.7L267.9 223.3L267 223.9L266.1 224.4L265.2 224.9L264.3 225.2L263.4 225.5L262.5 225.7L261.6 225.8L260.6 225.9L259.7 225.9L258.8 225.8L257.9 225.7L257 225.6L256.1 225.5L255.2 225.4L254.2 225.2L253.3 225.1L252.4 225L251.5 225L250.6 225L249.7 225L248.8 225L247.9 225L246.9 225L246 225.1L245.1 225.1L244.2 225.2L243.3 225.3L242.4 225.5L241.5 225.7L240.5 225.9L239.6 226.2L238.7 226.6L237.8 227L236.9 227.4L236 227.9L235.1 228.4L234.2 229L233.2 229.5L232.3 230.1L231.4 230.8L230.5 231.4L229.6 232L228.7 232.6L227.8 233.3L226.8 234L225.9 234.7L225 235.4L224.1 236L223.2 236.6L222.3 237.1L221.4 237.6L220.5 237.9L219.5 238.2L218.6 238.4L217.7 238.5L216.8 238.6L215.9 238.6L215 238.6L214.1 238.6L213.1 238.5L212.2 238.3L211.3 238.1L210.4 238L209.5 237.8L208.6 237.8L207.7 237.8L206.8 237.9L205.8 238.1L204.9 238.4L204 238.6L203.1 238.9Z"/>
<path class="bo" d="M203.1 184.8L204 184.9L204.9 184.9L205.8 185L206.8 185L207.7 185.1L208.6 185.1L209.5 185.1L210.4 185.2L211.3 185.2L212.2 185.2L213.1 185.2L214.1 185.2L215 185.1L215.9 185.1L216.8 185L217.7 184.9L218.6 184.8L219.5 184.7L220.5 184.6L221.4 184.6L222.3 184.5L223.2 184.5L224.1 184.6L225 184.7L225.9 184.9L226.8 185L227.8 185.2L228.7 185.4L229.6 185.6L230.5 185.8L231.4 186.1L232.3 186.3L233.2 186.5L234.2 186.8L235.1 187L236 187.2L236.9 187.5L237.8 187.7L238.7 187.9L239.6 188.2L240.5 188.4L241.5 188.6L242.4 188.9L243.3 189.1L244.2 189.3L245.1 189.6L246 189.8L246.9 190.1L247.9 190.3L248.8 190.5L249.7 190.8L250.6 191L251.5 191.2L252.4 191.4L253.3 191.5L254.2 191.6L255.2 191.7L256.1 191.8L257 191.9L257.9 191.9L258.8 191.9L259.7 191.9L260.6 191.9L261.6 191.9L262.5 191.9L263.4 191.8L264.3 191.8L265.2 191.7L266.1 191.6L267 191.5L267.9 191.3L268.9 191L269.8 190.7L270.7 190.4L271.6 189.9L272.5 189.3L273.4 188.7L274.3 188L275.3 187.2L276.2 186.3L277.1 185.3L278 184.2L278.9 183.1L279.8 181.9L280.7 180.6L281.6 179.3L282.6 178L283.5 176.6L284.4 175.3L285.3 173.9L286.2 172.5L287.1 171.1L288 169.8L289 168.4L289.9 167.1L290.8 165.7L291.7 164.4L292.6 163.2L293.5 161.9L294.4 160.7L295.3 159.7L296.3 158.8L297.2 158.2L298.1 157.9L299 157.8L299.9 158L300.8 158.2L301.7 158.6L302.7 159.1L303.6 159.7L304.5 160.4L305.4 161.4L306.3 162.5L307.2 163.8L308.1 165.3L309 166.9L310 168.5L310.9 170.2L311.8 171.9L312.7 173.5L313.6 175L314.5 176.5L315.4 177.9L316.4 179.2L317.3 180.5L318.2 181.6L319.1 182.7L320 183.6L320.9 184.3L321.8 184.8L322.7 185.1L323.7 185.2L324.6 185.1L325.5 184.9L326.4 184.6L327.3 184.2L328.2 183.8L329.1 183.4L330.1 183.1L331 182.7L331.9 182.4L332.8 182.1L333.7 181.8L334.6 181.5L335.5 181.2L336.4 181L337.4 180.7L338.3 180.5L339.2 180.3L340.1 180.2L340.1 225.1L339.2 225.3L338.3 225.5L337.4 225.9L336.4 226.3L335.5 226.7L334.6 227.1L333.7 227.5L332.8 227.9L331.9 228.3L331 228.8L330.1 229.2L329.1 229.6L328.2 230L327.3 230.5L326.4 231L325.5 231.4L324.6 231.9L323.7 232.3L322.7 232.7L321.8 233L320.9 233.2L320 233.2L319.1 232.9L318.2 232.4L317.3 231.7L316.4 230.9L315.4 229.9L314.5 228.8L313.6 227.6L312.7 226.4L311.8 225.1L310.9 223.7L310 222.4L309 221L308.1 219.7L307.2 218.4L306.3 217.2L305.4 216.2L304.5 215.3L303.6 214.5L302.7 213.9L301.7 213.4L300.8 213L299.9 212.8L299 212.8L298.1 212.9L297.2 213.2L296.3 213.6L295.3 214.1L294.4 214.7L293.5 215.3L292.6 216L291.7 216.7L290.8 217.5L289.9 218.4L289 219.3L288 220.3L287.1 221.4L286.2 222.4L285.3 223.5L284.4 224.6L283.5 225.7L282.6 226.7L281.6 227.7L280.7 228.6L279.8 229.5L278.9 230.3L278 231L277.1 231.7L276.2 232.3L275.3 232.8L274.3 233.3L273.4 233.7L272.5 234L271.6 234.3L270.7 234.6L269.8 234.8L268.9 235L267.9 235.1L267 235.2L266.1 235.2L265.2 235.2L264.3 235.2L263.4 235.1L262.5 235L261.6 234.8L260.6 234.7L259.7 234.6L258.8 234.4L257.9 234.3L257 234.2L256.1 234L255.2 233.9L254.2 233.7L253.3 233.6L252.4 233.4L251.5 233.3L250.6 233.1L249.7 232.9L248.8 232.7L247.9 232.6L246.9 232.4L246 232.3L245.1 232.1L244.2 232L243.3 231.9L242.4 231.8L241.5 231.8L240.5 231.8L239.6 231.9L238.7 232L237.8 232.1L236.9 232.3L236 232.5L235.1 232.7L234.2 232.9L233.2 233.1L232.3 233.3L231.4 233.5L230.5 233.8L229.6 234L228.7 234.3L227.8 234.6L226.8 234.8L225.9 235L225 235.1L224.1 235.2L223.2 235.3L222.3 235.2L221.4 235.2L220.5 235L219.5 234.8L218.6 234.6L217.7 234.3L216.8 233.9L215.9 233.5L215 233.1L214.1 232.7L213.1 232.2L212.2 231.7L211.3 231.2L210.4 230.7L209.5 230.1L208.6 229.5L207.7 229L206.8 228.4L205.8 227.8L204.9 227.2L204 226.7L203.1 226.3Z"/>
<path class="go" clip-path="url(#cp5)" d="M203.1 148.00H340.1M203.1 160.08H340.1M203.1 172.16H340.1M203.1 184.23H340.1M203.1 196.31H340.1M203.1 208.39H340.1M203.1 220.47H340.1M203.1 232.54H340.1M203.1 244.62H340.1M203.1 256.70H340.1"/>
<path class="si" d="M203.1 201.5L204 201.7L204.9 202L205.8 202.3L206.8 202.7L207.7 203.2L208.6 203.8L209.5 204.4L210.4 205.2L211.3 206L212.2 206.7L213.1 207.4L214.1 208.1L215 208.6L215.9 209.1L216.8 209.4L217.7 209.7L218.6 210L219.5 210.2L220.5 210.4L221.4 210.5L222.3 210.6L223.2 210.7L224.1 210.7L225 210.7L225.9 210.6L226.8 210.6L227.8 210.5L228.7 210.4L229.6 210.3L230.5 210.2L231.4 210.1L232.3 209.9L233.2 209.9L234.2 209.8L235.1 209.7L236 209.7L236.9 209.7L237.8 209.6L238.7 209.6L239.6 209.7L240.5 209.7L241.5 209.7L242.4 209.7L243.3 209.7L244.2 209.7L245.1 209.7L246 209.6L246.9 209.6L247.9 209.5L248.8 209.4L249.7 209.3L250.6 209.2L251.5 209.1L252.4 208.9L253.3 208.7L254.2 208.5L255.2 208.3L256.1 208.1L257 207.8L257.9 207.5L258.8 207.1L259.7 206.6L260.6 206.1L261.6 205.6L262.5 205L263.4 204.3L264.3 203.6L265.2 202.9L266.1 202.1L267 201.3L267.9 200.4L268.9 199.4L269.8 198.4L270.7 197.4L271.6 196.3L272.5 195.2L273.4 194.1L274.3 192.9L275.3 191.6L276.2 190.2L277.1 188.7L278 187.2L278.9 185.4L279.8 183.6L280.7 181.5L281.6 179.5L282.6 177.7L283.5 176.5L284.4 176.1L285.3 176.5L286.2 177.4L287.1 178.7L288 180L289 181.3L289.9 182.7L290.8 184.1L291.7 185.5L292.6 186.8L293.5 188.2L294.4 189.6L295.3 191L296.3 192.3L297.2 193.6L298.1 194.7L299 195.8L299.9 196.7L300.8 197.6L301.7 198.4L302.7 199.2L303.6 200L304.5 200.9L305.4 201.7L306.3 202.5L307.2 203.3L308.1 204.2L309 205L310 205.8L310.9 206.6L311.8 207.4L312.7 208.2L313.6 208.9L314.5 209.5L315.4 209.9L316.4 210.3L317.3 210.5L318.2 210.6L319.1 210.5L320 210.4L320.9 210.1L321.8 209.8L322.7 209.4L323.7 208.9L324.6 208.5L325.5 208L326.4 207.6L327.3 207.2L328.2 206.8L329.1 206.4L330.1 206.1L331 205.7L331.9 205.4L332.8 205.1L333.7 204.8L334.6 204.5L335.5 204.2L336.4 203.9L337.4 203.7L338.3 203.4L339.2 203.3L340.1 203.1" stroke-opacity=".85"/>
<path class="si" d="M203.1 238.9L204 238.6L204.9 238.4L205.8 238.1L206.8 237.9L207.7 237.8L208.6 237.8L209.5 237.8L210.4 238L211.3 238.1L212.2 238.3L213.1 238.5L214.1 238.6L215 238.6L215.9 238.6L216.8 238.6L217.7 238.5L218.6 238.4L219.5 238.2L220.5 237.9L221.4 237.6L222.3 237.1L223.2 236.6L224.1 236L225 235.4L225.9 234.7L226.8 234L227.8 233.3L228.7 232.6L229.6 232L230.5 231.4L231.4 230.8L232.3 230.1L233.2 229.5L234.2 229L235.1 228.4L236 227.9L236.9 227.4L237.8 227L238.7 226.6L239.6 226.2L240.5 225.9L241.5 225.7L242.4 225.5L243.3 225.3L244.2 225.2L245.1 225.1L246 225.1L246.9 225L247.9 225L248.8 225L249.7 225L250.6 225L251.5 225L252.4 225L253.3 225.1L254.2 225.2L255.2 225.4L256.1 225.5L257 225.6L257.9 225.7L258.8 225.8L259.7 225.9L260.6 225.9L261.6 225.8L262.5 225.7L263.4 225.5L264.3 225.2L265.2 224.9L266.1 224.4L267 223.9L267.9 223.3L268.9 222.7L269.8 221.9L270.7 221L271.6 220.1L272.5 219.1L273.4 218.2L274.3 217.2L275.3 216.3L276.2 215.5L277.1 214.8L278 214.1L278.9 213.5L279.8 212.9L280.7 212.3L281.6 211.8L282.6 211.4L283.5 211L284.4 210.6L285.3 210.4L286.2 210.1L287.1 210L288 209.8L289 209.7L289.9 209.7L290.8 209.6L291.7 209.6L292.6 209.6L293.5 209.6L294.4 209.6L295.3 209.6L296.3 209.7L297.2 209.8L298.1 209.9L299 210L299.9 210.2L300.8 210.5L301.7 210.8L302.7 211.1L303.6 211.6L304.5 212.2L305.4 212.8L306.3 213.6L307.2 214.4L308.1 215.3L309 216.3L310 217.5L310.9 218.8L311.8 220.2L312.7 221.8L313.6 223.5L314.5 225.2L315.4 227.1L316.4 229L317.3 231L318.2 233.1L319.1 235.2L320 237.2L320.9 239.1L321.8 240.8L322.7 242.2L323.7 243.3L324.6 244.2L325.5 244.9L326.4 245.4L327.3 245.8L328.2 246L329.1 246.1L330.1 246.2L331 246.1L331.9 245.8L332.8 245.5L333.7 245.1L334.6 244.6L335.5 244L336.4 243.3L337.4 242.5L338.3 241.7L339.2 241.1L340.1 240.6" stroke-opacity=".7"/>
<path class="mo" d="M203.1 204.9L204 205.1L204.9 205.5L205.8 205.9L206.8 206.3L207.7 206.6L208.6 207L209.5 207.4L210.4 207.7L211.3 208L212.2 208.3L213.1 208.6L214.1 208.9L215 209.1L215.9 209.3L216.8 209.5L217.7 209.6L218.6 209.7L219.5 209.7L220.5 209.8L221.4 209.7L222.3 209.7L223.2 209.7L224.1 209.7L225 209.6L225.9 209.6L226.8 209.6L227.8 209.7L228.7 209.7L229.6 209.8L230.5 209.8L231.4 209.9L232.3 210L233.2 210L234.2 210.1L235.1 210.2L236 210.4L236.9 210.5L237.8 210.6L238.7 210.8L239.6 211L240.5 211.2L241.5 211.3L242.4 211.5L243.3 211.7L244.2 211.9L245.1 212.1L246 212.3L246.9 212.4L247.9 212.6L248.8 212.8L249.7 213L250.6 213.2L251.5 213.4L252.4 213.5L253.3 213.7L254.2 213.9L255.2 214L256.1 214.1L257 214.1L257.9 214.1L258.8 214.1L259.7 213.9L260.6 213.8L261.6 213.6L262.5 213.5L263.4 213.3L264.3 213.1L265.2 212.9L266.1 212.6L267 212.4L267.9 212.1L268.9 211.7L269.8 211.3L270.7 210.9L271.6 210.4L272.5 209.8L273.4 209.1L274.3 208.4L275.3 207.6L276.2 206.8L277.1 205.9L278 205L278.9 204L279.8 203.1L280.7 202.1L281.6 201L282.6 200L283.5 198.9L284.4 197.9L285.3 196.8L286.2 195.7L287.1 194.6L288 193.6L289 192.6L289.9 191.6L290.8 190.7L291.7 189.8L292.6 188.9L293.5 188.1L294.4 187.4L295.3 186.7L296.3 186.2L297.2 185.7L298.1 185.5L299 185.3L299.9 185.3L300.8 185.4L301.7 185.6L302.7 186L303.6 186.5L304.5 187.2L305.4 188.1L306.3 189.2L307.2 190.5L308.1 192L309 193.5L310 195.1L310.9 196.7L311.8 198.3L312.7 199.8L313.6 201.2L314.5 202.6L315.4 204L316.4 205.3L317.3 206.5L318.2 207.5L319.1 208.3L320 208.8L320.9 209L321.8 208.9L322.7 208.5L323.7 208.1L324.6 207.7L325.5 207.2L326.4 206.8L327.3 206.4L328.2 205.9L329.1 205.5L330.1 205.1L331 204.7L331.9 204.3L332.8 203.9L333.7 203.6L334.6 203.2L335.5 202.9L336.4 202.6L337.4 202.4L338.3 202.3L339.2 202.1L340.1 202.1"/>
<path class="mi" d="M203.1 219.9L204 220.1L204.9 220.3L205.8 220.5L206.8 220.7L207.7 221L208.6 221.2L209.5 221.5L210.4 221.7L211.3 221.9L212.2 222.2L213.1 222.4L214.1 222.6L215 222.8L215.9 223L216.8 223.2L217.7 223.4L218.6 223.5L219.5 223.6L220.5 223.7L221.4 223.7L222.3 223.7L223.2 223.7L224.1 223.6L225 223.5L225.9 223.3L226.8 223.1L227.8 222.9L228.7 222.6L229.6 222.4L230.5 222.1L231.4 221.9L232.3 221.6L233.2 221.4L234.2 221.2L235.1 221L236 220.8L236.9 220.7L237.8 220.5L238.7 220.3L239.6 220.2L240.5 220L241.5 219.9L242.4 219.7L243.3 219.5L244.2 219.4L245.1 219.2L246 219.1L246.9 218.9L247.9 218.7L248.8 218.6L249.7 218.4L250.6 218.3L251.5 218.1L252.4 217.9L253.3 217.8L254.2 217.6L255.2 217.4L256.1 217.3L257 217.1L257.9 216.9L258.8 216.6L259.7 216.4L260.6 216.1L261.6 215.8L262.5 215.5L263.4 215.1L264.3 214.8L265.2 214.4L266.1 214L267 213.5L267.9 213L268.9 212.3L269.8 211.6L270.7 210.8L271.6 210L272.5 209L273.4 207.9L274.3 206.8L275.3 205.5L276.2 204.2L277.1 202.8L278 201.4L278.9 200.2L279.8 199L280.7 197.9L281.6 197L282.6 196.2L283.5 195.5L284.4 194.9L285.3 194.6L286.2 194.4L287.1 194.4L288 194.7L289 195L289.9 195.5L290.8 196L291.7 196.6L292.6 197.3L293.5 198L294.4 198.8L295.3 199.6L296.3 200.5L297.2 201.3L298.1 202L299 202.7L299.9 203.4L300.8 204L301.7 204.5L302.7 204.9L303.6 205.4L304.5 205.8L305.4 206.3L306.3 206.8L307.2 207.4L308.1 208L309 208.7L310 209.5L310.9 210.4L311.8 211.4L312.7 212.5L313.6 213.8L314.5 215.2L315.4 216.5L316.4 217.9L317.3 219.2L318.2 220.5L319.1 221.6L320 222.7L320.9 223.6L321.8 224.4L322.7 225.1L323.7 225.6L324.6 225.9L325.5 226L326.4 226L327.3 225.9L328.2 225.7L329.1 225.4L330.1 225.2L331 224.9L331.9 224.6L332.8 224.3L333.7 223.9L334.6 223.5L335.5 223.1L336.4 222.7L337.4 222.3L338.3 221.9L339.2 221.5L340.1 221.3"/>
<text class="tk" transform="translate(199.20,149.50) scale(1,1.1)" text-anchor="end">10</text>
<text class="tk" transform="translate(199.20,161.58) scale(1,1.1)" text-anchor="end">8</text>
<text class="tk" transform="translate(199.20,173.66) scale(1,1.1)" text-anchor="end">6</text>
<text class="tk" transform="translate(199.20,185.73) scale(1,1.1)" text-anchor="end">4</text>
<text class="tk" transform="translate(199.20,197.81) scale(1,1.1)" text-anchor="end">2</text>
<text class="tk" transform="translate(199.20,209.89) scale(1,1.1)" text-anchor="end">0</text>
<text class="tk" transform="translate(199.20,221.97) scale(1,1.1)" text-anchor="end">-2</text>
<text class="tk" transform="translate(199.20,234.04) scale(1,1.1)" text-anchor="end">-4</text>
<text class="tk" transform="translate(199.20,246.12) scale(1,1.1)" text-anchor="end">-6</text>
<text class="tk" transform="translate(199.20,258.20) scale(1,1.1)" text-anchor="end">-8</text>
<text class="tk" transform="translate(203.10,215.39) scale(1,1.1)" text-anchor="middle">0</text>
<text class="tk" transform="translate(230.50,215.39) scale(1,1.1)" text-anchor="middle">20</text>
<text class="tk" transform="translate(257.90,215.39) scale(1,1.1)" text-anchor="middle">40</text>
<text class="tk" transform="translate(285.30,215.39) scale(1,1.1)" text-anchor="middle">60</text>
<text class="tk" transform="translate(312.70,215.39) scale(1,1.1)" text-anchor="middle">80</text>
<text class="tk" transform="translate(340.10,215.39) scale(1,1.1)" text-anchor="middle">100</text>
<text class="tt" transform="translate(275.55,142.60) scale(1,1.18)" text-anchor="middle">Sound Knee Adduction/Abduction( +ve Adduct)</text>
<text class="ax" transform="translate(271.40,262.10) scale(1,1.12)" text-anchor="middle">% gait cycle</text>
<text class="ax" transform="translate(191.70,202.65) rotate(-90)" text-anchor="middle">Degrees</text>
<line x1="346.60" y1="202.25" x2="354.60" y2="202.25" stroke="#222" stroke-width="1"/>
<text class="lg" x="354.70" y="203.45">IMU</text>
<line x1="346.90" y1="208.95" x2="354.60" y2="208.95" stroke="#25b45e" stroke-width="1.1" stroke-dasharray="1.7 1.1"/>
<text class="lg" x="354.70" y="210.15">OMC</text>
</g>
<g id="panel6">
<line class="gl" x1="385.3" y1="148.30" x2="521.5" y2="148.30"/>
<line class="gl" x1="385.3" y1="160.38" x2="521.5" y2="160.38"/>
<line class="gl" x1="385.3" y1="172.46" x2="521.5" y2="172.46"/>
<line class="gl" x1="385.3" y1="184.53" x2="521.5" y2="184.53"/>
<line class="gl" x1="385.3" y1="196.61" x2="521.5" y2="196.61"/>
<line class="gl" x1="385.3" y1="208.69" x2="521.5" y2="208.69"/>
<line class="gl" x1="385.3" y1="220.77" x2="521.5" y2="220.77"/>
<line class="gl" x1="385.3" y1="232.84" x2="521.5" y2="232.84"/>
<line class="gl" x1="385.3" y1="244.92" x2="521.5" y2="244.92"/>
<line class="gl" x1="385.3" y1="257.00" x2="521.5" y2="257.00"/>
<line x1="385.3" y1="148.30" x2="385.3" y2="257.00" stroke="#bcbcbc" stroke-width=".6"/>
<clipPath id="cp6"><path d="M385.3 203.4L386.2 203.4L387.1 203.3L388 203.2L388.9 203L389.8 202.7L390.7 202.4L391.7 201.9L392.6 201.3L393.5 200.5L394.4 199.3L395.3 197.7L396.2 195.6L397.1 193L398 190L398.9 186.7L399.8 183.4L400.7 180.1L401.6 177L402.6 174.1L403.5 171.5L404.4 169.2L405.3 167.3L406.2 165.6L407.1 164.2L408 163.2L408.9 162.6L409.8 162.3L410.7 162.4L411.6 162.9L412.5 163.7L413.4 164.9L414.4 166.4L415.3 168.1L416.2 170L417.1 172.1L418 174.4L418.9 176.7L419.8 179L420.7 181.1L421.6 182.9L422.5 184.4L423.4 185.5L424.3 186.4L425.3 187.1L426.2 187.5L427.1 187.9L428 188.1L428.9 188.3L429.8 188.3L430.7 188.4L431.6 188.4L432.5 188.5L433.4 188.6L434.3 188.6L435.2 188.7L436.1 188.8L437.1 188.8L438 188.9L438.9 189L439.8 189L440.7 189.1L441.6 189.2L442.5 189.2L443.4 189.3L444.3 189.3L445.2 189.3L446.1 189.4L447 189.4L448 189.3L448.9 189.3L449.8 189.3L450.7 189.2L451.6 189.2L452.5 189.2L453.4 189.1L454.3 189.1L455.2 189.1L456.1 189.1L457 189.1L457.9 189.1L458.8 189.1L459.8 189.1L460.7 189.2L461.6 189.3L462.5 189.5L463.4 189.7L464.3 190L465.2 190.4L466.1 190.8L467 191.3L467.9 191.8L468.8 192.2L469.7 192.6L470.7 193.1L471.6 193.4L472.5 193.8L473.4 194.1L474.3 194.4L475.2 194.6L476.1 194.8L477 194.9L477.9 195.1L478.8 195.2L479.7 195.4L480.6 195.5L481.5 195.6L482.5 195.8L483.4 195.9L484.3 196L485.2 196.1L486.1 196.3L487 196.4L487.9 196.5L488.8 196.6L489.7 196.7L490.6 196.7L491.5 196.7L492.4 196.7L493.4 196.6L494.3 196.6L495.2 196.6L496.1 196.6L497 196.7L497.9 196.9L498.8 197.1L499.7 197.2L500.6 197.5L501.5 197.7L502.4 197.9L503.3 198.1L504.2 198.4L505.2 198.6L506.1 198.8L507 199.1L507.9 199.3L508.8 199.6L509.7 199.8L510.6 200.1L511.5 200.3L512.4 200.5L513.3 200.7L514.2 201L515.1 201.2L516.1 201.4L517 201.6L517.9 201.8L518.8 202L519.7 202.2L520.6 202.3L521.5 202.4L521.5 237.8L520.6 237.6L519.7 237.4L518.8 237.2L517.9 236.9L517 236.7L516.1 236.4L515.1 236.2L514.2 236L513.3 235.7L512.4 235.5L511.5 235.3L510.6 235.1L509.7 234.9L508.8 234.7L507.9 234.5L507 234.3L506.1 234.2L505.2 234L504.2 233.9L503.3 233.8L502.4 233.7L501.5 233.6L500.6 233.5L499.7 233.4L498.8 233.3L497.9 233.2L497 233.1L496.1 232.9L495.2 232.8L494.3 232.7L493.4 232.5L492.4 232.3L491.5 232.2L490.6 232L489.7 231.9L488.8 231.7L487.9 231.5L487 231.3L486.1 231.1L485.2 230.9L484.3 230.6L483.4 230.4L482.5 230.1L481.5 229.8L480.6 229.5L479.7 229.2L478.8 228.8L477.9 228.5L477 228.1L476.1 227.7L475.2 227.3L474.3 226.9L473.4 226.5L472.5 226L471.6 225.5L470.7 225L469.7 224.5L468.8 224L467.9 223.4L467 222.8L466.1 222.2L465.2 221.6L464.3 221L463.4 220.4L462.5 219.8L461.6 219.2L460.7 218.6L459.8 218.1L458.8 217.6L457.9 217.1L457 216.6L456.1 216.2L455.2 215.8L454.3 215.5L453.4 215.2L452.5 215L451.6 214.7L450.7 214.6L449.8 214.4L448.9 214.2L448 214.1L447 213.9L446.1 213.8L445.2 213.6L444.3 213.4L443.4 213.2L442.5 212.9L441.6 212.7L440.7 212.4L439.8 212.2L438.9 211.9L438 211.7L437.1 211.4L436.1 211.2L435.2 211L434.3 211L433.4 211.1L432.5 211.4L431.6 212L430.7 212.9L429.8 214L428.9 215.3L428 216.8L427.1 218.2L426.2 219.6L425.3 220.8L424.3 221.7L423.4 222.4L422.5 222.9L421.6 223.1L420.7 223.1L419.8 222.8L418.9 222.3L418 221.6L417.1 220.7L416.2 219.5L415.3 218.1L414.4 216.5L413.4 214.8L412.5 213.1L411.6 211.5L410.7 210.2L409.8 209.2L408.9 208.5L408 208.2L407.1 208.2L406.2 208.7L405.3 209.4L404.4 210.5L403.5 211.9L402.6 213.6L401.6 215.6L400.7 217.8L399.8 220.1L398.9 222.5L398 224.9L397.1 227.4L396.2 229.8L395.3 232.1L394.4 234.3L393.5 236.2L392.6 237.7L391.7 238.9L390.7 239.7L389.8 240.2L388.9 240.6L388 240.9L387.1 241L386.2 241L385.3 240.9Z"/><path d="M385.3 174.5L386.2 174.9L387.1 175.3L388 175.8L388.9 176.3L389.8 176.8L390.7 177.3L391.7 177.8L392.6 178.3L393.5 178.7L394.4 179.2L395.3 179.6L396.2 180.1L397.1 180.4L398 180.8L398.9 181L399.8 181.3L400.7 181.4L401.6 181.5L402.6 181.6L403.5 181.7L404.4 181.8L405.3 181.9L406.2 181.9L407.1 182L408 182L408.9 182.1L409.8 182.1L410.7 182.2L411.6 182.3L412.5 182.3L413.4 182.4L414.4 182.5L415.3 182.5L416.2 182.6L417.1 182.6L418 182.7L418.9 182.7L419.8 182.7L420.7 182.7L421.6 182.6L422.5 182.6L423.4 182.6L424.3 182.5L425.3 182.5L426.2 182.4L427.1 182.4L428 182.3L428.9 182.3L429.8 182.2L430.7 182.2L431.6 182.1L432.5 182.1L433.4 182L434.3 182L435.2 181.9L436.1 181.9L437.1 181.8L438 181.8L438.9 181.7L439.8 181.7L440.7 181.7L441.6 181.7L442.5 181.7L443.4 181.7L444.3 181.8L445.2 181.8L446.1 181.9L447 181.9L448 182L448.9 182L449.8 182.1L450.7 182.1L451.6 182.2L452.5 182.2L453.4 182.3L454.3 182.3L455.2 182.4L456.1 182.4L457 182.5L457.9 182.5L458.8 182.6L459.8 182.6L460.7 182.7L461.6 182.7L462.5 182.7L463.4 182.7L464.3 182.7L465.2 182.7L466.1 182.5L467 182.3L467.9 182L468.8 181.6L469.7 181.1L470.7 180.6L471.6 180L472.5 179.4L473.4 178.9L474.3 178.3L475.2 177.8L476.1 177.3L477 176.9L477.9 176.4L478.8 175.9L479.7 175.5L480.6 175.1L481.5 174.7L482.5 174.3L483.4 174L484.3 173.7L485.2 173.4L486.1 173.1L487 172.8L487.9 172.5L488.8 172.2L489.7 171.9L490.6 171.5L491.5 171.2L492.4 170.8L493.4 170.4L494.3 170.1L495.2 169.7L496.1 169.4L497 169L497.9 168.7L498.8 168.5L499.7 168.3L500.6 168.2L501.5 168.2L502.4 168.3L503.3 168.4L504.2 168.6L505.2 168.8L506.1 169.1L507 169.3L507.9 169.6L508.8 169.9L509.7 170.2L510.6 170.5L511.5 170.8L512.4 171.2L513.3 171.5L514.2 171.8L515.1 172.1L516.1 172.4L517 172.7L517.9 173L518.8 173.3L519.7 173.5L520.6 173.7L521.5 173.9L521.5 201L520.6 200.7L519.7 200.3L518.8 199.8L517.9 199.4L517 198.9L516.1 198.4L515.1 197.9L514.2 197.4L513.3 196.9L512.4 196.4L511.5 195.9L510.6 195.4L509.7 194.9L508.8 194.4L507.9 194L507 193.6L506.1 193.2L505.2 193L504.2 192.7L503.3 192.6L502.4 192.5L501.5 192.4L500.6 192.4L499.7 192.5L498.8 192.6L497.9 192.8L497 192.9L496.1 193.1L495.2 193.3L494.3 193.4L493.4 193.6L492.4 193.8L491.5 194L490.6 194.2L489.7 194.3L488.8 194.5L487.9 194.6L487 194.7L486.1 194.9L485.2 195L484.3 195.1L483.4 195.2L482.5 195.3L481.5 195.5L480.6 195.7L479.7 195.9L478.8 196.1L477.9 196.3L477 196.6L476.1 196.9L475.2 197.2L474.3 197.5L473.4 197.8L472.5 198.2L471.6 198.7L470.7 199.2L469.7 199.6L468.8 200L467.9 200.4L467 200.7L466.1 200.9L465.2 201.1L464.3 201.2L463.4 201.2L462.5 201.3L461.6 201.2L460.7 201.1L459.8 201L458.8 200.9L457.9 200.7L457 200.5L456.1 200.3L455.2 200.1L454.3 199.9L453.4 199.8L452.5 199.7L451.6 199.5L450.7 199.5L449.8 199.4L448.9 199.3L448 199.3L447 199.2L446.1 199.2L445.2 199.2L444.3 199.2L443.4 199.3L442.5 199.3L441.6 199.4L440.7 199.6L439.8 199.7L438.9 199.9L438 200L437.1 200.2L436.1 200.4L435.2 200.5L434.3 200.7L433.4 200.8L432.5 201L431.6 201.2L430.7 201.3L429.8 201.5L428.9 201.7L428 201.8L427.1 202L426.2 202.2L425.3 202.4L424.3 202.5L423.4 202.7L422.5 202.8L421.6 202.9L420.7 203L419.8 203.1L418.9 203.1L418 203.2L417.1 203.2L416.2 203.2L415.3 203.2L414.4 203.1L413.4 203.1L412.5 203.1L411.6 203.1L410.7 203.1L409.8 203.1L408.9 203.1L408 203.1L407.1 203.1L406.2 203.1L405.3 203.1L404.4 203.1L403.5 203.1L402.6 203.1L401.6 203L400.7 203L399.8 203L398.9 202.9L398 202.8L397.1 202.6L396.2 202.3L395.3 202.1L394.4 201.8L393.5 201.5L392.6 201.2L391.7 200.9L390.7 200.6L389.8 200.2L388.9 199.9L388 199.5L387.1 199.2L386.2 198.8L385.3 198.6Z"/></clipPath>
<path class="bi" d="M385.3 203.4L386.2 203.4L387.1 203.3L388 203.2L388.9 203L389.8 202.7L390.7 202.4L391.7 201.9L392.6 201.3L393.5 200.5L394.4 199.3L395.3 197.7L396.2 195.6L397.1 193L398 190L398.9 186.7L399.8 183.4L400.7 180.1L401.6 177L402.6 174.1L403.5 171.5L404.4 169.2L405.3 167.3L406.2 165.6L407.1 164.2L408 163.2L408.9 162.6L409.8 162.3L410.7 162.4L411.6 162.9L412.5 163.7L413.4 164.9L414.4 166.4L415.3 168.1L416.2 170L417.1 172.1L418 174.4L418.9 176.7L419.8 179L420.7 181.1L421.6 182.9L422.5 184.4L423.4 185.5L424.3 186.4L425.3 187.1L426.2 187.5L427.1 187.9L428 188.1L428.9 188.3L429.8 188.3L430.7 188.4L431.6 188.4L432.5 188.5L433.4 188.6L434.3 188.6L435.2 188.7L436.1 188.8L437.1 188.8L438 188.9L438.9 189L439.8 189L440.7 189.1L441.6 189.2L442.5 189.2L443.4 189.3L444.3 189.3L445.2 189.3L446.1 189.4L447 189.4L448 189.3L448.9 189.3L449.8 189.3L450.7 189.2L451.6 189.2L452.5 189.2L453.4 189.1L454.3 189.1L455.2 189.1L456.1 189.1L457 189.1L457.9 189.1L458.8 189.1L459.8 189.1L460.7 189.2L461.6 189.3L462.5 189.5L463.4 189.7L464.3 190L465.2 190.4L466.1 190.8L467 191.3L467.9 191.8L468.8 192.2L469.7 192.6L470.7 193.1L471.6 193.4L472.5 193.8L473.4 194.1L474.3 194.4L475.2 194.6L476.1 194.8L477 194.9L477.9 195.1L478.8 195.2L479.7 195.4L480.6 195.5L481.5 195.6L482.5 195.8L483.4 195.9L484.3 196L485.2 196.1L486.1 196.3L487 196.4L487.9 196.5L488.8 196.6L489.7 196.7L490.6 196.7L491.5 196.7L492.4 196.7L493.4 196.6L494.3 196.6L495.2 196.6L496.1 196.6L497 196.7L497.9 196.9L498.8 197.1L499.7 197.2L500.6 197.5L501.5 197.7L502.4 197.9L503.3 198.1L504.2 198.4L505.2 198.6L506.1 198.8L507 199.1L507.9 199.3L508.8 199.6L509.7 199.8L510.6 200.1L511.5 200.3L512.4 200.5L513.3 200.7L514.2 201L515.1 201.2L516.1 201.4L517 201.6L517.9 201.8L518.8 202L519.7 202.2L520.6 202.3L521.5 202.4L521.5 237.8L520.6 237.6L519.7 237.4L518.8 237.2L517.9 236.9L517 236.7L516.1 236.4L515.1 236.2L514.2 236L513.3 235.7L512.4 235.5L511.5 235.3L510.6 235.1L509.7 234.9L508.8 234.7L507.9 234.5L507 234.3L506.1 234.2L505.2 234L504.2 233.9L503.3 233.8L502.4 233.7L501.5 233.6L500.6 233.5L499.7 233.4L498.8 233.3L497.9 233.2L497 233.1L496.1 232.9L495.2 232.8L494.3 232.7L493.4 232.5L492.4 232.3L491.5 232.2L490.6 232L489.7 231.9L488.8 231.7L487.9 231.5L487 231.3L486.1 231.1L485.2 230.9L484.3 230.6L483.4 230.4L482.5 230.1L481.5 229.8L480.6 229.5L479.7 229.2L478.8 228.8L477.9 228.5L477 228.1L476.1 227.7L475.2 227.3L474.3 226.9L473.4 226.5L472.5 226L471.6 225.5L470.7 225L469.7 224.5L468.8 224L467.9 223.4L467 222.8L466.1 222.2L465.2 221.6L464.3 221L463.4 220.4L462.5 219.8L461.6 219.2L460.7 218.6L459.8 218.1L458.8 217.6L457.9 217.1L457 216.6L456.1 216.2L455.2 215.8L454.3 215.5L453.4 215.2L452.5 215L451.6 214.7L450.7 214.6L449.8 214.4L448.9 214.2L448 214.1L447 213.9L446.1 213.8L445.2 213.6L444.3 213.4L443.4 213.2L442.5 212.9L441.6 212.7L440.7 212.4L439.8 212.2L438.9 211.9L438 211.7L437.1 211.4L436.1 211.2L435.2 211L434.3 211L433.4 211.1L432.5 211.4L431.6 212L430.7 212.9L429.8 214L428.9 215.3L428 216.8L427.1 218.2L426.2 219.6L425.3 220.8L424.3 221.7L423.4 222.4L422.5 222.9L421.6 223.1L420.7 223.1L419.8 222.8L418.9 222.3L418 221.6L417.1 220.7L416.2 219.5L415.3 218.1L414.4 216.5L413.4 214.8L412.5 213.1L411.6 211.5L410.7 210.2L409.8 209.2L408.9 208.5L408 208.2L407.1 208.2L406.2 208.7L405.3 209.4L404.4 210.5L403.5 211.9L402.6 213.6L401.6 215.6L400.7 217.8L399.8 220.1L398.9 222.5L398 224.9L397.1 227.4L396.2 229.8L395.3 232.1L394.4 234.3L393.5 236.2L392.6 237.7L391.7 238.9L390.7 239.7L389.8 240.2L388.9 240.6L388 240.9L387.1 241L386.2 241L385.3 240.9Z"/>
<path class="bo" d="M385.3 174.5L386.2 174.9L387.1 175.3L388 175.8L388.9 176.3L389.8 176.8L390.7 177.3L391.7 177.8L392.6 178.3L393.5 178.7L394.4 179.2L395.3 179.6L396.2 180.1L397.1 180.4L398 180.8L398.9 181L399.8 181.3L400.7 181.4L401.6 181.5L402.6 181.6L403.5 181.7L404.4 181.8L405.3 181.9L406.2 181.9L407.1 182L408 182L408.9 182.1L409.8 182.1L410.7 182.2L411.6 182.3L412.5 182.3L413.4 182.4L414.4 182.5L415.3 182.5L416.2 182.6L417.1 182.6L418 182.7L418.9 182.7L419.8 182.7L420.7 182.7L421.6 182.6L422.5 182.6L423.4 182.6L424.3 182.5L425.3 182.5L426.2 182.4L427.1 182.4L428 182.3L428.9 182.3L429.8 182.2L430.7 182.2L431.6 182.1L432.5 182.1L433.4 182L434.3 182L435.2 181.9L436.1 181.9L437.1 181.8L438 181.8L438.9 181.7L439.8 181.7L440.7 181.7L441.6 181.7L442.5 181.7L443.4 181.7L444.3 181.8L445.2 181.8L446.1 181.9L447 181.9L448 182L448.9 182L449.8 182.1L450.7 182.1L451.6 182.2L452.5 182.2L453.4 182.3L454.3 182.3L455.2 182.4L456.1 182.4L457 182.5L457.9 182.5L458.8 182.6L459.8 182.6L460.7 182.7L461.6 182.7L462.5 182.7L463.4 182.7L464.3 182.7L465.2 182.7L466.1 182.5L467 182.3L467.9 182L468.8 181.6L469.7 181.1L470.7 180.6L471.6 180L472.5 179.4L473.4 178.9L474.3 178.3L475.2 177.8L476.1 177.3L477 176.9L477.9 176.4L478.8 175.9L479.7 175.5L480.6 175.1L481.5 174.7L482.5 174.3L483.4 174L484.3 173.7L485.2 173.4L486.1 173.1L487 172.8L487.9 172.5L488.8 172.2L489.7 171.9L490.6 171.5L491.5 171.2L492.4 170.8L493.4 170.4L494.3 170.1L495.2 169.7L496.1 169.4L497 169L497.9 168.7L498.8 168.5L499.7 168.3L500.6 168.2L501.5 168.2L502.4 168.3L503.3 168.4L504.2 168.6L505.2 168.8L506.1 169.1L507 169.3L507.9 169.6L508.8 169.9L509.7 170.2L510.6 170.5L511.5 170.8L512.4 171.2L513.3 171.5L514.2 171.8L515.1 172.1L516.1 172.4L517 172.7L517.9 173L518.8 173.3L519.7 173.5L520.6 173.7L521.5 173.9L521.5 201L520.6 200.7L519.7 200.3L518.8 199.8L517.9 199.4L517 198.9L516.1 198.4L515.1 197.9L514.2 197.4L513.3 196.9L512.4 196.4L511.5 195.9L510.6 195.4L509.7 194.9L508.8 194.4L507.9 194L507 193.6L506.1 193.2L505.2 193L504.2 192.7L503.3 192.6L502.4 192.5L501.5 192.4L500.6 192.4L499.7 192.5L498.8 192.6L497.9 192.8L497 192.9L496.1 193.1L495.2 193.3L494.3 193.4L493.4 193.6L492.4 193.8L491.5 194L490.6 194.2L489.7 194.3L488.8 194.5L487.9 194.6L487 194.7L486.1 194.9L485.2 195L484.3 195.1L483.4 195.2L482.5 195.3L481.5 195.5L480.6 195.7L479.7 195.9L478.8 196.1L477.9 196.3L477 196.6L476.1 196.9L475.2 197.2L474.3 197.5L473.4 197.8L472.5 198.2L471.6 198.7L470.7 199.2L469.7 199.6L468.8 200L467.9 200.4L467 200.7L466.1 200.9L465.2 201.1L464.3 201.2L463.4 201.2L462.5 201.3L461.6 201.2L460.7 201.1L459.8 201L458.8 200.9L457.9 200.7L457 200.5L456.1 200.3L455.2 200.1L454.3 199.9L453.4 199.8L452.5 199.7L451.6 199.5L450.7 199.5L449.8 199.4L448.9 199.3L448 199.3L447 199.2L446.1 199.2L445.2 199.2L444.3 199.2L443.4 199.3L442.5 199.3L441.6 199.4L440.7 199.6L439.8 199.7L438.9 199.9L438 200L437.1 200.2L436.1 200.4L435.2 200.5L434.3 200.7L433.4 200.8L432.5 201L431.6 201.2L430.7 201.3L429.8 201.5L428.9 201.7L428 201.8L427.1 202L426.2 202.2L425.3 202.4L424.3 202.5L423.4 202.7L422.5 202.8L421.6 202.9L420.7 203L419.8 203.1L418.9 203.1L418 203.2L417.1 203.2L416.2 203.2L415.3 203.2L414.4 203.1L413.4 203.1L412.5 203.1L411.6 203.1L410.7 203.1L409.8 203.1L408.9 203.1L408 203.1L407.1 203.1L406.2 203.1L405.3 203.1L404.4 203.1L403.5 203.1L402.6 203.1L401.6 203L400.7 203L399.8 203L398.9 202.9L398 202.8L397.1 202.6L396.2 202.3L395.3 202.1L394.4 201.8L393.5 201.5L392.6 201.2L391.7 200.9L390.7 200.6L389.8 200.2L388.9 199.9L388 199.5L387.1 199.2L386.2 198.8L385.3 198.6Z"/>
<path class="go" clip-path="url(#cp6)" d="M385.3 148.30H521.5M385.3 160.38H521.5M385.3 172.46H521.5M385.3 184.53H521.5M385.3 196.61H521.5M385.3 208.69H521.5M385.3 220.77H521.5M385.3 232.84H521.5M385.3 244.92H521.5M385.3 257.00H521.5"/>
<path class="si" d="M385.3 203.4L386.2 203.4L387.1 203.3L388 203.2L388.9 203L389.8 202.7L390.7 202.4L391.7 201.9L392.6 201.3L393.5 200.5L394.4 199.3L395.3 197.7L396.2 195.6L397.1 193L398 190L398.9 186.7L399.8 183.4L400.7 180.1L401.6 177L402.6 174.1L403.5 171.5L404.4 169.2L405.3 167.3L406.2 165.6L407.1 164.2L408 163.2L408.9 162.6L409.8 162.3L410.7 162.4L411.6 162.9L412.5 163.7L413.4 164.9L414.4 166.4L415.3 168.1L416.2 170L417.1 172.1L418 174.4L418.9 176.7L419.8 179L420.7 181.1L421.6 182.9L422.5 184.4L423.4 185.5L424.3 186.4L425.3 187.1L426.2 187.5L427.1 187.9L428 188.1L428.9 188.3L429.8 188.3L430.7 188.4L431.6 188.4L432.5 188.5L433.4 188.6L434.3 188.6L435.2 188.7L436.1 188.8L437.1 188.8L438 188.9L438.9 189L439.8 189L440.7 189.1L441.6 189.2L442.5 189.2L443.4 189.3L444.3 189.3L445.2 189.3L446.1 189.4L447 189.4L448 189.3L448.9 189.3L449.8 189.3L450.7 189.2L451.6 189.2L452.5 189.2L453.4 189.1L454.3 189.1L455.2 189.1L456.1 189.1L457 189.1L457.9 189.1L458.8 189.1L459.8 189.1L460.7 189.2L461.6 189.3L462.5 189.5L463.4 189.7L464.3 190L465.2 190.4L466.1 190.8L467 191.3L467.9 191.8L468.8 192.2L469.7 192.6L470.7 193.1L471.6 193.4L472.5 193.8L473.4 194.1L474.3 194.4L475.2 194.6L476.1 194.8L477 194.9L477.9 195.1L478.8 195.2L479.7 195.4L480.6 195.5L481.5 195.6L482.5 195.8L483.4 195.9L484.3 196L485.2 196.1L486.1 196.3L487 196.4L487.9 196.5L488.8 196.6L489.7 196.7L490.6 196.7L491.5 196.7L492.4 196.7L493.4 196.6L494.3 196.6L495.2 196.6L496.1 196.6L497 196.7L497.9 196.9L498.8 197.1L499.7 197.2L500.6 197.5L501.5 197.7L502.4 197.9L503.3 198.1L504.2 198.4L505.2 198.6L506.1 198.8L507 199.1L507.9 199.3L508.8 199.6L509.7 199.8L510.6 200.1L511.5 200.3L512.4 200.5L513.3 200.7L514.2 201L515.1 201.2L516.1 201.4L517 201.6L517.9 201.8L518.8 202L519.7 202.2L520.6 202.3L521.5 202.4" stroke-opacity=".85"/>
<path class="si" d="M385.3 240.9L386.2 241L387.1 241L388 240.9L388.9 240.6L389.8 240.2L390.7 239.7L391.7 238.9L392.6 237.7L393.5 236.2L394.4 234.3L395.3 232.1L396.2 229.8L397.1 227.4L398 224.9L398.9 222.5L399.8 220.1L400.7 217.8L401.6 215.6L402.6 213.6L403.5 211.9L404.4 210.5L405.3 209.4L406.2 208.7L407.1 208.2L408 208.2L408.9 208.5L409.8 209.2L410.7 210.2L411.6 211.5L412.5 213.1L413.4 214.8L414.4 216.5L415.3 218.1L416.2 219.5L417.1 220.7L418 221.6L418.9 222.3L419.8 222.8L420.7 223.1L421.6 223.1L422.5 222.9L423.4 222.4L424.3 221.7L425.3 220.8L426.2 219.6L427.1 218.2L428 216.8L428.9 215.3L429.8 214L430.7 212.9L431.6 212L432.5 211.4L433.4 211.1L434.3 211L435.2 211L436.1 211.2L437.1 211.4L438 211.7L438.9 211.9L439.8 212.2L440.7 212.4L441.6 212.7L442.5 212.9L443.4 213.2L444.3 213.4L445.2 213.6L446.1 213.8L447 213.9L448 214.1L448.9 214.2L449.8 214.4L450.7 214.6L451.6 214.7L452.5 215L453.4 215.2L454.3 215.5L455.2 215.8L456.1 216.2L457 216.6L457.9 217.1L458.8 217.6L459.8 218.1L460.7 218.6L461.6 219.2L462.5 219.8L463.4 220.4L464.3 221L465.2 221.6L466.1 222.2L467 222.8L467.9 223.4L468.8 224L469.7 224.5L470.7 225L471.6 225.5L472.5 226L473.4 226.5L474.3 226.9L475.2 227.3L476.1 227.7L477 228.1L477.9 228.5L478.8 228.8L479.7 229.2L480.6 229.5L481.5 229.8L482.5 230.1L483.4 230.4L484.3 230.6L485.2 230.9L486.1 231.1L487 231.3L487.9 231.5L488.8 231.7L489.7 231.9L490.6 232L491.5 232.2L492.4 232.3L493.4 232.5L494.3 232.7L495.2 232.8L496.1 232.9L497 233.1L497.9 233.2L498.8 233.3L499.7 233.4L500.6 233.5L501.5 233.6L502.4 233.7L503.3 233.8L504.2 233.9L505.2 234L506.1 234.2L507 234.3L507.9 234.5L508.8 234.7L509.7 234.9L510.6 235.1L511.5 235.3L512.4 235.5L513.3 235.7L514.2 236L515.1 236.2L516.1 236.4L517 236.7L517.9 236.9L518.8 237.2L519.7 237.4L520.6 237.6L521.5 237.8" stroke-opacity=".7"/>
<path class="mo" d="M385.3 186.5L386.2 186.8L387.1 187.2L388 187.6L388.9 188.1L389.8 188.5L390.7 189L391.7 189.4L392.6 189.7L393.5 190.1L394.4 190.4L395.3 190.7L396.2 191L397.1 191.3L398 191.5L398.9 191.6L399.8 191.8L400.7 191.8L401.6 191.9L402.6 191.9L403.5 191.9L404.4 191.9L405.3 191.9L406.2 191.9L407.1 191.9L408 191.8L408.9 191.8L409.8 191.9L410.7 191.9L411.6 191.9L412.5 192L413.4 192L414.4 192.1L415.3 192.2L416.2 192.2L417.1 192.3L418 192.3L418.9 192.3L419.8 192.3L420.7 192.3L421.6 192.3L422.5 192.2L423.4 192.1L424.3 192L425.3 191.9L426.2 191.7L427.1 191.6L428 191.5L428.9 191.3L429.8 191.2L430.7 191.1L431.6 191L432.5 190.9L433.4 190.9L434.3 190.8L435.2 190.7L436.1 190.6L437.1 190.6L438 190.5L438.9 190.4L439.8 190.4L440.7 190.4L441.6 190.3L442.5 190.3L443.4 190.3L444.3 190.3L445.2 190.3L446.1 190.3L447 190.4L448 190.4L448.9 190.5L449.8 190.5L450.7 190.6L451.6 190.6L452.5 190.7L453.4 190.8L454.3 190.9L455.2 191L456.1 191.2L457 191.3L457.9 191.4L458.8 191.5L459.8 191.7L460.7 191.8L461.6 191.8L462.5 191.8L463.4 191.8L464.3 191.8L465.2 191.7L466.1 191.5L467 191.3L467.9 190.9L468.8 190.6L469.7 190.1L470.7 189.6L471.6 189.1L472.5 188.7L473.4 188.2L474.3 187.8L475.2 187.4L476.1 187.1L477 186.8L477.9 186.5L478.8 186.2L479.7 185.9L480.6 185.6L481.5 185.3L482.5 185.1L483.4 184.9L484.3 184.7L485.2 184.4L486.1 184.2L487 184L487.9 183.8L488.8 183.6L489.7 183.4L490.6 183.1L491.5 182.8L492.4 182.5L493.4 182.2L494.3 181.9L495.2 181.6L496.1 181.3L497 181L497.9 180.7L498.8 180.5L499.7 180.4L500.6 180.3L501.5 180.4L502.4 180.6L503.3 180.9L504.2 181.2L505.2 181.5L506.1 181.9L507 182.3L507.9 182.7L508.8 183L509.7 183.4L510.6 183.7L511.5 184.1L512.4 184.4L513.3 184.7L514.2 185.1L515.1 185.4L516.1 185.7L517 186L517.9 186.2L518.8 186.4L519.7 186.6L520.6 186.8L521.5 186.9"/>
<path class="mi" d="M385.3 222.3L386.2 222.3L387.1 222.3L388 222.2L388.9 222L389.8 221.7L390.7 221.2L391.7 220.6L392.6 219.6L393.5 218.2L394.4 216.3L395.3 214L396.2 211.4L397.1 208.6L398 205.6L398.9 202.7L399.8 199.7L400.7 196.8L401.6 194.1L402.6 191.6L403.5 189.6L404.4 187.9L405.3 186.7L406.2 185.8L407.1 185.3L408 185.1L408.9 185.3L409.8 185.7L410.7 186.4L411.6 187.3L412.5 188.5L413.4 189.7L414.4 191.1L415.3 192.4L416.2 193.8L417.1 195.1L418 196.3L418.9 197.5L419.8 198.7L420.7 199.7L421.6 200.7L422.5 201.5L423.4 202L424.3 202.4L425.3 202.4L426.2 202.2L427.1 201.8L428 201.4L428.9 200.9L429.8 200.3L430.7 199.7L431.6 199.2L432.5 198.8L433.4 198.5L434.3 198.5L435.2 198.6L436.1 198.8L437.1 199.1L438 199.3L438.9 199.6L439.8 199.8L440.7 200L441.6 200.2L442.5 200.4L443.4 200.6L444.3 200.8L445.2 201L446.1 201.2L447 201.4L448 201.5L448.9 201.5L449.8 201.6L450.7 201.6L451.6 201.6L452.5 201.6L453.4 201.7L454.3 201.7L455.2 201.9L456.1 202.1L457 202.3L457.9 202.6L458.8 202.9L459.8 203.2L460.7 203.6L461.6 204L462.5 204.4L463.4 204.8L464.3 205.3L465.2 205.7L466.1 206.2L467 206.7L467.9 207.1L468.8 207.6L469.7 208.1L470.7 208.5L471.6 208.8L472.5 209.2L473.4 209.5L474.3 209.8L475.2 210.1L476.1 210.4L477 210.7L477.9 211L478.8 211.3L479.7 211.6L480.6 211.9L481.5 212.1L482.5 212.4L483.4 212.7L484.3 213L485.2 213.3L486.1 213.5L487 213.8L487.9 214.1L488.8 214.4L489.7 214.6L490.6 214.9L491.5 215.1L492.4 215.4L493.4 215.6L494.3 215.9L495.2 216.1L496.1 216.3L497 216.5L497.9 216.7L498.8 217L499.7 217.2L500.6 217.4L501.5 217.7L502.4 217.9L503.3 218.1L504.2 218.4L505.2 218.6L506.1 218.9L507 219.1L507.9 219.3L508.8 219.6L509.7 219.8L510.6 220.1L511.5 220.3L512.4 220.5L513.3 220.8L514.2 221L515.1 221.2L516.1 221.5L517 221.7L517.9 222L518.8 222.2L519.7 222.4L520.6 222.6L521.5 222.8"/>
<text class="tk" transform="translate(381.40,149.80) scale(1,1.1)" text-anchor="end">20</text>
<text class="tk" transform="translate(381.40,161.88) scale(1,1.1)" text-anchor="end">15</text>
<text class="tk" transform="translate(381.40,173.96) scale(1,1.1)" text-anchor="end">10</text>
<text class="tk" transform="translate(381.40,186.03) scale(1,1.1)" text-anchor="end">5</text>
<text class="tk" transform="translate(381.40,198.11) scale(1,1.1)" text-anchor="end">0</text>
<text class="tk" transform="translate(381.40,210.19) scale(1,1.1)" text-anchor="end">-5</text>
<text class="tk" transform="translate(381.40,222.27) scale(1,1.1)" text-anchor="end">-10</text>
<text class="tk" transform="translate(381.40,234.34) scale(1,1.1)" text-anchor="end">-15</text>
<text class="tk" transform="translate(381.40,246.42) scale(1,1.1)" text-anchor="end">-20</text>
<text class="tk" transform="translate(381.40,258.50) scale(1,1.1)" text-anchor="end">-25</text>
<text class="tk" transform="translate(385.30,203.61) scale(1,1.1)" text-anchor="middle">0</text>
<text class="tk" transform="translate(412.54,203.61) scale(1,1.1)" text-anchor="middle">20</text>
<text class="tk" transform="translate(439.78,203.61) scale(1,1.1)" text-anchor="middle">40</text>
<text class="tk" transform="translate(467.02,203.61) scale(1,1.1)" text-anchor="middle">60</text>
<text class="tk" transform="translate(494.26,203.61) scale(1,1.1)" text-anchor="middle">80</text>
<text class="tk" transform="translate(521.50,203.61) scale(1,1.1)" text-anchor="middle">100</text>
<text class="tt" transform="translate(456.45,142.90) scale(1,1.18)" text-anchor="middle">Sound Knee Rotation ( +ve Internal)</text>
<text class="ax" transform="translate(453.20,262.40) scale(1,1.12)" text-anchor="middle">% gait cycle</text>
<text class="ax" transform="translate(373.90,202.95) rotate(-90)" text-anchor="middle">Degrees</text>
<line x1="527.90" y1="202.55" x2="535.90" y2="202.55" stroke="#222" stroke-width="1"/>
<text class="lg" x="536.00" y="203.75">IMU</text>
<line x1="528.20" y1="209.25" x2="535.90" y2="209.25" stroke="#25b45e" stroke-width="1.1" stroke-dasharray="1.7 1.1"/>
<text class="lg" x="536.00" y="210.45">OMC</text>
</g>
<g id="panel7">
<line class="gl" x1="23.3" y1="279.60" x2="159.6" y2="279.60"/>
<line class="gl" x1="23.3" y1="295.23" x2="159.6" y2="295.23"/>
<line class="gl" x1="23.3" y1="310.86" x2="159.6" y2="310.86"/>
<line class="gl" x1="23.3" y1="326.49" x2="159.6" y2="326.49"/>
<line class="gl" x1="23.3" y1="342.11" x2="159.6" y2="342.11"/>
<line class="gl" x1="23.3" y1="357.74" x2="159.6" y2="357.74"/>
<line class="gl" x1="23.3" y1="373.37" x2="159.6" y2="373.37"/>
<line class="gl" x1="23.3" y1="389.00" x2="159.6" y2="389.00"/>
<line x1="23.3" y1="279.60" x2="23.3" y2="389.00" stroke="#bcbcbc" stroke-width=".6"/>
<clipPath id="cp7"><path d="M23.3 326.5L24.2 327.2L25.1 328L26 328.8L26.9 329.6L27.8 330.4L28.8 331L29.7 331.6L30.6 332.1L31.5 332.5L32.4 332.8L33.3 332.9L34.2 332.8L35.1 332.6L36 332.3L36.9 331.8L37.8 331.4L38.7 330.9L39.7 330.5L40.6 330L41.5 329.7L42.4 329.3L43.3 328.9L44.2 328.6L45.1 328.2L46 327.9L46.9 327.6L47.8 327.4L48.7 327.1L49.7 326.9L50.6 326.7L51.5 326.4L52.4 326.2L53.3 326L54.2 325.7L55.1 325.5L56 325.3L56.9 325L57.8 324.8L58.7 324.5L59.6 324.2L60.6 324L61.5 323.6L62.4 323.3L63.3 322.9L64.2 322.4L65.1 321.9L66 321.4L66.9 320.9L67.8 320.3L68.7 319.7L69.6 319.2L70.6 318.6L71.5 318L72.4 317.4L73.3 316.8L74.2 316.1L75.1 315.5L76 314.9L76.9 314.3L77.8 313.6L78.7 313L79.6 312.4L80.5 311.9L81.5 311.5L82.4 311.2L83.3 311L84.2 310.9L85.1 310.9L86 310.9L86.9 311L87.8 311.2L88.7 311.5L89.6 312L90.5 312.8L91.4 313.8L92.4 315.1L93.3 316.6L94.2 318.3L95.1 320.1L96 321.9L96.9 323.9L97.8 325.9L98.7 328L99.6 330.2L100.5 332.3L101.4 334.4L102.4 336.6L103.3 338.7L104.2 340.8L105.1 342.7L106 344.6L106.9 346.3L107.8 347.7L108.7 349L109.6 350.1L110.5 350.9L111.4 351.5L112.3 351.8L113.3 351.9L114.2 351.7L115.1 351.3L116 350.6L116.9 349.6L117.8 348.2L118.7 346.6L119.6 344.7L120.5 342.6L121.4 340.5L122.3 338.2L123.3 336L124.2 333.8L125.1 331.7L126 329.8L126.9 328L127.8 326.4L128.7 325L129.6 323.7L130.5 322.6L131.4 321.6L132.3 320.8L133.2 320.2L134.2 319.7L135.1 319.3L136 319.1L136.9 318.9L137.8 318.8L138.7 318.7L139.6 318.8L140.5 318.9L141.4 319L142.3 319.2L143.2 319.4L144.2 319.6L145.1 319.8L146 320L146.9 320.1L147.8 320.2L148.7 320.3L149.6 320.5L150.5 320.6L151.4 320.7L152.3 320.8L153.2 320.9L154.1 321L155.1 321.1L156 321.2L156.9 321.4L157.8 321.6L158.7 321.9L159.6 322.1L159.6 336.9L158.7 336.7L157.8 336.4L156.9 336.2L156 336L155.1 336L154.1 336.1L153.2 336.3L152.3 336.5L151.4 336.8L150.5 337L149.6 337.1L148.7 337.2L147.8 337.3L146.9 337.4L146 337.4L145.1 337.3L144.2 337.2L143.2 337.1L142.3 337L141.4 336.9L140.5 336.8L139.6 336.7L138.7 336.5L137.8 336.4L136.9 336.3L136 336.3L135.1 336.3L134.2 336.4L133.2 336.8L132.3 337.4L131.4 338.1L130.5 339.1L129.6 340.4L128.7 342.1L127.8 344L126.9 346.3L126 348.7L125.1 351.1L124.2 353.5L123.3 355.8L122.3 358.1L121.4 360.2L120.5 362.3L119.6 364.1L118.7 365.7L117.8 367.1L116.9 368.3L116 369.2L115.1 369.7L114.2 369.9L113.3 369.6L112.3 368.9L111.4 367.8L110.5 366.5L109.6 365.1L108.7 363.7L107.8 362.2L106.9 360.7L106 359L105.1 357.1L104.2 355.1L103.3 352.8L102.4 350.5L101.4 348.1L100.5 345.7L99.6 343.4L98.7 341.1L97.8 338.8L96.9 336.5L96 334.1L95.1 331.8L94.2 329.5L93.3 327.4L92.4 325.6L91.4 324L90.5 322.8L89.6 321.9L88.7 321.2L87.8 320.8L86.9 320.5L86 320.4L85.1 320.3L84.2 320.4L83.3 320.5L82.4 320.6L81.5 320.9L80.5 321.3L79.6 321.8L78.7 322.4L77.8 323L76.9 323.7L76 324.3L75.1 324.9L74.2 325.6L73.3 326.2L72.4 326.7L71.5 327.3L70.6 327.9L69.6 328.5L68.7 329L67.8 329.5L66.9 330L66 330.5L65.1 330.9L64.2 331.2L63.3 331.6L62.4 331.9L61.5 332.1L60.6 332.4L59.6 332.6L58.7 332.8L57.8 333L56.9 333.2L56 333.3L55.1 333.5L54.2 333.7L53.3 333.9L52.4 334.1L51.5 334.3L50.6 334.6L49.7 334.9L48.7 335.2L47.8 335.6L46.9 336L46 336.5L45.1 337.1L44.2 337.7L43.3 338.3L42.4 338.9L41.5 339.5L40.6 340.1L39.7 340.7L38.7 341.3L37.8 341.8L36.9 342.4L36 342.8L35.1 343.2L34.2 343.5L33.3 343.6L32.4 343.5L31.5 343.2L30.6 342.9L29.7 342.5L28.8 342.1L27.8 341.6L26.9 341L26 340.4L25.1 339.7L24.2 339.1L23.3 338.6Z"/><path d="M23.3 310L24.2 310.9L25.1 312L26 313.2L26.9 314.4L27.8 315.6L28.8 316.7L29.7 317.7L30.6 318.6L31.5 319.4L32.4 320.1L33.3 320.7L34.2 321.1L35.1 321.2L36 321.2L36.9 321L37.8 320.6L38.7 320.2L39.7 319.7L40.6 319.2L41.5 318.7L42.4 318.3L43.3 317.8L44.2 317.4L45.1 317L46 316.6L46.9 316.2L47.8 315.8L48.7 315.4L49.7 315.1L50.6 314.7L51.5 314.4L52.4 314.1L53.3 313.9L54.2 313.6L55.1 313.4L56 313.2L56.9 313L57.8 312.7L58.7 312.4L59.6 312.1L60.6 311.7L61.5 311.2L62.4 310.8L63.3 310.4L64.2 309.9L65.1 309.5L66 309L66.9 308.5L67.8 308.1L68.7 307.6L69.6 307.2L70.6 306.7L71.5 306.3L72.4 305.8L73.3 305.4L74.2 304.9L75.1 304.5L76 304L76.9 303.5L77.8 303.1L78.7 302.6L79.6 302.2L80.5 301.7L81.5 301.3L82.4 300.9L83.3 300.6L84.2 300.2L85.1 299.9L86 299.7L86.9 299.4L87.8 299.2L88.7 299L89.6 298.9L90.5 298.9L91.4 298.9L92.4 299.1L93.3 299.4L94.2 299.8L95.1 300.3L96 301.1L96.9 302.1L97.8 303.3L98.7 304.8L99.6 306.5L100.5 308.4L101.4 310.5L102.4 312.8L103.3 315.2L104.2 317.6L105.1 320L106 322.5L106.9 324.9L107.8 327.2L108.7 329.5L109.6 331.6L110.5 333.4L111.4 334.9L112.3 336.1L113.3 336.9L114.2 337.4L115.1 337.5L116 337.4L116.9 336.9L117.8 336.1L118.7 335L119.6 333.6L120.5 332L121.4 330.2L122.3 328.4L123.3 326.5L124.2 324.6L125.1 322.7L126 320.8L126.9 319L127.8 317.4L128.7 316L129.6 314.8L130.5 313.8L131.4 313L132.3 312.3L133.2 311.7L134.2 311.2L135.1 310.8L136 310.5L136.9 310.2L137.8 310L138.7 309.9L139.6 309.7L140.5 309.6L141.4 309.4L142.3 309.3L143.2 309.1L144.2 308.9L145.1 308.7L146 308.5L146.9 308.3L147.8 308.1L148.7 307.9L149.6 307.7L150.5 307.5L151.4 307.3L152.3 307.1L153.2 306.9L154.1 306.8L155.1 306.7L156 306.7L156.9 306.8L157.8 307.1L158.7 307.3L159.6 307.6L159.6 329.7L158.7 329.7L157.8 329.7L156.9 329.8L156 329.8L155.1 329.8L154.1 329.9L153.2 329.9L152.3 330L151.4 330L150.5 330.1L149.6 330.1L148.7 330.2L147.8 330.3L146.9 330.4L146 330.5L145.1 330.6L144.2 330.7L143.2 330.8L142.3 331L141.4 331.1L140.5 331.3L139.6 331.4L138.7 331.6L137.8 331.9L136.9 332.2L136 332.6L135.1 333L134.2 333.5L133.2 334.1L132.3 334.8L131.4 335.8L130.5 337L129.6 338.4L128.7 340L127.8 341.9L126.9 344L126 346.3L125.1 348.7L124.2 351L123.3 353.4L122.3 355.6L121.4 357.8L120.5 359.7L119.6 361.5L118.7 363.1L117.8 364.5L116.9 365.7L116 366.6L115.1 367.4L114.2 367.8L113.3 367.9L112.3 367.6L111.4 367L110.5 366L109.6 364.6L108.7 363.1L107.8 361.3L106.9 359.4L106 357.3L105.1 354.9L104.2 352.5L103.3 349.8L102.4 347.2L101.4 344.4L100.5 341.7L99.6 339L98.7 336.3L97.8 333.8L96.9 331.4L96 329.2L95.1 327.2L94.2 325.5L93.3 324.2L92.4 323.1L91.4 322.2L90.5 321.6L89.6 321.2L88.7 320.9L87.8 320.7L86.9 320.6L86 320.6L85.1 320.7L84.2 320.8L83.3 320.9L82.4 321.1L81.5 321.3L80.5 321.5L79.6 321.8L78.7 322L77.8 322.3L76.9 322.6L76 322.9L75.1 323.2L74.2 323.4L73.3 323.7L72.4 324L71.5 324.2L70.6 324.4L69.6 324.7L68.7 324.9L67.8 325.1L66.9 325.4L66 325.6L65.1 325.8L64.2 326L63.3 326.3L62.4 326.5L61.5 326.7L60.6 326.9L59.6 327.2L58.7 327.4L57.8 327.6L56.9 327.8L56 328L55.1 328.2L54.2 328.4L53.3 328.7L52.4 328.9L51.5 329.2L50.6 329.5L49.7 329.8L48.7 330.1L47.8 330.5L46.9 330.8L46 331.2L45.1 331.6L44.2 332L43.3 332.3L42.4 332.7L41.5 333.1L40.6 333.4L39.7 333.8L38.7 334.2L37.8 334.5L36.9 334.8L36 335.1L35.1 335.2L34.2 335.2L33.3 335.1L32.4 334.8L31.5 334.5L30.6 334.1L29.7 333.7L28.8 333.2L27.8 332.6L26.9 332L26 331.3L25.1 330.6L24.2 329.9L23.3 329.5Z"/></clipPath>
<path class="bi" d="M23.3 326.5L24.2 327.2L25.1 328L26 328.8L26.9 329.6L27.8 330.4L28.8 331L29.7 331.6L30.6 332.1L31.5 332.5L32.4 332.8L33.3 332.9L34.2 332.8L35.1 332.6L36 332.3L36.9 331.8L37.8 331.4L38.7 330.9L39.7 330.5L40.6 330L41.5 329.7L42.4 329.3L43.3 328.9L44.2 328.6L45.1 328.2L46 327.9L46.9 327.6L47.8 327.4L48.7 327.1L49.7 326.9L50.6 326.7L51.5 326.4L52.4 326.2L53.3 326L54.2 325.7L55.1 325.5L56 325.3L56.9 325L57.8 324.8L58.7 324.5L59.6 324.2L60.6 324L61.5 323.6L62.4 323.3L63.3 322.9L64.2 322.4L65.1 321.9L66 321.4L66.9 320.9L67.8 320.3L68.7 319.7L69.6 319.2L70.6 318.6L71.5 318L72.4 317.4L73.3 316.8L74.2 316.1L75.1 315.5L76 314.9L76.9 314.3L77.8 313.6L78.7 313L79.6 312.4L80.5 311.9L81.5 311.5L82.4 311.2L83.3 311L84.2 310.9L85.1 310.9L86 310.9L86.9 311L87.8 311.2L88.7 311.5L89.6 312L90.5 312.8L91.4 313.8L92.4 315.1L93.3 316.6L94.2 318.3L95.1 320.1L96 321.9L96.9 323.9L97.8 325.9L98.7 328L99.6 330.2L100.5 332.3L101.4 334.4L102.4 336.6L103.3 338.7L104.2 340.8L105.1 342.7L106 344.6L106.9 346.3L107.8 347.7L108.7 349L109.6 350.1L110.5 350.9L111.4 351.5L112.3 351.8L113.3 351.9L114.2 351.7L115.1 351.3L116 350.6L116.9 349.6L117.8 348.2L118.7 346.6L119.6 344.7L120.5 342.6L121.4 340.5L122.3 338.2L123.3 336L124.2 333.8L125.1 331.7L126 329.8L126.9 328L127.8 326.4L128.7 325L129.6 323.7L130.5 322.6L131.4 321.6L132.3 320.8L133.2 320.2L134.2 319.7L135.1 319.3L136 319.1L136.9 318.9L137.8 318.8L138.7 318.7L139.6 318.8L140.5 318.9L141.4 319L142.3 319.2L143.2 319.4L144.2 319.6L145.1 319.8L146 320L146.9 320.1L147.8 320.2L148.7 320.3L149.6 320.5L150.5 320.6L151.4 320.7L152.3 320.8L153.2 320.9L154.1 321L155.1 321.1L156 321.2L156.9 321.4L157.8 321.6L158.7 321.9L159.6 322.1L159.6 336.9L158.7 336.7L157.8 336.4L156.9 336.2L156 336L155.1 336L154.1 336.1L153.2 336.3L152.3 336.5L151.4 336.8L150.5 337L149.6 337.1L148.7 337.2L147.8 337.3L146.9 337.4L146 337.4L145.1 337.3L144.2 337.2L143.2 337.1L142.3 337L141.4 336.9L140.5 336.8L139.6 336.7L138.7 336.5L137.8 336.4L136.9 336.3L136 336.3L135.1 336.3L134.2 336.4L133.2 336.8L132.3 337.4L131.4 338.1L130.5 339.1L129.6 340.4L128.7 342.1L127.8 344L126.9 346.3L126 348.7L125.1 351.1L124.2 353.5L123.3 355.8L122.3 358.1L121.4 360.2L120.5 362.3L119.6 364.1L118.7 365.7L117.8 367.1L116.9 368.3L116 369.2L115.1 369.7L114.2 369.9L113.3 369.6L112.3 368.9L111.4 367.8L110.5 366.5L109.6 365.1L108.7 363.7L107.8 362.2L106.9 360.7L106 359L105.1 357.1L104.2 355.1L103.3 352.8L102.4 350.5L101.4 348.1L100.5 345.7L99.6 343.4L98.7 341.1L97.8 338.8L96.9 336.5L96 334.1L95.1 331.8L94.2 329.5L93.3 327.4L92.4 325.6L91.4 324L90.5 322.8L89.6 321.9L88.7 321.2L87.8 320.8L86.9 320.5L86 320.4L85.1 320.3L84.2 320.4L83.3 320.5L82.4 320.6L81.5 320.9L80.5 321.3L79.6 321.8L78.7 322.4L77.8 323L76.9 323.7L76 324.3L75.1 324.9L74.2 325.6L73.3 326.2L72.4 326.7L71.5 327.3L70.6 327.9L69.6 328.5L68.7 329L67.8 329.5L66.9 330L66 330.5L65.1 330.9L64.2 331.2L63.3 331.6L62.4 331.9L61.5 332.1L60.6 332.4L59.6 332.6L58.7 332.8L57.8 333L56.9 333.2L56 333.3L55.1 333.5L54.2 333.7L53.3 333.9L52.4 334.1L51.5 334.3L50.6 334.6L49.7 334.9L48.7 335.2L47.8 335.6L46.9 336L46 336.5L45.1 337.1L44.2 337.7L43.3 338.3L42.4 338.9L41.5 339.5L40.6 340.1L39.7 340.7L38.7 341.3L37.8 341.8L36.9 342.4L36 342.8L35.1 343.2L34.2 343.5L33.3 343.6L32.4 343.5L31.5 343.2L30.6 342.9L29.7 342.5L28.8 342.1L27.8 341.6L26.9 341L26 340.4L25.1 339.7L24.2 339.1L23.3 338.6Z"/>
<path class="bo" d="M23.3 310L24.2 310.9L25.1 312L26 313.2L26.9 314.4L27.8 315.6L28.8 316.7L29.7 317.7L30.6 318.6L31.5 319.4L32.4 320.1L33.3 320.7L34.2 321.1L35.1 321.2L36 321.2L36.9 321L37.8 320.6L38.7 320.2L39.7 319.7L40.6 319.2L41.5 318.7L42.4 318.3L43.3 317.8L44.2 317.4L45.1 317L46 316.6L46.9 316.2L47.8 315.8L48.7 315.4L49.7 315.1L50.6 314.7L51.5 314.4L52.4 314.1L53.3 313.9L54.2 313.6L55.1 313.4L56 313.2L56.9 313L57.8 312.7L58.7 312.4L59.6 312.1L60.6 311.7L61.5 311.2L62.4 310.8L63.3 310.4L64.2 309.9L65.1 309.5L66 309L66.9 308.5L67.8 308.1L68.7 307.6L69.6 307.2L70.6 306.7L71.5 306.3L72.4 305.8L73.3 305.4L74.2 304.9L75.1 304.5L76 304L76.9 303.5L77.8 303.1L78.7 302.6L79.6 302.2L80.5 301.7L81.5 301.3L82.4 300.9L83.3 300.6L84.2 300.2L85.1 299.9L86 299.7L86.9 299.4L87.8 299.2L88.7 299L89.6 298.9L90.5 298.9L91.4 298.9L92.4 299.1L93.3 299.4L94.2 299.8L95.1 300.3L96 301.1L96.9 302.1L97.8 303.3L98.7 304.8L99.6 306.5L100.5 308.4L101.4 310.5L102.4 312.8L103.3 315.2L104.2 317.6L105.1 320L106 322.5L106.9 324.9L107.8 327.2L108.7 329.5L109.6 331.6L110.5 333.4L111.4 334.9L112.3 336.1L113.3 336.9L114.2 337.4L115.1 337.5L116 337.4L116.9 336.9L117.8 336.1L118.7 335L119.6 333.6L120.5 332L121.4 330.2L122.3 328.4L123.3 326.5L124.2 324.6L125.1 322.7L126 320.8L126.9 319L127.8 317.4L128.7 316L129.6 314.8L130.5 313.8L131.4 313L132.3 312.3L133.2 311.7L134.2 311.2L135.1 310.8L136 310.5L136.9 310.2L137.8 310L138.7 309.9L139.6 309.7L140.5 309.6L141.4 309.4L142.3 309.3L143.2 309.1L144.2 308.9L145.1 308.7L146 308.5L146.9 308.3L147.8 308.1L148.7 307.9L149.6 307.7L150.5 307.5L151.4 307.3L152.3 307.1L153.2 306.9L154.1 306.8L155.1 306.7L156 306.7L156.9 306.8L157.8 307.1L158.7 307.3L159.6 307.6L159.6 329.7L158.7 329.7L157.8 329.7L156.9 329.8L156 329.8L155.1 329.8L154.1 329.9L153.2 329.9L152.3 330L151.4 330L150.5 330.1L149.6 330.1L148.7 330.2L147.8 330.3L146.9 330.4L146 330.5L145.1 330.6L144.2 330.7L143.2 330.8L142.3 331L141.4 331.1L140.5 331.3L139.6 331.4L138.7 331.6L137.8 331.9L136.9 332.2L136 332.6L135.1 333L134.2 333.5L133.2 334.1L132.3 334.8L131.4 335.8L130.5 337L129.6 338.4L128.7 340L127.8 341.9L126.9 344L126 346.3L125.1 348.7L124.2 351L123.3 353.4L122.3 355.6L121.4 357.8L120.5 359.7L119.6 361.5L118.7 363.1L117.8 364.5L116.9 365.7L116 366.6L115.1 367.4L114.2 367.8L113.3 367.9L112.3 367.6L111.4 367L110.5 366L109.6 364.6L108.7 363.1L107.8 361.3L106.9 359.4L106 357.3L105.1 354.9L104.2 352.5L103.3 349.8L102.4 347.2L101.4 344.4L100.5 341.7L99.6 339L98.7 336.3L97.8 333.8L96.9 331.4L96 329.2L95.1 327.2L94.2 325.5L93.3 324.2L92.4 323.1L91.4 322.2L90.5 321.6L89.6 321.2L88.7 320.9L87.8 320.7L86.9 320.6L86 320.6L85.1 320.7L84.2 320.8L83.3 320.9L82.4 321.1L81.5 321.3L80.5 321.5L79.6 321.8L78.7 322L77.8 322.3L76.9 322.6L76 322.9L75.1 323.2L74.2 323.4L73.3 323.7L72.4 324L71.5 324.2L70.6 324.4L69.6 324.7L68.7 324.9L67.8 325.1L66.9 325.4L66 325.6L65.1 325.8L64.2 326L63.3 326.3L62.4 326.5L61.5 326.7L60.6 326.9L59.6 327.2L58.7 327.4L57.8 327.6L56.9 327.8L56 328L55.1 328.2L54.2 328.4L53.3 328.7L52.4 328.9L51.5 329.2L50.6 329.5L49.7 329.8L48.7 330.1L47.8 330.5L46.9 330.8L46 331.2L45.1 331.6L44.2 332L43.3 332.3L42.4 332.7L41.5 333.1L40.6 333.4L39.7 333.8L38.7 334.2L37.8 334.5L36.9 334.8L36 335.1L35.1 335.2L34.2 335.2L33.3 335.1L32.4 334.8L31.5 334.5L30.6 334.1L29.7 333.7L28.8 333.2L27.8 332.6L26.9 332L26 331.3L25.1 330.6L24.2 329.9L23.3 329.5Z"/>
<path class="go" clip-path="url(#cp7)" d="M23.3 279.60H159.6M23.3 295.23H159.6M23.3 310.86H159.6M23.3 326.49H159.6M23.3 342.11H159.6M23.3 357.74H159.6M23.3 373.37H159.6M23.3 389.00H159.6"/>
<path class="si" d="M23.3 326.5L24.2 327.2L25.1 328L26 328.8L26.9 329.6L27.8 330.4L28.8 331L29.7 331.6L30.6 332.1L31.5 332.5L32.4 332.8L33.3 332.9L34.2 332.8L35.1 332.6L36 332.3L36.9 331.8L37.8 331.4L38.7 330.9L39.7 330.5L40.6 330L41.5 329.7L42.4 329.3L43.3 328.9L44.2 328.6L45.1 328.2L46 327.9L46.9 327.6L47.8 327.4L48.7 327.1L49.7 326.9L50.6 326.7L51.5 326.4L52.4 326.2L53.3 326L54.2 325.7L55.1 325.5L56 325.3L56.9 325L57.8 324.8L58.7 324.5L59.6 324.2L60.6 324L61.5 323.6L62.4 323.3L63.3 322.9L64.2 322.4L65.1 321.9L66 321.4L66.9 320.9L67.8 320.3L68.7 319.7L69.6 319.2L70.6 318.6L71.5 318L72.4 317.4L73.3 316.8L74.2 316.1L75.1 315.5L76 314.9L76.9 314.3L77.8 313.6L78.7 313L79.6 312.4L80.5 311.9L81.5 311.5L82.4 311.2L83.3 311L84.2 310.9L85.1 310.9L86 310.9L86.9 311L87.8 311.2L88.7 311.5L89.6 312L90.5 312.8L91.4 313.8L92.4 315.1L93.3 316.6L94.2 318.3L95.1 320.1L96 321.9L96.9 323.9L97.8 325.9L98.7 328L99.6 330.2L100.5 332.3L101.4 334.4L102.4 336.6L103.3 338.7L104.2 340.8L105.1 342.7L106 344.6L106.9 346.3L107.8 347.7L108.7 349L109.6 350.1L110.5 350.9L111.4 351.5L112.3 351.8L113.3 351.9L114.2 351.7L115.1 351.3L116 350.6L116.9 349.6L117.8 348.2L118.7 346.6L119.6 344.7L120.5 342.6L121.4 340.5L122.3 338.2L123.3 336L124.2 333.8L125.1 331.7L126 329.8L126.9 328L127.8 326.4L128.7 325L129.6 323.7L130.5 322.6L131.4 321.6L132.3 320.8L133.2 320.2L134.2 319.7L135.1 319.3L136 319.1L136.9 318.9L137.8 318.8L138.7 318.7L139.6 318.8L140.5 318.9L141.4 319L142.3 319.2L143.2 319.4L144.2 319.6L145.1 319.8L146 320L146.9 320.1L147.8 320.2L148.7 320.3L149.6 320.5L150.5 320.6L151.4 320.7L152.3 320.8L153.2 320.9L154.1 321L155.1 321.1L156 321.2L156.9 321.4L157.8 321.6L158.7 321.9L159.6 322.1" stroke-opacity=".85"/>
<path class="si" d="M23.3 338.6L24.2 339.1L25.1 339.7L26 340.4L26.9 341L27.8 341.6L28.8 342.1L29.7 342.5L30.6 342.9L31.5 343.2L32.4 343.5L33.3 343.6L34.2 343.5L35.1 343.2L36 342.8L36.9 342.4L37.8 341.8L38.7 341.3L39.7 340.7L40.6 340.1L41.5 339.5L42.4 338.9L43.3 338.3L44.2 337.7L45.1 337.1L46 336.5L46.9 336L47.8 335.6L48.7 335.2L49.7 334.9L50.6 334.6L51.5 334.3L52.4 334.1L53.3 333.9L54.2 333.7L55.1 333.5L56 333.3L56.9 333.2L57.8 333L58.7 332.8L59.6 332.6L60.6 332.4L61.5 332.1L62.4 331.9L63.3 331.6L64.2 331.2L65.1 330.9L66 330.5L66.9 330L67.8 329.5L68.7 329L69.6 328.5L70.6 327.9L71.5 327.3L72.4 326.7L73.3 326.2L74.2 325.6L75.1 324.9L76 324.3L76.9 323.7L77.8 323L78.7 322.4L79.6 321.8L80.5 321.3L81.5 320.9L82.4 320.6L83.3 320.5L84.2 320.4L85.1 320.3L86 320.4L86.9 320.5L87.8 320.8L88.7 321.2L89.6 321.9L90.5 322.8L91.4 324L92.4 325.6L93.3 327.4L94.2 329.5L95.1 331.8L96 334.1L96.9 336.5L97.8 338.8L98.7 341.1L99.6 343.4L100.5 345.7L101.4 348.1L102.4 350.5L103.3 352.8L104.2 355.1L105.1 357.1L106 359L106.9 360.7L107.8 362.2L108.7 363.7L109.6 365.1L110.5 366.5L111.4 367.8L112.3 368.9L113.3 369.6L114.2 369.9L115.1 369.7L116 369.2L116.9 368.3L117.8 367.1L118.7 365.7L119.6 364.1L120.5 362.3L121.4 360.2L122.3 358.1L123.3 355.8L124.2 353.5L125.1 351.1L126 348.7L126.9 346.3L127.8 344L128.7 342.1L129.6 340.4L130.5 339.1L131.4 338.1L132.3 337.4L133.2 336.8L134.2 336.4L135.1 336.3L136 336.3L136.9 336.3L137.8 336.4L138.7 336.5L139.6 336.7L140.5 336.8L141.4 336.9L142.3 337L143.2 337.1L144.2 337.2L145.1 337.3L146 337.4L146.9 337.4L147.8 337.3L148.7 337.2L149.6 337.1L150.5 337L151.4 336.8L152.3 336.5L153.2 336.3L154.1 336.1L155.1 336L156 336L156.9 336.2L157.8 336.4L158.7 336.7L159.6 336.9" stroke-opacity=".7"/>
<path class="mo" d="M23.3 320L24.2 320.7L25.1 321.7L26 322.6L26.9 323.6L27.8 324.4L28.8 325.2L29.7 325.8L30.6 326.4L31.5 326.8L32.4 327.2L33.3 327.5L34.2 327.7L35.1 327.7L36 327.6L36.9 327.4L37.8 327.1L38.7 326.7L39.7 326.3L40.6 325.9L41.5 325.5L42.4 325.1L43.3 324.7L44.2 324.3L45.1 324L46 323.6L46.9 323.2L47.8 322.9L48.7 322.5L49.7 322.2L50.6 321.9L51.5 321.6L52.4 321.3L53.3 321.1L54.2 320.9L55.1 320.7L56 320.5L56.9 320.3L57.8 320.1L58.7 319.9L59.6 319.6L60.6 319.3L61.5 319L62.4 318.7L63.3 318.3L64.2 318L65.1 317.6L66 317.3L66.9 317L67.8 316.6L68.7 316.3L69.6 315.9L70.6 315.6L71.5 315.2L72.4 314.9L73.3 314.6L74.2 314.2L75.1 313.9L76 313.5L76.9 313.2L77.8 312.9L78.7 312.5L79.6 312.2L80.5 311.9L81.5 311.6L82.4 311.3L83.3 311L84.2 310.9L85.1 310.7L86 310.6L86.9 310.5L87.8 310.5L88.7 310.5L89.6 310.7L90.5 310.9L91.4 311.2L92.4 311.7L93.3 312.3L94.2 313.1L95.1 314L96 315.2L96.9 316.6L97.8 318.1L98.7 319.9L99.6 322L100.5 324.2L101.4 326.5L102.4 328.9L103.3 331.3L104.2 333.7L105.1 336.1L106 338.5L106.9 340.9L107.8 343.1L108.7 345L109.6 346.6L110.5 347.9L111.4 348.8L112.3 349.5L113.3 349.9L114.2 350.1L115.1 350L116 349.8L116.9 349.2L117.8 348.4L118.7 347.3L119.6 345.9L120.5 344.4L121.4 342.8L122.3 341.1L123.3 339.3L124.2 337.5L125.1 335.7L126 333.9L126.9 332.2L127.8 330.6L128.7 329L129.6 327.6L130.5 326.4L131.4 325.2L132.3 324.1L133.2 323.2L134.2 322.3L135.1 321.7L136 321.1L136.9 320.8L137.8 320.5L138.7 320.3L139.6 320.1L140.5 320L141.4 319.8L142.3 319.7L143.2 319.5L144.2 319.4L145.1 319.2L146 319.1L146.9 318.9L147.8 318.8L148.7 318.6L149.6 318.5L150.5 318.3L151.4 318.2L152.3 318L153.2 317.8L154.1 317.7L155.1 317.5L156 317.4L156.9 317.4L157.8 317.5L158.7 317.7L159.6 317.8"/>
<path class="mi" d="M23.3 331.9L24.2 332.5L25.1 333.3L26 334.2L26.9 334.9L27.8 335.6L28.8 336.1L29.7 336.6L30.6 337L31.5 337.3L32.4 337.5L33.3 337.6L34.2 337.5L35.1 337.2L36 336.8L36.9 336.4L37.8 335.9L38.7 335.5L39.7 335L40.6 334.6L41.5 334.2L42.4 333.7L43.3 333.3L44.2 332.9L45.1 332.6L46 332.3L46.9 332L47.8 331.8L48.7 331.5L49.7 331.3L50.6 331.1L51.5 330.9L52.4 330.7L53.3 330.5L54.2 330.3L55.1 330.1L56 329.9L56.9 329.7L57.8 329.5L58.7 329.3L59.6 329.1L60.6 328.8L61.5 328.5L62.4 328.1L63.3 327.7L64.2 327.3L65.1 326.8L66 326.3L66.9 325.7L67.8 325.2L68.7 324.6L69.6 324L70.6 323.4L71.5 322.8L72.4 322.2L73.3 321.6L74.2 321L75.1 320.4L76 319.9L76.9 319.3L77.8 318.7L78.7 318.2L79.6 317.7L80.5 317.2L81.5 316.9L82.4 316.6L83.3 316.4L84.2 316.3L85.1 316.3L86 316.3L86.9 316.5L87.8 316.7L88.7 317.1L89.6 317.6L90.5 318.3L91.4 319.1L92.4 320.1L93.3 321.3L94.2 322.6L95.1 324L96 325.5L96.9 327.3L97.8 329.3L98.7 331.5L99.6 333.9L100.5 336.3L101.4 338.8L102.4 341.2L103.3 343.6L104.2 345.9L105.1 348.1L106 350.1L106.9 351.8L107.8 353.3L108.7 354.6L109.6 355.7L110.5 356.5L111.4 357.1L112.3 357.4L113.3 357.5L114.2 357.3L115.1 356.9L116 356.2L116.9 355.2L117.8 353.9L118.7 352.3L119.6 350.5L120.5 348.6L121.4 346.6L122.3 344.5L123.3 342.4L124.2 340.4L125.1 338.5L126 336.9L126.9 335.4L127.8 334.2L128.7 333L129.6 332.1L130.5 331.2L131.4 330.4L132.3 329.8L133.2 329.2L134.2 328.8L135.1 328.5L136 328.2L136.9 328.1L137.8 328L138.7 328L139.6 328.1L140.5 328.3L141.4 328.5L142.3 328.7L143.2 328.9L144.2 329L145.1 329.1L146 329L146.9 328.9L147.8 328.7L148.7 328.5L149.6 328.3L150.5 328L151.4 327.7L152.3 327.4L153.2 327.2L154.1 327.1L155.1 327.2L156 327.3L156.9 327.6L157.8 327.9L158.7 328.2L159.6 328.5"/>
<text class="tk" transform="translate(19.40,281.10) scale(1,1.1)" text-anchor="end">30</text>
<text class="tk" transform="translate(19.40,296.73) scale(1,1.1)" text-anchor="end">20</text>
<text class="tk" transform="translate(19.40,312.36) scale(1,1.1)" text-anchor="end">10</text>
<text class="tk" transform="translate(19.40,327.99) scale(1,1.1)" text-anchor="end">0</text>
<text class="tk" transform="translate(19.40,343.61) scale(1,1.1)" text-anchor="end">-10</text>
<text class="tk" transform="translate(19.40,359.24) scale(1,1.1)" text-anchor="end">-20</text>
<text class="tk" transform="translate(19.40,374.87) scale(1,1.1)" text-anchor="end">-30</text>
<text class="tk" transform="translate(19.40,390.50) scale(1,1.1)" text-anchor="end">-40</text>
<text class="tk" transform="translate(23.30,333.49) scale(1,1.1)" text-anchor="middle">0</text>
<text class="tk" transform="translate(50.56,333.49) scale(1,1.1)" text-anchor="middle">20</text>
<text class="tk" transform="translate(77.82,333.49) scale(1,1.1)" text-anchor="middle">40</text>
<text class="tk" transform="translate(105.08,333.49) scale(1,1.1)" text-anchor="middle">60</text>
<text class="tk" transform="translate(132.34,333.49) scale(1,1.1)" text-anchor="middle">80</text>
<text class="tk" transform="translate(159.60,333.49) scale(1,1.1)" text-anchor="middle">100</text>
<text class="tt" transform="translate(94.40,274.20) scale(1,1.18)" text-anchor="middle">Sound Ankle Dorsi/Plantar ( +ve Dorsi)</text>
<text class="ax" transform="translate(91.25,394.40) scale(1,1.12)" text-anchor="middle">% gait cycle</text>
<text class="ax" transform="translate(11.90,334.60) rotate(-90)" text-anchor="middle">Degrees</text>
<line x1="166.10" y1="334.20" x2="174.10" y2="334.20" stroke="#222" stroke-width="1"/>
<text class="lg" x="174.20" y="335.40">IMU</text>
<line x1="166.40" y1="340.90" x2="174.10" y2="340.90" stroke="#25b45e" stroke-width="1.1" stroke-dasharray="1.7 1.1"/>
<text class="lg" x="174.20" y="342.10">OMC</text>
</g>
<g id="panel8">
<line class="gl" x1="204.7" y1="279.60" x2="340.1" y2="279.60"/>
<line class="gl" x1="204.7" y1="293.28" x2="340.1" y2="293.28"/>
<line class="gl" x1="204.7" y1="306.95" x2="340.1" y2="306.95"/>
<line class="gl" x1="204.7" y1="320.62" x2="340.1" y2="320.62"/>
<line class="gl" x1="204.7" y1="334.30" x2="340.1" y2="334.30"/>
<line class="gl" x1="204.7" y1="347.98" x2="340.1" y2="347.98"/>
<line class="gl" x1="204.7" y1="361.65" x2="340.1" y2="361.65"/>
<line class="gl" x1="204.7" y1="375.32" x2="340.1" y2="375.32"/>
<line class="gl" x1="204.7" y1="389.00" x2="340.1" y2="389.00"/>
<line x1="204.7" y1="279.60" x2="204.7" y2="389.00" stroke="#bcbcbc" stroke-width=".6"/>
<clipPath id="cp8"><path d="M204.7 344.3L205.6 343.7L206.5 342.8L207.4 341.7L208.3 340.4L209.2 339L210.1 337.5L211 335.9L211.9 334.4L212.8 332.8L213.7 331.2L214.6 329.6L215.5 328L216.4 326.5L217.3 324.9L218.2 323.4L219.1 322L220 320.8L220.9 319.7L221.9 318.9L222.8 318.2L223.7 317.7L224.6 317.3L225.5 317L226.4 317L227.3 317L228.2 317.3L229.1 317.8L230 318.5L230.9 319.3L231.8 320.4L232.7 321.7L233.6 323.2L234.5 324.8L235.4 326.6L236.3 328.5L237.2 330.4L238.1 332.4L239 334.3L239.9 336.3L240.8 338.2L241.7 340.1L242.6 341.8L243.5 343.3L244.4 344.4L245.3 345.2L246.2 345.5L247.1 345.4L248 344.9L248.9 344.1L249.8 342.9L250.7 341.5L251.6 340.1L252.5 338.6L253.4 337.2L254.3 335.9L255.2 334.6L256.2 333.5L257.1 332.4L258 331.5L258.9 330.6L259.8 329.9L260.7 329.3L261.6 328.8L262.5 328.4L263.4 328.1L264.3 327.9L265.2 327.9L266.1 328.1L267 328.5L267.9 329L268.8 329.6L269.7 330.3L270.6 331.1L271.5 331.9L272.4 332.7L273.3 333.6L274.2 334.5L275.1 335.4L276 336.3L276.9 337.2L277.8 338L278.7 338.8L279.6 339.5L280.5 340.1L281.4 340.6L282.3 341L283.2 341.4L284.1 341.7L285 342L285.9 342.3L286.8 342.5L287.7 342.8L288.6 343L289.6 343.2L290.5 343.3L291.4 343.4L292.3 343.5L293.2 343.5L294.1 343.5L295 343.5L295.9 343.5L296.8 343.5L297.7 343.5L298.6 343.5L299.5 343.5L300.4 343.5L301.3 343.5L302.2 343.4L303.1 343.4L304 343.3L304.9 343.2L305.8 343.1L306.7 343L307.6 343L308.5 343L309.4 343L310.3 343.1L311.2 343.1L312.1 343.3L313 343.4L313.9 343.6L314.8 343.7L315.7 343.9L316.6 344.1L317.5 344.3L318.4 344.5L319.3 344.7L320.2 345L321.1 345.2L322 345.4L322.9 345.6L323.9 345.8L324.8 346L325.7 346.2L326.6 346.4L327.5 346.5L328.4 346.7L329.3 346.8L330.2 347L331.1 347.1L332 347.2L332.9 347.3L333.8 347.4L334.7 347.4L335.6 347.4L336.5 347.4L337.4 347.4L338.3 347.4L339.2 347.3L340.1 347.3L340.1 351.2L339.2 351.3L338.3 351.5L337.4 351.7L336.5 351.9L335.6 352.2L334.7 352.4L333.8 352.7L332.9 353L332 353.3L331.1 353.6L330.2 353.9L329.3 354.2L328.4 354.5L327.5 354.8L326.6 355.1L325.7 355.4L324.8 355.7L323.9 355.9L322.9 356.2L322 356.4L321.1 356.6L320.2 356.8L319.3 357L318.4 357.1L317.5 357.2L316.6 357.3L315.7 357.3L314.8 357.4L313.9 357.4L313 357.4L312.1 357.5L311.2 357.5L310.3 357.5L309.4 357.5L308.5 357.5L307.6 357.5L306.7 357.5L305.8 357.5L304.9 357.5L304 357.4L303.1 357.3L302.2 357.1L301.3 357L300.4 356.8L299.5 356.7L298.6 356.5L297.7 356.4L296.8 356.2L295.9 356.1L295 356L294.1 355.9L293.2 355.8L292.3 355.7L291.4 355.6L290.5 355.5L289.6 355.5L288.6 355.5L287.7 355.5L286.8 355.6L285.9 355.8L285 356L284.1 356.3L283.2 356.7L282.3 357.1L281.4 357.6L280.5 358.2L279.6 358.8L278.7 359.7L277.8 360.7L276.9 361.9L276 363.2L275.1 364.7L274.2 366.2L273.3 367.6L272.4 369.2L271.5 370.7L270.6 372.1L269.7 373.6L268.8 374.9L267.9 376L267 376.8L266.1 377.3L265.2 377.6L264.3 377.6L263.4 377.5L262.5 377.2L261.6 376.7L260.7 376.1L259.8 375.3L258.9 374.5L258 373.4L257.1 372.2L256.2 370.9L255.2 369.4L254.3 367.9L253.4 366.2L252.5 364.5L251.6 362.7L250.7 361L249.8 359.2L248.9 357.5L248 355.9L247.1 354.5L246.2 353.2L245.3 352L244.4 351.1L243.5 350.4L242.6 349.7L241.7 349.2L240.8 348.7L239.9 348.4L239 348.3L238.1 348.3L237.2 348.6L236.3 348.9L235.4 349.3L234.5 349.7L233.6 350.1L232.7 350.5L231.8 350.9L230.9 351.2L230 351.6L229.1 351.8L228.2 352.1L227.3 352.2L226.4 352.3L225.5 352.4L224.6 352.3L223.7 352.3L222.8 352.2L221.9 352.1L220.9 352.1L220 351.9L219.1 351.8L218.2 351.7L217.3 351.5L216.4 351.4L215.5 351.2L214.6 351.2L213.7 351.2L212.8 351.4L211.9 351.5L211 351.8L210.1 352L209.2 352.3L208.3 352.5L207.4 352.8L206.5 353L205.6 353.2L204.7 353.4Z"/><path d="M204.7 300L205.6 300.9L206.5 302L207.4 303.3L208.3 304.4L209.2 305.5L210.1 306.4L211 307.2L211.9 308L212.8 308.7L213.7 309.4L214.6 310L215.5 310.5L216.4 311L217.3 311.5L218.2 312L219.1 312.4L220 312.7L220.9 313.1L221.9 313.4L222.8 313.6L223.7 313.9L224.6 314.1L225.5 314.3L226.4 314.4L227.3 314.6L228.2 314.7L229.1 314.8L230 314.9L230.9 315L231.8 315L232.7 315.1L233.6 315.1L234.5 315L235.4 314.9L236.3 314.8L237.2 314.7L238.1 314.5L239 314.4L239.9 314.2L240.8 314L241.7 313.8L242.6 313.6L243.5 313.4L244.4 313.2L245.3 313L246.2 312.8L247.1 312.6L248 312.4L248.9 312.2L249.8 312L250.7 311.8L251.6 311.5L252.5 311.3L253.4 311.1L254.3 310.8L255.2 310.6L256.2 310.3L257.1 310L258 309.7L258.9 309.5L259.8 309.2L260.7 308.9L261.6 308.6L262.5 308.3L263.4 308L264.3 307.7L265.2 307.4L266.1 307.1L267 306.8L267.9 306.5L268.8 306.3L269.7 306L270.6 305.7L271.5 305.4L272.4 305.2L273.3 304.9L274.2 304.7L275.1 304.5L276 304.3L276.9 304.2L277.8 304.1L278.7 304.1L279.6 304.2L280.5 304.3L281.4 304.5L282.3 304.7L283.2 305L284.1 305.2L285 305.4L285.9 305.6L286.8 305.8L287.7 305.9L288.6 306L289.6 306.1L290.5 306.2L291.4 306.3L292.3 306.3L293.2 306.4L294.1 306.6L295 306.7L295.9 306.8L296.8 307L297.7 307.2L298.6 307.3L299.5 307.5L300.4 307.6L301.3 307.7L302.2 307.8L303.1 307.8L304 307.8L304.9 307.7L305.8 307.6L306.7 307.5L307.6 307.4L308.5 307.2L309.4 307.1L310.3 306.9L311.2 306.7L312.1 306.5L313 306.3L313.9 306.1L314.8 305.9L315.7 305.6L316.6 305.4L317.5 305.1L318.4 304.8L319.3 304.4L320.2 304L321.1 303.5L322 303L322.9 302.5L323.9 302L324.8 301.3L325.7 300.7L326.6 299.9L327.5 299.2L328.4 298.4L329.3 297.7L330.2 297L331.1 296.4L332 295.9L332.9 295.5L333.8 295.3L334.7 295.3L335.6 295.5L336.5 295.9L337.4 296.5L338.3 297.1L339.2 297.6L340.1 298L340.1 319L339.2 318.8L338.3 318.4L337.4 318.1L336.5 317.7L335.6 317.5L334.7 317.4L333.8 317.4L332.9 317.6L332 317.8L331.1 318.2L330.2 318.6L329.3 319.1L328.4 319.7L327.5 320.2L326.6 320.8L325.7 321.3L324.8 321.7L323.9 322.1L322.9 322.5L322 322.8L321.1 323.1L320.2 323.4L319.3 323.7L318.4 324L317.5 324.2L316.6 324.5L315.7 324.7L314.8 325L313.9 325.2L313 325.4L312.1 325.6L311.2 325.8L310.3 326L309.4 326.1L308.5 326.2L307.6 326.3L306.7 326.4L305.8 326.4L304.9 326.5L304 326.5L303.1 326.4L302.2 326.4L301.3 326.4L300.4 326.3L299.5 326.2L298.6 326.2L297.7 326.1L296.8 326L295.9 325.9L295 325.7L294.1 325.6L293.2 325.5L292.3 325.3L291.4 325.2L290.5 325L289.6 324.9L288.6 324.7L287.7 324.6L286.8 324.4L285.9 324.3L285 324.1L284.1 324L283.2 323.8L282.3 323.7L281.4 323.5L280.5 323.4L279.6 323.2L278.7 323.2L277.8 323.1L276.9 323.2L276 323.3L275.1 323.5L274.2 323.8L273.3 324L272.4 324.3L271.5 324.6L270.6 324.9L269.7 325.2L268.8 325.5L267.9 325.8L267 326.1L266.1 326.4L265.2 326.7L264.3 327L263.4 327.3L262.5 327.6L261.6 327.9L260.7 328.1L259.8 328.4L258.9 328.7L258 328.9L257.1 329.2L256.2 329.4L255.2 329.6L254.3 329.8L253.4 330L252.5 330.2L251.6 330.3L250.7 330.5L249.8 330.6L248.9 330.8L248 330.9L247.1 331L246.2 331.2L245.3 331.3L244.4 331.4L243.5 331.6L242.6 331.7L241.7 331.8L240.8 331.9L239.9 332L239 332.2L238.1 332.3L237.2 332.3L236.3 332.4L235.4 332.5L234.5 332.6L233.6 332.6L232.7 332.6L231.8 332.6L230.9 332.6L230 332.6L229.1 332.6L228.2 332.5L227.3 332.4L226.4 332.4L225.5 332.3L224.6 332.2L223.7 332L222.8 331.9L221.9 331.7L220.9 331.6L220 331.4L219.1 331.2L218.2 330.9L217.3 330.7L216.4 330.4L215.5 330L214.6 329.7L213.7 329.2L212.8 328.7L211.9 328.1L211 327.5L210.1 326.7L209.2 325.8L208.3 324.8L207.4 323.8L206.5 322.7L205.6 321.6L204.7 320.8Z"/></clipPath>
<path class="bi" d="M204.7 344.3L205.6 343.7L206.5 342.8L207.4 341.7L208.3 340.4L209.2 339L210.1 337.5L211 335.9L211.9 334.4L212.8 332.8L213.7 331.2L214.6 329.6L215.5 328L216.4 326.5L217.3 324.9L218.2 323.4L219.1 322L220 320.8L220.9 319.7L221.9 318.9L222.8 318.2L223.7 317.7L224.6 317.3L225.5 317L226.4 317L227.3 317L228.2 317.3L229.1 317.8L230 318.5L230.9 319.3L231.8 320.4L232.7 321.7L233.6 323.2L234.5 324.8L235.4 326.6L236.3 328.5L237.2 330.4L238.1 332.4L239 334.3L239.9 336.3L240.8 338.2L241.7 340.1L242.6 341.8L243.5 343.3L244.4 344.4L245.3 345.2L246.2 345.5L247.1 345.4L248 344.9L248.9 344.1L249.8 342.9L250.7 341.5L251.6 340.1L252.5 338.6L253.4 337.2L254.3 335.9L255.2 334.6L256.2 333.5L257.1 332.4L258 331.5L258.9 330.6L259.8 329.9L260.7 329.3L261.6 328.8L262.5 328.4L263.4 328.1L264.3 327.9L265.2 327.9L266.1 328.1L267 328.5L267.9 329L268.8 329.6L269.7 330.3L270.6 331.1L271.5 331.9L272.4 332.7L273.3 333.6L274.2 334.5L275.1 335.4L276 336.3L276.9 337.2L277.8 338L278.7 338.8L279.6 339.5L280.5 340.1L281.4 340.6L282.3 341L283.2 341.4L284.1 341.7L285 342L285.9 342.3L286.8 342.5L287.7 342.8L288.6 343L289.6 343.2L290.5 343.3L291.4 343.4L292.3 343.5L293.2 343.5L294.1 343.5L295 343.5L295.9 343.5L296.8 343.5L297.7 343.5L298.6 343.5L299.5 343.5L300.4 343.5L301.3 343.5L302.2 343.4L303.1 343.4L304 343.3L304.9 343.2L305.8 343.1L306.7 343L307.6 343L308.5 343L309.4 343L310.3 343.1L311.2 343.1L312.1 343.3L313 343.4L313.9 343.6L314.8 343.7L315.7 343.9L316.6 344.1L317.5 344.3L318.4 344.5L319.3 344.7L320.2 345L321.1 345.2L322 345.4L322.9 345.6L323.9 345.8L324.8 346L325.7 346.2L326.6 346.4L327.5 346.5L328.4 346.7L329.3 346.8L330.2 347L331.1 347.1L332 347.2L332.9 347.3L333.8 347.4L334.7 347.4L335.6 347.4L336.5 347.4L337.4 347.4L338.3 347.4L339.2 347.3L340.1 347.3L340.1 351.2L339.2 351.3L338.3 351.5L337.4 351.7L336.5 351.9L335.6 352.2L334.7 352.4L333.8 352.7L332.9 353L332 353.3L331.1 353.6L330.2 353.9L329.3 354.2L328.4 354.5L327.5 354.8L326.6 355.1L325.7 355.4L324.8 355.7L323.9 355.9L322.9 356.2L322 356.4L321.1 356.6L320.2 356.8L319.3 357L318.4 357.1L317.5 357.2L316.6 357.3L315.7 357.3L314.8 357.4L313.9 357.4L313 357.4L312.1 357.5L311.2 357.5L310.3 357.5L309.4 357.5L308.5 357.5L307.6 357.5L306.7 357.5L305.8 357.5L304.9 357.5L304 357.4L303.1 357.3L302.2 357.1L301.3 357L300.4 356.8L299.5 356.7L298.6 356.5L297.7 356.4L296.8 356.2L295.9 356.1L295 356L294.1 355.9L293.2 355.8L292.3 355.7L291.4 355.6L290.5 355.5L289.6 355.5L288.6 355.5L287.7 355.5L286.8 355.6L285.9 355.8L285 356L284.1 356.3L283.2 356.7L282.3 357.1L281.4 357.6L280.5 358.2L279.6 358.8L278.7 359.7L277.8 360.7L276.9 361.9L276 363.2L275.1 364.7L274.2 366.2L273.3 367.6L272.4 369.2L271.5 370.7L270.6 372.1L269.7 373.6L268.8 374.9L267.9 376L267 376.8L266.1 377.3L265.2 377.6L264.3 377.6L263.4 377.5L262.5 377.2L261.6 376.7L260.7 376.1L259.8 375.3L258.9 374.5L258 373.4L257.1 372.2L256.2 370.9L255.2 369.4L254.3 367.9L253.4 366.2L252.5 364.5L251.6 362.7L250.7 361L249.8 359.2L248.9 357.5L248 355.9L247.1 354.5L246.2 353.2L245.3 352L244.4 351.1L243.5 350.4L242.6 349.7L241.7 349.2L240.8 348.7L239.9 348.4L239 348.3L238.1 348.3L237.2 348.6L236.3 348.9L235.4 349.3L234.5 349.7L233.6 350.1L232.7 350.5L231.8 350.9L230.9 351.2L230 351.6L229.1 351.8L228.2 352.1L227.3 352.2L226.4 352.3L225.5 352.4L224.6 352.3L223.7 352.3L222.8 352.2L221.9 352.1L220.9 352.1L220 351.9L219.1 351.8L218.2 351.7L217.3 351.5L216.4 351.4L215.5 351.2L214.6 351.2L213.7 351.2L212.8 351.4L211.9 351.5L211 351.8L210.1 352L209.2 352.3L208.3 352.5L207.4 352.8L206.5 353L205.6 353.2L204.7 353.4Z"/>
<path class="bo" d="M204.7 300L205.6 300.9L206.5 302L207.4 303.3L208.3 304.4L209.2 305.5L210.1 306.4L211 307.2L211.9 308L212.8 308.7L213.7 309.4L214.6 310L215.5 310.5L216.4 311L217.3 311.5L218.2 312L219.1 312.4L220 312.7L220.9 313.1L221.9 313.4L222.8 313.6L223.7 313.9L224.6 314.1L225.5 314.3L226.4 314.4L227.3 314.6L228.2 314.7L229.1 314.8L230 314.9L230.9 315L231.8 315L232.7 315.1L233.6 315.1L234.5 315L235.4 314.9L236.3 314.8L237.2 314.7L238.1 314.5L239 314.4L239.9 314.2L240.8 314L241.7 313.8L242.6 313.6L243.5 313.4L244.4 313.2L245.3 313L246.2 312.8L247.1 312.6L248 312.4L248.9 312.2L249.8 312L250.7 311.8L251.6 311.5L252.5 311.3L253.4 311.1L254.3 310.8L255.2 310.6L256.2 310.3L257.1 310L258 309.7L258.9 309.5L259.8 309.2L260.7 308.9L261.6 308.6L262.5 308.3L263.4 308L264.3 307.7L265.2 307.4L266.1 307.1L267 306.8L267.9 306.5L268.8 306.3L269.7 306L270.6 305.7L271.5 305.4L272.4 305.2L273.3 304.9L274.2 304.7L275.1 304.5L276 304.3L276.9 304.2L277.8 304.1L278.7 304.1L279.6 304.2L280.5 304.3L281.4 304.5L282.3 304.7L283.2 305L284.1 305.2L285 305.4L285.9 305.6L286.8 305.8L287.7 305.9L288.6 306L289.6 306.1L290.5 306.2L291.4 306.3L292.3 306.3L293.2 306.4L294.1 306.6L295 306.7L295.9 306.8L296.8 307L297.7 307.2L298.6 307.3L299.5 307.5L300.4 307.6L301.3 307.7L302.2 307.8L303.1 307.8L304 307.8L304.9 307.7L305.8 307.6L306.7 307.5L307.6 307.4L308.5 307.2L309.4 307.1L310.3 306.9L311.2 306.7L312.1 306.5L313 306.3L313.9 306.1L314.8 305.9L315.7 305.6L316.6 305.4L317.5 305.1L318.4 304.8L319.3 304.4L320.2 304L321.1 303.5L322 303L322.9 302.5L323.9 302L324.8 301.3L325.7 300.7L326.6 299.9L327.5 299.2L328.4 298.4L329.3 297.7L330.2 297L331.1 296.4L332 295.9L332.9 295.5L333.8 295.3L334.7 295.3L335.6 295.5L336.5 295.9L337.4 296.5L338.3 297.1L339.2 297.6L340.1 298L340.1 319L339.2 318.8L338.3 318.4L337.4 318.1L336.5 317.7L335.6 317.5L334.7 317.4L333.8 317.4L332.9 317.6L332 317.8L331.1 318.2L330.2 318.6L329.3 319.1L328.4 319.7L327.5 320.2L326.6 320.8L325.7 321.3L324.8 321.7L323.9 322.1L322.9 322.5L322 322.8L321.1 323.1L320.2 323.4L319.3 323.7L318.4 324L317.5 324.2L316.6 324.5L315.7 324.7L314.8 325L313.9 325.2L313 325.4L312.1 325.6L311.2 325.8L310.3 326L309.4 326.1L308.5 326.2L307.6 326.3L306.7 326.4L305.8 326.4L304.9 326.5L304 326.5L303.1 326.4L302.2 326.4L301.3 326.4L300.4 326.3L299.5 326.2L298.6 326.2L297.7 326.1L296.8 326L295.9 325.9L295 325.7L294.1 325.6L293.2 325.5L292.3 325.3L291.4 325.2L290.5 325L289.6 324.9L288.6 324.7L287.7 324.6L286.8 324.4L285.9 324.3L285 324.1L284.1 324L283.2 323.8L282.3 323.7L281.4 323.5L280.5 323.4L279.6 323.2L278.7 323.2L277.8 323.1L276.9 323.2L276 323.3L275.1 323.5L274.2 323.8L273.3 324L272.4 324.3L271.5 324.6L270.6 324.9L269.7 325.2L268.8 325.5L267.9 325.8L267 326.1L266.1 326.4L265.2 326.7L264.3 327L263.4 327.3L262.5 327.6L261.6 327.9L260.7 328.1L259.8 328.4L258.9 328.7L258 328.9L257.1 329.2L256.2 329.4L255.2 329.6L254.3 329.8L253.4 330L252.5 330.2L251.6 330.3L250.7 330.5L249.8 330.6L248.9 330.8L248 330.9L247.1 331L246.2 331.2L245.3 331.3L244.4 331.4L243.5 331.6L242.6 331.7L241.7 331.8L240.8 331.9L239.9 332L239 332.2L238.1 332.3L237.2 332.3L236.3 332.4L235.4 332.5L234.5 332.6L233.6 332.6L232.7 332.6L231.8 332.6L230.9 332.6L230 332.6L229.1 332.6L228.2 332.5L227.3 332.4L226.4 332.4L225.5 332.3L224.6 332.2L223.7 332L222.8 331.9L221.9 331.7L220.9 331.6L220 331.4L219.1 331.2L218.2 330.9L217.3 330.7L216.4 330.4L215.5 330L214.6 329.7L213.7 329.2L212.8 328.7L211.9 328.1L211 327.5L210.1 326.7L209.2 325.8L208.3 324.8L207.4 323.8L206.5 322.7L205.6 321.6L204.7 320.8Z"/>
<path class="go" clip-path="url(#cp8)" d="M204.7 279.60H340.1M204.7 293.28H340.1M204.7 306.95H340.1M204.7 320.62H340.1M204.7 334.30H340.1M204.7 347.98H340.1M204.7 361.65H340.1M204.7 375.32H340.1M204.7 389.00H340.1"/>
<path class="si" d="M204.7 344.3L205.6 343.7L206.5 342.8L207.4 341.7L208.3 340.4L209.2 339L210.1 337.5L211 335.9L211.9 334.4L212.8 332.8L213.7 331.2L214.6 329.6L215.5 328L216.4 326.5L217.3 324.9L218.2 323.4L219.1 322L220 320.8L220.9 319.7L221.9 318.9L222.8 318.2L223.7 317.7L224.6 317.3L225.5 317L226.4 317L227.3 317L228.2 317.3L229.1 317.8L230 318.5L230.9 319.3L231.8 320.4L232.7 321.7L233.6 323.2L234.5 324.8L235.4 326.6L236.3 328.5L237.2 330.4L238.1 332.4L239 334.3L239.9 336.3L240.8 338.2L241.7 340.1L242.6 341.8L243.5 343.3L244.4 344.4L245.3 345.2L246.2 345.5L247.1 345.4L248 344.9L248.9 344.1L249.8 342.9L250.7 341.5L251.6 340.1L252.5 338.6L253.4 337.2L254.3 335.9L255.2 334.6L256.2 333.5L257.1 332.4L258 331.5L258.9 330.6L259.8 329.9L260.7 329.3L261.6 328.8L262.5 328.4L263.4 328.1L264.3 327.9L265.2 327.9L266.1 328.1L267 328.5L267.9 329L268.8 329.6L269.7 330.3L270.6 331.1L271.5 331.9L272.4 332.7L273.3 333.6L274.2 334.5L275.1 335.4L276 336.3L276.9 337.2L277.8 338L278.7 338.8L279.6 339.5L280.5 340.1L281.4 340.6L282.3 341L283.2 341.4L284.1 341.7L285 342L285.9 342.3L286.8 342.5L287.7 342.8L288.6 343L289.6 343.2L290.5 343.3L291.4 343.4L292.3 343.5L293.2 343.5L294.1 343.5L295 343.5L295.9 343.5L296.8 343.5L297.7 343.5L298.6 343.5L299.5 343.5L300.4 343.5L301.3 343.5L302.2 343.4L303.1 343.4L304 343.3L304.9 343.2L305.8 343.1L306.7 343L307.6 343L308.5 343L309.4 343L310.3 343.1L311.2 343.1L312.1 343.3L313 343.4L313.9 343.6L314.8 343.7L315.7 343.9L316.6 344.1L317.5 344.3L318.4 344.5L319.3 344.7L320.2 345L321.1 345.2L322 345.4L322.9 345.6L323.9 345.8L324.8 346L325.7 346.2L326.6 346.4L327.5 346.5L328.4 346.7L329.3 346.8L330.2 347L331.1 347.1L332 347.2L332.9 347.3L333.8 347.4L334.7 347.4L335.6 347.4L336.5 347.4L337.4 347.4L338.3 347.4L339.2 347.3L340.1 347.3" stroke-opacity=".85"/>
<path class="si" d="M204.7 353.4L205.6 353.2L206.5 353L207.4 352.8L208.3 352.5L209.2 352.3L210.1 352L211 351.8L211.9 351.5L212.8 351.4L213.7 351.2L214.6 351.2L215.5 351.2L216.4 351.4L217.3 351.5L218.2 351.7L219.1 351.8L220 351.9L220.9 352.1L221.9 352.1L222.8 352.2L223.7 352.3L224.6 352.3L225.5 352.4L226.4 352.3L227.3 352.2L228.2 352.1L229.1 351.8L230 351.6L230.9 351.2L231.8 350.9L232.7 350.5L233.6 350.1L234.5 349.7L235.4 349.3L236.3 348.9L237.2 348.6L238.1 348.3L239 348.3L239.9 348.4L240.8 348.7L241.7 349.2L242.6 349.7L243.5 350.4L244.4 351.1L245.3 352L246.2 353.2L247.1 354.5L248 355.9L248.9 357.5L249.8 359.2L250.7 361L251.6 362.7L252.5 364.5L253.4 366.2L254.3 367.9L255.2 369.4L256.2 370.9L257.1 372.2L258 373.4L258.9 374.5L259.8 375.3L260.7 376.1L261.6 376.7L262.5 377.2L263.4 377.5L264.3 377.6L265.2 377.6L266.1 377.3L267 376.8L267.9 376L268.8 374.9L269.7 373.6L270.6 372.1L271.5 370.7L272.4 369.2L273.3 367.6L274.2 366.2L275.1 364.7L276 363.2L276.9 361.9L277.8 360.7L278.7 359.7L279.6 358.8L280.5 358.2L281.4 357.6L282.3 357.1L283.2 356.7L284.1 356.3L285 356L285.9 355.8L286.8 355.6L287.7 355.5L288.6 355.5L289.6 355.5L290.5 355.5L291.4 355.6L292.3 355.7L293.2 355.8L294.1 355.9L295 356L295.9 356.1L296.8 356.2L297.7 356.4L298.6 356.5L299.5 356.7L300.4 356.8L301.3 357L302.2 357.1L303.1 357.3L304 357.4L304.9 357.5L305.8 357.5L306.7 357.5L307.6 357.5L308.5 357.5L309.4 357.5L310.3 357.5L311.2 357.5L312.1 357.5L313 357.4L313.9 357.4L314.8 357.4L315.7 357.3L316.6 357.3L317.5 357.2L318.4 357.1L319.3 357L320.2 356.8L321.1 356.6L322 356.4L322.9 356.2L323.9 355.9L324.8 355.7L325.7 355.4L326.6 355.1L327.5 354.8L328.4 354.5L329.3 354.2L330.2 353.9L331.1 353.6L332 353.3L332.9 353L333.8 352.7L334.7 352.4L335.6 352.2L336.5 351.9L337.4 351.7L338.3 351.5L339.2 351.3L340.1 351.2" stroke-opacity=".7"/>
<path class="mo" d="M204.7 310.6L205.6 311.4L206.5 312.5L207.4 313.6L208.3 314.7L209.2 315.6L210.1 316.5L211 317.2L211.9 317.9L212.8 318.5L213.7 319.1L214.6 319.5L215.5 320L216.4 320.4L217.3 320.8L218.2 321.1L219.1 321.4L220 321.7L220.9 321.9L221.9 322.1L222.8 322.3L223.7 322.4L224.6 322.6L225.5 322.7L226.4 322.9L227.3 323L228.2 323.1L229.1 323.2L230 323.3L230.9 323.5L231.8 323.5L232.7 323.6L233.6 323.6L234.5 323.6L235.4 323.6L236.3 323.5L237.2 323.4L238.1 323.2L239 323.1L239.9 322.9L240.8 322.8L241.7 322.6L242.6 322.4L243.5 322.3L244.4 322.1L245.3 321.9L246.2 321.7L247.1 321.6L248 321.4L248.9 321.2L249.8 321.1L250.7 320.9L251.6 320.7L252.5 320.5L253.4 320.3L254.3 320.2L255.2 319.9L256.2 319.7L257.1 319.5L258 319.3L258.9 319L259.8 318.7L260.7 318.5L261.6 318.2L262.5 317.9L263.4 317.6L264.3 317.3L265.2 317L266.1 316.8L267 316.5L267.9 316.2L268.8 315.9L269.7 315.6L270.6 315.3L271.5 314.9L272.4 314.7L273.3 314.4L274.2 314.1L275.1 313.9L276 313.8L276.9 313.7L277.8 313.7L278.7 313.7L279.6 313.8L280.5 313.9L281.4 314.1L282.3 314.2L283.2 314.4L284.1 314.6L285 314.7L285.9 314.8L286.8 315L287.7 315.1L288.6 315.2L289.6 315.3L290.5 315.5L291.4 315.6L292.3 315.7L293.2 315.8L294.1 316L295 316.1L295.9 316.2L296.8 316.4L297.7 316.5L298.6 316.7L299.5 316.9L300.4 317L301.3 317.1L302.2 317.2L303.1 317.3L304 317.3L304.9 317.3L305.8 317.2L306.7 317.1L307.6 317L308.5 316.9L309.4 316.7L310.3 316.5L311.2 316.3L312.1 316.1L313 315.9L313.9 315.6L314.8 315.4L315.7 315.1L316.6 314.8L317.5 314.5L318.4 314.2L319.3 313.9L320.2 313.6L321.1 313.2L322 312.9L322.9 312.5L323.9 312L324.8 311.5L325.7 311L326.6 310.3L327.5 309.6L328.4 309L329.3 308.3L330.2 307.7L331.1 307.2L332 306.7L332.9 306.4L333.8 306.2L334.7 306.2L335.6 306.4L336.5 306.7L337.4 307.1L338.3 307.6L339.2 308L340.1 308.3"/>
<path class="mi" d="M204.7 349.1L205.6 348.6L206.5 348L207.4 347.3L208.3 346.5L209.2 345.7L210.1 344.8L211 343.9L211.9 343L212.8 342.1L213.7 341.2L214.6 340.4L215.5 339.6L216.4 338.9L217.3 338.3L218.2 337.7L219.1 337.2L220 336.7L220.9 336.3L221.9 336L222.8 335.7L223.7 335.5L224.6 335.3L225.5 335.2L226.4 335.2L227.3 335.2L228.2 335.3L229.1 335.5L230 335.8L230.9 336.2L231.8 336.7L232.7 337.2L233.6 337.8L234.5 338.5L235.4 339.2L236.3 339.9L237.2 340.7L238.1 341.5L239 342.4L239.9 343.3L240.8 344.1L241.7 344.9L242.6 345.7L243.5 346.5L244.4 347.2L245.3 348L246.2 348.6L247.1 349.3L248 349.9L248.9 350.4L249.8 350.9L250.7 351.3L251.6 351.6L252.5 351.9L253.4 352L254.3 352.2L255.2 352.3L256.2 352.3L257.1 352.3L258 352.3L258.9 352.3L259.8 352.3L260.7 352.2L261.6 352.1L262.5 352L263.4 351.8L264.3 351.6L265.2 351.4L266.1 351.1L267 350.8L267.9 350.5L268.8 350.2L269.7 349.9L270.6 349.7L271.5 349.5L272.4 349.3L273.3 349.1L274.2 348.9L275.1 348.7L276 348.6L276.9 348.5L277.8 348.4L278.7 348.4L279.6 348.4L280.5 348.4L281.4 348.4L282.3 348.4L283.2 348.5L284.1 348.6L285 348.7L285.9 348.9L286.8 349L287.7 349.2L288.6 349.4L289.6 349.5L290.5 349.6L291.4 349.8L292.3 349.9L293.2 349.9L294.1 350L295 350.1L295.9 350.2L296.8 350.2L297.7 350.3L298.6 350.4L299.5 350.4L300.4 350.5L301.3 350.5L302.2 350.6L303.1 350.7L304 350.7L304.9 350.8L305.8 350.8L306.7 350.9L307.6 350.9L308.5 350.9L309.4 351L310.3 351L311.2 351.1L312.1 351.1L313 351.1L313.9 351.1L314.8 351.2L315.7 351.2L316.6 351.2L317.5 351.2L318.4 351.2L319.3 351.1L320.2 351.1L321.1 351.1L322 351.1L322.9 351.1L323.9 351L324.8 351L325.7 350.9L326.6 350.9L327.5 350.8L328.4 350.7L329.3 350.6L330.2 350.6L331.1 350.5L332 350.4L332.9 350.2L333.8 350.1L334.7 350L335.6 349.8L336.5 349.7L337.4 349.5L338.3 349.3L339.2 349.2L340.1 349.1"/>
<text class="tk" transform="translate(200.80,281.10) scale(1,1.1)" text-anchor="end">25</text>
<text class="tk" transform="translate(200.80,294.78) scale(1,1.1)" text-anchor="end">20</text>
<text class="tk" transform="translate(200.80,308.45) scale(1,1.1)" text-anchor="end">15</text>
<text class="tk" transform="translate(200.80,322.12) scale(1,1.1)" text-anchor="end">10</text>
<text class="tk" transform="translate(200.80,335.80) scale(1,1.1)" text-anchor="end">5</text>
<text class="tk" transform="translate(200.80,349.48) scale(1,1.1)" text-anchor="end">0</text>
<text class="tk" transform="translate(200.80,363.15) scale(1,1.1)" text-anchor="end">-5</text>
<text class="tk" transform="translate(200.80,376.82) scale(1,1.1)" text-anchor="end">-10</text>
<text class="tk" transform="translate(200.80,390.50) scale(1,1.1)" text-anchor="end">-15</text>
<text class="tk" transform="translate(204.70,354.98) scale(1,1.1)" text-anchor="middle">0</text>
<text class="tk" transform="translate(231.78,354.98) scale(1,1.1)" text-anchor="middle">20</text>
<text class="tk" transform="translate(258.86,354.98) scale(1,1.1)" text-anchor="middle">40</text>
<text class="tk" transform="translate(285.94,354.98) scale(1,1.1)" text-anchor="middle">60</text>
<text class="tk" transform="translate(313.02,354.98) scale(1,1.1)" text-anchor="middle">80</text>
<text class="tk" transform="translate(340.10,354.98) scale(1,1.1)" text-anchor="middle">100</text>
<text class="tt" transform="translate(275.55,274.20) scale(1,1.18)" text-anchor="middle">Sound Ankle Adduction/Abduction ( +ve Adduct)</text>
<text class="ax" transform="translate(272.20,394.40) scale(1,1.12)" text-anchor="middle">% gait cycle</text>
<text class="ax" transform="translate(193.30,334.60) rotate(-90)" text-anchor="middle">Degrees</text>
<line x1="346.60" y1="334.20" x2="354.60" y2="334.20" stroke="#222" stroke-width="1"/>
<text class="lg" x="354.70" y="335.40">IMU</text>
<line x1="346.90" y1="340.90" x2="354.60" y2="340.90" stroke="#25b45e" stroke-width="1.1" stroke-dasharray="1.7 1.1"/>
<text class="lg" x="354.70" y="342.10">OMC</text>
</g>
<g id="panel9">
<line class="gl" x1="385.3" y1="279.60" x2="521.5" y2="279.60"/>
<line class="gl" x1="385.3" y1="293.28" x2="521.5" y2="293.28"/>
<line class="gl" x1="385.3" y1="306.95" x2="521.5" y2="306.95"/>
<line class="gl" x1="385.3" y1="320.62" x2="521.5" y2="320.62"/>
<line class="gl" x1="385.3" y1="334.30" x2="521.5" y2="334.30"/>
<line class="gl" x1="385.3" y1="347.98" x2="521.5" y2="347.98"/>
<line class="gl" x1="385.3" y1="361.65" x2="521.5" y2="361.65"/>
<line class="gl" x1="385.3" y1="375.32" x2="521.5" y2="375.32"/>
<line class="gl" x1="385.3" y1="389.00" x2="521.5" y2="389.00"/>
<line x1="385.3" y1="279.60" x2="385.3" y2="389.00" stroke="#bcbcbc" stroke-width=".6"/>
<clipPath id="cp9"><path d="M385.3 337.7L386.2 337.6L387.1 337.5L388 337.3L388.9 337.3L389.8 337.2L390.7 337.3L391.7 337.4L392.6 337.5L393.5 337.6L394.4 337.5L395.3 337.2L396.2 336.5L397.1 335.6L398 334.6L398.9 333.5L399.8 332.3L400.7 331.1L401.6 329.9L402.6 328.8L403.5 327.9L404.4 327.1L405.3 326.5L406.2 326L407.1 325.6L408 325.4L408.9 325.3L409.8 325.4L410.7 325.6L411.6 326.1L412.5 326.7L413.4 327.5L414.4 328.4L415.3 329.5L416.2 330.6L417.1 331.8L418 333.1L418.9 334.4L419.8 335.7L420.7 336.8L421.6 337.7L422.5 338.5L423.4 339L424.3 339.4L425.3 339.6L426.2 339.7L427.1 339.5L428 339.1L428.9 338.4L429.8 337.5L430.7 336.4L431.6 335.2L432.5 333.9L433.4 332.4L434.3 330.9L435.2 329.5L436.1 328.1L437.1 326.9L438 325.7L438.9 324.7L439.8 323.8L440.7 323L441.6 322.4L442.5 321.8L443.4 321.3L444.3 320.9L445.2 320.5L446.1 320.2L447 320L448 320L448.9 320.1L449.8 320.5L450.7 321.1L451.6 321.8L452.5 322.8L453.4 323.8L454.3 324.9L455.2 326.2L456.1 327.4L457 328.7L457.9 330L458.8 331.2L459.8 332.3L460.7 333.1L461.6 333.8L462.5 334.3L463.4 334.6L464.3 334.8L465.2 334.9L466.1 335.1L467 335.2L467.9 335.3L468.8 335.4L469.7 335.5L470.7 335.6L471.6 335.7L472.5 335.8L473.4 336L474.3 336.3L475.2 336.6L476.1 337L477 337.4L477.9 337.8L478.8 338.1L479.7 338.4L480.6 338.7L481.5 338.9L482.5 339L483.4 339.2L484.3 339.3L485.2 339.5L486.1 339.6L487 339.6L487.9 339.7L488.8 339.7L489.7 339.7L490.6 339.7L491.5 339.7L492.4 339.7L493.4 339.7L494.3 339.6L495.2 339.6L496.1 339.5L497 339.4L497.9 339.3L498.8 339.2L499.7 339.1L500.6 339L501.5 338.9L502.4 338.8L503.3 338.7L504.2 338.6L505.2 338.5L506.1 338.3L507 338.2L507.9 338.1L508.8 338L509.7 337.9L510.6 337.8L511.5 337.7L512.4 337.6L513.3 337.5L514.2 337.5L515.1 337.4L516.1 337.3L517 337.3L517.9 337.2L518.8 337.2L519.7 337.2L520.6 337.1L521.5 337.1L521.5 353.7L520.6 353.7L519.7 353.7L518.8 353.8L517.9 353.8L517 353.9L516.1 353.9L515.1 354L514.2 354L513.3 354.1L512.4 354.2L511.5 354.3L510.6 354.3L509.7 354.4L508.8 354.5L507.9 354.6L507 354.8L506.1 354.9L505.2 355L504.2 355.2L503.3 355.3L502.4 355.4L501.5 355.5L500.6 355.5L499.7 355.6L498.8 355.6L497.9 355.7L497 355.7L496.1 355.7L495.2 355.7L494.3 355.7L493.4 355.6L492.4 355.6L491.5 355.5L490.6 355.4L489.7 355.3L488.8 355.2L487.9 355.1L487 354.9L486.1 354.7L485.2 354.5L484.3 354.3L483.4 354.1L482.5 353.9L481.5 353.7L480.6 353.5L479.7 353.2L478.8 353L477.9 352.8L477 352.5L476.1 352.3L475.2 352L474.3 351.8L473.4 351.6L472.5 351.3L471.6 351.1L470.7 350.9L469.7 350.7L468.8 350.5L467.9 350.3L467 350.2L466.1 350.1L465.2 350L464.3 349.9L463.4 349.8L462.5 349.8L461.6 349.8L460.7 349.9L459.8 349.9L458.8 350L457.9 350.1L457 350.3L456.1 350.4L455.2 350.6L454.3 350.7L453.4 350.9L452.5 351.1L451.6 351.3L450.7 351.5L449.8 351.7L448.9 351.8L448 351.9L447 351.9L446.1 352L445.2 352L444.3 351.9L443.4 351.9L442.5 351.8L441.6 351.8L440.7 351.7L439.8 351.6L438.9 351.5L438 351.3L437.1 351.2L436.1 351.1L435.2 351.1L434.3 351L433.4 351L432.5 351L431.6 351.1L430.7 351.3L429.8 351.7L428.9 352.2L428 352.9L427.1 353.8L426.2 354.9L425.3 356L424.3 357.3L423.4 358.6L422.5 360L421.6 361.5L420.7 363L419.8 364.4L418.9 365.8L418 367.1L417.1 368.3L416.2 369.4L415.3 370.5L414.4 371.5L413.4 372.4L412.5 373.3L411.6 373.9L410.7 374.5L409.8 374.8L408.9 375L408 375L407.1 374.7L406.2 374.3L405.3 373.7L404.4 373L403.5 372.2L402.6 371.2L401.6 370L400.7 368.6L399.8 367.2L398.9 365.7L398 364.2L397.1 362.7L396.2 361.3L395.3 359.9L394.4 358.7L393.5 357.6L392.6 356.7L391.7 355.9L390.7 355.3L389.8 354.8L388.9 354.5L388 354.2L387.1 353.9L386.2 353.8L385.3 353.7Z"/><path d="M385.3 319.8L386.2 319.9L387.1 320L388 320.1L388.9 320.3L389.8 320.5L390.7 320.9L391.7 321.3L392.6 321.7L393.5 322.2L394.4 322.6L395.3 322.9L396.2 323.2L397.1 323.2L398 323.2L398.9 323L399.8 322.6L400.7 322.2L401.6 321.6L402.6 321L403.5 320.3L404.4 319.5L405.3 318.7L406.2 317.9L407.1 317L408 316.1L408.9 315.2L409.8 314.4L410.7 313.6L411.6 312.8L412.5 312.1L413.4 311.5L414.4 310.8L415.3 310.2L416.2 309.7L417.1 309.2L418 308.7L418.9 308.3L419.8 307.9L420.7 307.6L421.6 307.2L422.5 306.9L423.4 306.7L424.3 306.4L425.3 306.2L426.2 306L427.1 305.8L428 305.7L428.9 305.5L429.8 305.4L430.7 305.2L431.6 305.1L432.5 304.9L433.4 304.7L434.3 304.6L435.2 304.3L436.1 304.1L437.1 303.9L438 303.6L438.9 303.4L439.8 303.1L440.7 302.8L441.6 302.5L442.5 302.2L443.4 301.9L444.3 301.5L445.2 301.1L446.1 300.6L447 300.1L448 299.4L448.9 298.7L449.8 298L450.7 297.2L451.6 296.4L452.5 295.6L453.4 294.8L454.3 294L455.2 293.2L456.1 292.4L457 291.6L457.9 290.8L458.8 290L459.8 289.3L460.7 288.7L461.6 288.4L462.5 288.3L463.4 288.5L464.3 288.9L465.2 289.6L466.1 290.5L467 291.6L467.9 292.9L468.8 294.2L469.7 295.6L470.7 296.9L471.6 298.2L472.5 299.4L473.4 300.5L474.3 301.5L475.2 302.5L476.1 303.3L477 304.1L477.9 304.9L478.8 305.6L479.7 306.3L480.6 306.9L481.5 307.6L482.5 308.3L483.4 309L484.3 309.7L485.2 310.3L486.1 311L487 311.8L487.9 312.5L488.8 313.3L489.7 314.1L490.6 314.9L491.5 315.8L492.4 316.5L493.4 317.3L494.3 317.9L495.2 318.6L496.1 319.1L497 319.6L497.9 320.1L498.8 320.4L499.7 320.7L500.6 320.9L501.5 321L502.4 321L503.3 320.9L504.2 320.8L505.2 320.7L506.1 320.5L507 320.3L507.9 320.1L508.8 319.8L509.7 319.5L510.6 319.3L511.5 319L512.4 318.9L513.3 318.8L514.2 318.8L515.1 318.9L516.1 319L517 319.2L517.9 319.4L518.8 319.6L519.7 319.9L520.6 320.1L521.5 320.3L521.5 342L520.6 342L519.7 342L518.8 342.1L517.9 342.1L517 342.2L516.1 342.2L515.1 342.3L514.2 342.3L513.3 342.4L512.4 342.5L511.5 342.5L510.6 342.6L509.7 342.7L508.8 342.8L507.9 342.9L507 343L506.1 343.1L505.2 343.2L504.2 343.2L503.3 343.3L502.4 343.4L501.5 343.5L500.6 343.6L499.7 343.7L498.8 343.8L497.9 343.9L497 344L496.1 344.1L495.2 344.1L494.3 344.2L493.4 344.2L492.4 344.1L491.5 344L490.6 343.7L489.7 343.5L488.8 343.1L487.9 342.7L487 342.3L486.1 341.8L485.2 341.4L484.3 340.9L483.4 340.3L482.5 339.8L481.5 339.3L480.6 338.6L479.7 338L478.8 337.2L477.9 336.3L477 335.3L476.1 334.2L475.2 333L474.3 331.8L473.4 330.7L472.5 329.6L471.6 328.6L470.7 327.6L469.7 326.7L468.8 326L467.9 325.4L467 325L466.1 324.8L465.2 324.8L464.3 325L463.4 325.3L462.5 325.6L461.6 326.1L460.7 326.7L459.8 327.3L458.8 328L457.9 328.7L457 329.5L456.1 330.2L455.2 330.9L454.3 331.6L453.4 332.2L452.5 332.8L451.6 333.3L450.7 333.8L449.8 334.3L448.9 334.8L448 335.1L447 335.5L446.1 335.8L445.2 336L444.3 336.2L443.4 336.3L442.5 336.5L441.6 336.6L440.7 336.7L439.8 336.9L438.9 337L438 337.2L437.1 337.4L436.1 337.7L435.2 337.9L434.3 338.2L433.4 338.5L432.5 338.9L431.6 339.3L430.7 339.9L429.8 340.4L428.9 341.1L428 341.7L427.1 342.4L426.2 343L425.3 343.7L424.3 344.4L423.4 345L422.5 345.6L421.6 346.3L420.7 346.9L419.8 347.5L418.9 348.1L418 348.6L417.1 349.1L416.2 349.6L415.3 350L414.4 350.4L413.4 350.7L412.5 351.1L411.6 351.4L410.7 351.8L409.8 352.1L408.9 352.5L408 352.8L407.1 353.1L406.2 353.4L405.3 353.6L404.4 353.8L403.5 353.8L402.6 353.8L401.6 353.8L400.7 353.6L399.8 353.4L398.9 353.1L398 352.8L397.1 352.3L396.2 351.7L395.3 351L394.4 350.2L393.5 349.3L392.6 348.4L391.7 347.5L390.7 346.6L389.8 345.7L388.9 344.9L388 344.1L387.1 343.4L386.2 342.8L385.3 342.3Z"/></clipPath>
<path class="bi" d="M385.3 337.7L386.2 337.6L387.1 337.5L388 337.3L388.9 337.3L389.8 337.2L390.7 337.3L391.7 337.4L392.6 337.5L393.5 337.6L394.4 337.5L395.3 337.2L396.2 336.5L397.1 335.6L398 334.6L398.9 333.5L399.8 332.3L400.7 331.1L401.6 329.9L402.6 328.8L403.5 327.9L404.4 327.1L405.3 326.5L406.2 326L407.1 325.6L408 325.4L408.9 325.3L409.8 325.4L410.7 325.6L411.6 326.1L412.5 326.7L413.4 327.5L414.4 328.4L415.3 329.5L416.2 330.6L417.1 331.8L418 333.1L418.9 334.4L419.8 335.7L420.7 336.8L421.6 337.7L422.5 338.5L423.4 339L424.3 339.4L425.3 339.6L426.2 339.7L427.1 339.5L428 339.1L428.9 338.4L429.8 337.5L430.7 336.4L431.6 335.2L432.5 333.9L433.4 332.4L434.3 330.9L435.2 329.5L436.1 328.1L437.1 326.9L438 325.7L438.9 324.7L439.8 323.8L440.7 323L441.6 322.4L442.5 321.8L443.4 321.3L444.3 320.9L445.2 320.5L446.1 320.2L447 320L448 320L448.9 320.1L449.8 320.5L450.7 321.1L451.6 321.8L452.5 322.8L453.4 323.8L454.3 324.9L455.2 326.2L456.1 327.4L457 328.7L457.9 330L458.8 331.2L459.8 332.3L460.7 333.1L461.6 333.8L462.5 334.3L463.4 334.6L464.3 334.8L465.2 334.9L466.1 335.1L467 335.2L467.9 335.3L468.8 335.4L469.7 335.5L470.7 335.6L471.6 335.7L472.5 335.8L473.4 336L474.3 336.3L475.2 336.6L476.1 337L477 337.4L477.9 337.8L478.8 338.1L479.7 338.4L480.6 338.7L481.5 338.9L482.5 339L483.4 339.2L484.3 339.3L485.2 339.5L486.1 339.6L487 339.6L487.9 339.7L488.8 339.7L489.7 339.7L490.6 339.7L491.5 339.7L492.4 339.7L493.4 339.7L494.3 339.6L495.2 339.6L496.1 339.5L497 339.4L497.9 339.3L498.8 339.2L499.7 339.1L500.6 339L501.5 338.9L502.4 338.8L503.3 338.7L504.2 338.6L505.2 338.5L506.1 338.3L507 338.2L507.9 338.1L508.8 338L509.7 337.9L510.6 337.8L511.5 337.7L512.4 337.6L513.3 337.5L514.2 337.5L515.1 337.4L516.1 337.3L517 337.3L517.9 337.2L518.8 337.2L519.7 337.2L520.6 337.1L521.5 337.1L521.5 353.7L520.6 353.7L519.7 353.7L518.8 353.8L517.9 353.8L517 353.9L516.1 353.9L515.1 354L514.2 354L513.3 354.1L512.4 354.2L511.5 354.3L510.6 354.3L509.7 354.4L508.8 354.5L507.9 354.6L507 354.8L506.1 354.9L505.2 355L504.2 355.2L503.3 355.3L502.4 355.4L501.5 355.5L500.6 355.5L499.7 355.6L498.8 355.6L497.9 355.7L497 355.7L496.1 355.7L495.2 355.7L494.3 355.7L493.4 355.6L492.4 355.6L491.5 355.5L490.6 355.4L489.7 355.3L488.8 355.2L487.9 355.1L487 354.9L486.1 354.7L485.2 354.5L484.3 354.3L483.4 354.1L482.5 353.9L481.5 353.7L480.6 353.5L479.7 353.2L478.8 353L477.9 352.8L477 352.5L476.1 352.3L475.2 352L474.3 351.8L473.4 351.6L472.5 351.3L471.6 351.1L470.7 350.9L469.7 350.7L468.8 350.5L467.9 350.3L467 350.2L466.1 350.1L465.2 350L464.3 349.9L463.4 349.8L462.5 349.8L461.6 349.8L460.7 349.9L459.8 349.9L458.8 350L457.9 350.1L457 350.3L456.1 350.4L455.2 350.6L454.3 350.7L453.4 350.9L452.5 351.1L451.6 351.3L450.7 351.5L449.8 351.7L448.9 351.8L448 351.9L447 351.9L446.1 352L445.2 352L444.3 351.9L443.4 351.9L442.5 351.8L441.6 351.8L440.7 351.7L439.8 351.6L438.9 351.5L438 351.3L437.1 351.2L436.1 351.1L435.2 351.1L434.3 351L433.4 351L432.5 351L431.6 351.1L430.7 351.3L429.8 351.7L428.9 352.2L428 352.9L427.1 353.8L426.2 354.9L425.3 356L424.3 357.3L423.4 358.6L422.5 360L421.6 361.5L420.7 363L419.8 364.4L418.9 365.8L418 367.1L417.1 368.3L416.2 369.4L415.3 370.5L414.4 371.5L413.4 372.4L412.5 373.3L411.6 373.9L410.7 374.5L409.8 374.8L408.9 375L408 375L407.1 374.7L406.2 374.3L405.3 373.7L404.4 373L403.5 372.2L402.6 371.2L401.6 370L400.7 368.6L399.8 367.2L398.9 365.7L398 364.2L397.1 362.7L396.2 361.3L395.3 359.9L394.4 358.7L393.5 357.6L392.6 356.7L391.7 355.9L390.7 355.3L389.8 354.8L388.9 354.5L388 354.2L387.1 353.9L386.2 353.8L385.3 353.7Z"/>
<path class="bo" d="M385.3 319.8L386.2 319.9L387.1 320L388 320.1L388.9 320.3L389.8 320.5L390.7 320.9L391.7 321.3L392.6 321.7L393.5 322.2L394.4 322.6L395.3 322.9L396.2 323.2L397.1 323.2L398 323.2L398.9 323L399.8 322.6L400.7 322.2L401.6 321.6L402.6 321L403.5 320.3L404.4 319.5L405.3 318.7L406.2 317.9L407.1 317L408 316.1L408.9 315.2L409.8 314.4L410.7 313.6L411.6 312.8L412.5 312.1L413.4 311.5L414.4 310.8L415.3 310.2L416.2 309.7L417.1 309.2L418 308.7L418.9 308.3L419.8 307.9L420.7 307.6L421.6 307.2L422.5 306.9L423.4 306.7L424.3 306.4L425.3 306.2L426.2 306L427.1 305.8L428 305.7L428.9 305.5L429.8 305.4L430.7 305.2L431.6 305.1L432.5 304.9L433.4 304.7L434.3 304.6L435.2 304.3L436.1 304.1L437.1 303.9L438 303.6L438.9 303.4L439.8 303.1L440.7 302.8L441.6 302.5L442.5 302.2L443.4 301.9L444.3 301.5L445.2 301.1L446.1 300.6L447 300.1L448 299.4L448.9 298.7L449.8 298L450.7 297.2L451.6 296.4L452.5 295.6L453.4 294.8L454.3 294L455.2 293.2L456.1 292.4L457 291.6L457.9 290.8L458.8 290L459.8 289.3L460.7 288.7L461.6 288.4L462.5 288.3L463.4 288.5L464.3 288.9L465.2 289.6L466.1 290.5L467 291.6L467.9 292.9L468.8 294.2L469.7 295.6L470.7 296.9L471.6 298.2L472.5 299.4L473.4 300.5L474.3 301.5L475.2 302.5L476.1 303.3L477 304.1L477.9 304.9L478.8 305.6L479.7 306.3L480.6 306.9L481.5 307.6L482.5 308.3L483.4 309L484.3 309.7L485.2 310.3L486.1 311L487 311.8L487.9 312.5L488.8 313.3L489.7 314.1L490.6 314.9L491.5 315.8L492.4 316.5L493.4 317.3L494.3 317.9L495.2 318.6L496.1 319.1L497 319.6L497.9 320.1L498.8 320.4L499.7 320.7L500.6 320.9L501.5 321L502.4 321L503.3 320.9L504.2 320.8L505.2 320.7L506.1 320.5L507 320.3L507.9 320.1L508.8 319.8L509.7 319.5L510.6 319.3L511.5 319L512.4 318.9L513.3 318.8L514.2 318.8L515.1 318.9L516.1 319L517 319.2L517.9 319.4L518.8 319.6L519.7 319.9L520.6 320.1L521.5 320.3L521.5 342L520.6 342L519.7 342L518.8 342.1L517.9 342.1L517 342.2L516.1 342.2L515.1 342.3L514.2 342.3L513.3 342.4L512.4 342.5L511.5 342.5L510.6 342.6L509.7 342.7L508.8 342.8L507.9 342.9L507 343L506.1 343.1L505.2 343.2L504.2 343.2L503.3 343.3L502.4 343.4L501.5 343.5L500.6 343.6L499.7 343.7L498.8 343.8L497.9 343.9L497 344L496.1 344.1L495.2 344.1L494.3 344.2L493.4 344.2L492.4 344.1L491.5 344L490.6 343.7L489.7 343.5L488.8 343.1L487.9 342.7L487 342.3L486.1 341.8L485.2 341.4L484.3 340.9L483.4 340.3L482.5 339.8L481.5 339.3L480.6 338.6L479.7 338L478.8 337.2L477.9 336.3L477 335.3L476.1 334.2L475.2 333L474.3 331.8L473.4 330.7L472.5 329.6L471.6 328.6L470.7 327.6L469.7 326.7L468.8 326L467.9 325.4L467 325L466.1 324.8L465.2 324.8L464.3 325L463.4 325.3L462.5 325.6L461.6 326.1L460.7 326.7L459.8 327.3L458.8 328L457.9 328.7L457 329.5L456.1 330.2L455.2 330.9L454.3 331.6L453.4 332.2L452.5 332.8L451.6 333.3L450.7 333.8L449.8 334.3L448.9 334.8L448 335.1L447 335.5L446.1 335.8L445.2 336L444.3 336.2L443.4 336.3L442.5 336.5L441.6 336.6L440.7 336.7L439.8 336.9L438.9 337L438 337.2L437.1 337.4L436.1 337.7L435.2 337.9L434.3 338.2L433.4 338.5L432.5 338.9L431.6 339.3L430.7 339.9L429.8 340.4L428.9 341.1L428 341.7L427.1 342.4L426.2 343L425.3 343.7L424.3 344.4L423.4 345L422.5 345.6L421.6 346.3L420.7 346.9L419.8 347.5L418.9 348.1L418 348.6L417.1 349.1L416.2 349.6L415.3 350L414.4 350.4L413.4 350.7L412.5 351.1L411.6 351.4L410.7 351.8L409.8 352.1L408.9 352.5L408 352.8L407.1 353.1L406.2 353.4L405.3 353.6L404.4 353.8L403.5 353.8L402.6 353.8L401.6 353.8L400.7 353.6L399.8 353.4L398.9 353.1L398 352.8L397.1 352.3L396.2 351.7L395.3 351L394.4 350.2L393.5 349.3L392.6 348.4L391.7 347.5L390.7 346.6L389.8 345.7L388.9 344.9L388 344.1L387.1 343.4L386.2 342.8L385.3 342.3Z"/>
<path class="go" clip-path="url(#cp9)" d="M385.3 279.60H521.5M385.3 293.28H521.5M385.3 306.95H521.5M385.3 320.62H521.5M385.3 334.30H521.5M385.3 347.98H521.5M385.3 361.65H521.5M385.3 375.32H521.5M385.3 389.00H521.5"/>
<path class="si" d="M385.3 337.7L386.2 337.6L387.1 337.5L388 337.3L388.9 337.3L389.8 337.2L390.7 337.3L391.7 337.4L392.6 337.5L393.5 337.6L394.4 337.5L395.3 337.2L396.2 336.5L397.1 335.6L398 334.6L398.9 333.5L399.8 332.3L400.7 331.1L401.6 329.9L402.6 328.8L403.5 327.9L404.4 327.1L405.3 326.5L406.2 326L407.1 325.6L408 325.4L408.9 325.3L409.8 325.4L410.7 325.6L411.6 326.1L412.5 326.7L413.4 327.5L414.4 328.4L415.3 329.5L416.2 330.6L417.1 331.8L418 333.1L418.9 334.4L419.8 335.7L420.7 336.8L421.6 337.7L422.5 338.5L423.4 339L424.3 339.4L425.3 339.6L426.2 339.7L427.1 339.5L428 339.1L428.9 338.4L429.8 337.5L430.7 336.4L431.6 335.2L432.5 333.9L433.4 332.4L434.3 330.9L435.2 329.5L436.1 328.1L437.1 326.9L438 325.7L438.9 324.7L439.8 323.8L440.7 323L441.6 322.4L442.5 321.8L443.4 321.3L444.3 320.9L445.2 320.5L446.1 320.2L447 320L448 320L448.9 320.1L449.8 320.5L450.7 321.1L451.6 321.8L452.5 322.8L453.4 323.8L454.3 324.9L455.2 326.2L456.1 327.4L457 328.7L457.9 330L458.8 331.2L459.8 332.3L460.7 333.1L461.6 333.8L462.5 334.3L463.4 334.6L464.3 334.8L465.2 334.9L466.1 335.1L467 335.2L467.9 335.3L468.8 335.4L469.7 335.5L470.7 335.6L471.6 335.7L472.5 335.8L473.4 336L474.3 336.3L475.2 336.6L476.1 337L477 337.4L477.9 337.8L478.8 338.1L479.7 338.4L480.6 338.7L481.5 338.9L482.5 339L483.4 339.2L484.3 339.3L485.2 339.5L486.1 339.6L487 339.6L487.9 339.7L488.8 339.7L489.7 339.7L490.6 339.7L491.5 339.7L492.4 339.7L493.4 339.7L494.3 339.6L495.2 339.6L496.1 339.5L497 339.4L497.9 339.3L498.8 339.2L499.7 339.1L500.6 339L501.5 338.9L502.4 338.8L503.3 338.7L504.2 338.6L505.2 338.5L506.1 338.3L507 338.2L507.9 338.1L508.8 338L509.7 337.9L510.6 337.8L511.5 337.7L512.4 337.6L513.3 337.5L514.2 337.5L515.1 337.4L516.1 337.3L517 337.3L517.9 337.2L518.8 337.2L519.7 337.2L520.6 337.1L521.5 337.1" stroke-opacity=".85"/>
<path class="si" d="M385.3 353.7L386.2 353.8L387.1 353.9L388 354.2L388.9 354.5L389.8 354.8L390.7 355.3L391.7 355.9L392.6 356.7L393.5 357.6L394.4 358.7L395.3 359.9L396.2 361.3L397.1 362.7L398 364.2L398.9 365.7L399.8 367.2L400.7 368.6L401.6 370L402.6 371.2L403.5 372.2L404.4 373L405.3 373.7L406.2 374.3L407.1 374.7L408 375L408.9 375L409.8 374.8L410.7 374.5L411.6 373.9L412.5 373.3L413.4 372.4L414.4 371.5L415.3 370.5L416.2 369.4L417.1 368.3L418 367.1L418.9 365.8L419.8 364.4L420.7 363L421.6 361.5L422.5 360L423.4 358.6L424.3 357.3L425.3 356L426.2 354.9L427.1 353.8L428 352.9L428.9 352.2L429.8 351.7L430.7 351.3L431.6 351.1L432.5 351L433.4 351L434.3 351L435.2 351.1L436.1 351.1L437.1 351.2L438 351.3L438.9 351.5L439.8 351.6L440.7 351.7L441.6 351.8L442.5 351.8L443.4 351.9L444.3 351.9L445.2 352L446.1 352L447 351.9L448 351.9L448.9 351.8L449.8 351.7L450.7 351.5L451.6 351.3L452.5 351.1L453.4 350.9L454.3 350.7L455.2 350.6L456.1 350.4L457 350.3L457.9 350.1L458.8 350L459.8 349.9L460.7 349.9L461.6 349.8L462.5 349.8L463.4 349.8L464.3 349.9L465.2 350L466.1 350.1L467 350.2L467.9 350.3L468.8 350.5L469.7 350.7L470.7 350.9L471.6 351.1L472.5 351.3L473.4 351.6L474.3 351.8L475.2 352L476.1 352.3L477 352.5L477.9 352.8L478.8 353L479.7 353.2L480.6 353.5L481.5 353.7L482.5 353.9L483.4 354.1L484.3 354.3L485.2 354.5L486.1 354.7L487 354.9L487.9 355.1L488.8 355.2L489.7 355.3L490.6 355.4L491.5 355.5L492.4 355.6L493.4 355.6L494.3 355.7L495.2 355.7L496.1 355.7L497 355.7L497.9 355.7L498.8 355.6L499.7 355.6L500.6 355.5L501.5 355.5L502.4 355.4L503.3 355.3L504.2 355.2L505.2 355L506.1 354.9L507 354.8L507.9 354.6L508.8 354.5L509.7 354.4L510.6 354.3L511.5 354.3L512.4 354.2L513.3 354.1L514.2 354L515.1 354L516.1 353.9L517 353.9L517.9 353.8L518.8 353.8L519.7 353.7L520.6 353.7L521.5 353.7" stroke-opacity=".7"/>
<path class="mo" d="M385.3 330.6L386.2 331L387.1 331.4L388 331.9L388.9 332.5L389.8 333.1L390.7 333.7L391.7 334.4L392.6 335.1L393.5 335.7L394.4 336.4L395.3 337L396.2 337.4L397.1 337.8L398 338L398.9 338.2L399.8 338.3L400.7 338.3L401.6 338.2L402.6 338.1L403.5 337.9L404.4 337.5L405.3 337.1L406.2 336.5L407.1 335.9L408 335.2L408.9 334.5L409.8 333.8L410.7 333.2L411.6 332.5L412.5 331.9L413.4 331.3L414.4 330.7L415.3 330.1L416.2 329.5L417.1 328.9L418 328.3L418.9 327.8L419.8 327.2L420.7 326.7L421.6 326.2L422.5 325.8L423.4 325.3L424.3 324.9L425.3 324.6L426.2 324.3L427.1 324L428 323.8L428.9 323.5L429.8 323.3L430.7 323L431.6 322.8L432.5 322.6L433.4 322.3L434.3 322.1L435.2 321.9L436.1 321.7L437.1 321.5L438 321.3L438.9 321.1L439.8 320.9L440.7 320.6L441.6 320.3L442.5 320L443.4 319.7L444.3 319.3L445.2 318.8L446.1 318.3L447 317.8L448 317.2L448.9 316.6L449.8 316L450.7 315.3L451.6 314.7L452.5 314L453.4 313.3L454.3 312.6L455.2 312L456.1 311.3L457 310.7L457.9 310.1L458.8 309.5L459.8 308.9L460.7 308.4L461.6 307.9L462.5 307.5L463.4 307.3L464.3 307.3L465.2 307.5L466.1 307.9L467 308.5L467.9 309.3L468.8 310.2L469.7 311.2L470.7 312.3L471.6 313.5L472.5 314.6L473.4 315.7L474.3 316.8L475.2 317.9L476.1 318.9L477 319.9L477.9 320.9L478.8 321.8L479.7 322.7L480.6 323.5L481.5 324.3L482.5 325L483.4 325.7L484.3 326.3L485.2 326.9L486.1 327.5L487 328.1L487.9 328.6L488.8 329.1L489.7 329.5L490.6 329.9L491.5 330.3L492.4 330.6L493.4 330.9L494.3 331.1L495.2 331.3L496.1 331.5L497 331.6L497.9 331.8L498.8 331.8L499.7 331.9L500.6 332L501.5 332L502.4 332L503.3 331.9L504.2 331.9L505.2 331.8L506.1 331.7L507 331.7L507.9 331.6L508.8 331.5L509.7 331.5L510.6 331.5L511.5 331.5L512.4 331.4L513.3 331.4L514.2 331.4L515.1 331.4L516.1 331.4L517 331.4L517.9 331.4L518.8 331.4L519.7 331.4L520.6 331.5L521.5 331.5"/>
<path class="mi" d="M385.3 346.3L386.2 346.5L387.1 346.7L388 347L388.9 347.3L389.8 347.7L390.7 348L391.7 348.4L392.6 348.8L393.5 349.1L394.4 349.5L395.3 349.7L396.2 350L397.1 350.2L398 350.3L398.9 350.4L399.8 350.5L400.7 350.5L401.6 350.6L402.6 350.6L403.5 350.6L404.4 350.6L405.3 350.6L406.2 350.6L407.1 350.6L408 350.6L408.9 350.6L409.8 350.6L410.7 350.6L411.6 350.6L412.5 350.5L413.4 350.5L414.4 350.5L415.3 350.5L416.2 350.4L417.1 350.4L418 350.3L418.9 350.2L419.8 350L420.7 349.7L421.6 349.4L422.5 348.9L423.4 348.3L424.3 347.7L425.3 347.1L426.2 346.4L427.1 345.7L428 345L428.9 344.3L429.8 343.7L430.7 343L431.6 342.3L432.5 341.6L433.4 341L434.3 340.3L435.2 339.7L436.1 339.2L437.1 338.7L438 338.2L438.9 337.8L439.8 337.4L440.7 337.1L441.6 336.8L442.5 336.6L443.4 336.4L444.3 336.3L445.2 336.2L446.1 336.1L447 336.1L448 336.2L448.9 336.2L449.8 336.4L450.7 336.6L451.6 336.8L452.5 337.1L453.4 337.5L454.3 337.9L455.2 338.4L456.1 338.8L457 339.2L457.9 339.7L458.8 340.1L459.8 340.5L460.7 340.9L461.6 341.3L462.5 341.7L463.4 342.1L464.3 342.5L465.2 342.9L466.1 343.3L467 343.6L467.9 344L468.8 344.3L469.7 344.6L470.7 344.9L471.6 345.2L472.5 345.5L473.4 345.8L474.3 346L475.2 346.3L476.1 346.5L477 346.8L477.9 347L478.8 347.2L479.7 347.4L480.6 347.6L481.5 347.7L482.5 347.9L483.4 348L484.3 348.1L485.2 348.2L486.1 348.3L487 348.4L487.9 348.4L488.8 348.5L489.7 348.5L490.6 348.6L491.5 348.6L492.4 348.6L493.4 348.6L494.3 348.6L495.2 348.6L496.1 348.6L497 348.5L497.9 348.5L498.8 348.4L499.7 348.3L500.6 348.3L501.5 348.2L502.4 348.1L503.3 348L504.2 347.8L505.2 347.7L506.1 347.6L507 347.4L507.9 347.3L508.8 347.1L509.7 346.9L510.6 346.8L511.5 346.6L512.4 346.5L513.3 346.4L514.2 346.3L515.1 346.2L516.1 346L517 345.9L517.9 345.8L518.8 345.8L519.7 345.7L520.6 345.6L521.5 345.5"/>
<text class="tk" transform="translate(381.40,281.10) scale(1,1.1)" text-anchor="end">20</text>
<text class="tk" transform="translate(381.40,294.78) scale(1,1.1)" text-anchor="end">15</text>
<text class="tk" transform="translate(381.40,308.45) scale(1,1.1)" text-anchor="end">10</text>
<text class="tk" transform="translate(381.40,322.12) scale(1,1.1)" text-anchor="end">5</text>
<text class="tk" transform="translate(381.40,335.80) scale(1,1.1)" text-anchor="end">0</text>
<text class="tk" transform="translate(381.40,349.48) scale(1,1.1)" text-anchor="end">-5</text>
<text class="tk" transform="translate(381.40,363.15) scale(1,1.1)" text-anchor="end">-10</text>
<text class="tk" transform="translate(381.40,376.82) scale(1,1.1)" text-anchor="end">-15</text>
<text class="tk" transform="translate(381.40,390.50) scale(1,1.1)" text-anchor="end">-20</text>
<text class="tk" transform="translate(385.30,341.30) scale(1,1.1)" text-anchor="middle">0</text>
<text class="tk" transform="translate(412.54,341.30) scale(1,1.1)" text-anchor="middle">20</text>
<text class="tk" transform="translate(439.78,341.30) scale(1,1.1)" text-anchor="middle">40</text>
<text class="tk" transform="translate(467.02,341.30) scale(1,1.1)" text-anchor="middle">60</text>
<text class="tk" transform="translate(494.26,341.30) scale(1,1.1)" text-anchor="middle">80</text>
<text class="tk" transform="translate(521.50,341.30) scale(1,1.1)" text-anchor="middle">100</text>
<text class="tt" transform="translate(456.45,274.20) scale(1,1.18)" text-anchor="middle">Sound Ankle Rotation ( +ve Internal)</text>
<text class="ax" transform="translate(453.20,394.40) scale(1,1.12)" text-anchor="middle">% gait cycle</text>
<text class="ax" transform="translate(373.90,334.60) rotate(-90)" text-anchor="middle">Degrees</text>
<line x1="527.90" y1="334.20" x2="535.90" y2="334.20" stroke="#222" stroke-width="1"/>
<text class="lg" x="536.00" y="335.40">IMU</text>
<line x1="528.20" y1="340.90" x2="535.90" y2="340.90" stroke="#25b45e" stroke-width="1.1" stroke-dasharray="1.7 1.1"/>
<text class="lg" x="536.00" y="342.10">OMC</text>
</g>
<rect x="3.3" y="3.6" width="543.6" height="394.8" fill="none" stroke="#111" stroke-width="1.2"/>
<path d="M3.3 398.7H547.2V3.6" fill="none" stroke="#111" stroke-width="1.6"/>
</svg></body></html>
